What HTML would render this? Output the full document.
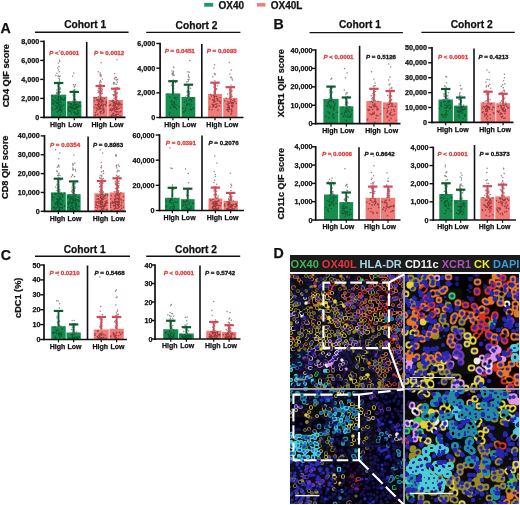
<!DOCTYPE html>
<html><head><meta charset="utf-8"><style>
html,body{margin:0;padding:0;background:#fff;width:520px;height:505px;overflow:hidden}
svg{display:block}
text{font-family:"Liberation Sans",Arial,sans-serif}
</style></head><body>
<svg width="520" height="505" viewBox="0 0 520 505">
<rect width="520" height="505" fill="#fff"/>
<rect x="51.00" y="94.70" width="15.20" height="22.70" fill="#168c4e" />
<rect x="67.10" y="101.30" width="14.30" height="16.10" fill="#168c4e" />
<rect x="93.10" y="96.90" width="14.30" height="20.50" fill="#ef7b7b" />
<rect x="108.30" y="100.00" width="14.60" height="17.40" fill="#ef7b7b" />
<path d="M57.9 100.5h0M61.9 109.9h0M59.4 109.3h0M60.2 97.3h0M58.5 106.2h0M60.4 101.0h0M56.0 100.8h0M52.2 102.9h0M60.7 97.5h0M61.6 111.1h0M52.2 95.6h0M52.5 109.8h0M62.1 98.5h0M59.1 105.4h0M60.3 109.9h0M60.4 98.4h0M52.3 108.8h0M54.4 101.9h0M63.8 105.1h0M56.5 103.3h0M57.3 99.1h0M60.6 107.8h0M58.0 104.1h0M59.5 107.9h0M57.2 112.1h0M57.4 102.7h0M64.5 99.2h0M52.2 95.9h0M57.2 108.6h0M60.7 112.3h0M61.7 105.4h0M53.8 103.5h0M61.2 99.5h0M59.1 102.5h0M57.7 103.7h0M53.7 104.5h0M63.7 100.2h0M58.3 98.0h0M56.7 106.9h0M63.4 99.7h0M61.2 102.7h0M58.4 103.1h0M61.9 106.7h0M52.6 99.6h0M55.1 97.4h0M58.5 96.8h0M60.3 114.9h0M53.3 100.4h0M56.7 107.7h0M59.1 102.8h0M58.2 96.4h0M60.7 107.1h0M59.6 109.2h0M65.0 98.1h0M55.7 105.6h0M58.3 104.5h0M60.6 109.6h0M52.2 107.8h0M58.4 111.0h0M60.3 97.4h0M57.3 108.4h0M55.5 109.2h0M61.8 109.5h0M52.2 96.3h0M56.2 102.2h0M59.8 110.4h0M58.8 100.8h0M58.6 99.8h0M60.0 104.7h0" stroke="#0b4d2a" stroke-opacity="0.8" stroke-width="1.6" stroke-linecap="round"/>
<path d="M58.3 93.4h0M59.1 89.5h0M58.9 91.7h0M59.9 88.9h0M59.3 92.9h0M58.9 86.7h0M58.9 78.5h0M58.2 83.7h0M59.3 81.1h0M57.9 85.8h0M60.0 91.6h0M55.8 75.6h0M57.9 75.9h0M58.4 94.1h0M58.3 63.0h0M57.7 68.1h0M58.4 93.7h0M58.5 93.7h0M58.5 70.0h0M58.2 93.5h0M59.3 76.7h0M59.4 71.7h0M59.6 50.7h0M56.9 73.3h0M60.0 88.2h0M59.4 60.3h0M59.4 82.2h0M59.8 61.6h0M56.6 93.7h0M58.4 94.6h0M59.7 84.0h0M57.3 92.3h0M56.9 90.1h0M56.5 95.5h0M56.5 92.4h0M59.6 79.4h0M60.0 87.8h0M59.1 66.6h0M59.6 92.6h0M58.7 89.6h0M60.1 75.9h0M60.6 92.0h0M60.5 89.1h0M59.1 93.7h0M57.7 94.7h0M58.8 83.4h0M58.4 75.9h0M55.6 94.9h0" stroke="#555" stroke-opacity="0.7" stroke-width="1.5" stroke-linecap="round"/>
<path d="M73.1 105.5h0M70.2 103.9h0M78.7 113.1h0M76.4 107.6h0M77.3 112.1h0M71.0 107.0h0M76.0 106.7h0M77.0 107.4h0M73.2 107.9h0M76.6 108.9h0M74.3 111.9h0M71.1 106.4h0M77.5 113.6h0M68.6 110.5h0M70.1 108.2h0M78.7 110.7h0M74.0 112.4h0M73.9 102.3h0M77.6 114.9h0M68.3 102.7h0M75.2 108.7h0M78.1 110.4h0M71.2 108.2h0M74.3 102.7h0M72.0 110.5h0M79.5 116.6h0M78.2 104.8h0M74.2 105.1h0M78.8 107.1h0M77.6 106.9h0M72.3 107.8h0M74.1 104.7h0M75.2 102.1h0M76.5 106.6h0M75.8 108.8h0M68.7 102.7h0M73.5 109.1h0M75.3 108.0h0M71.2 103.7h0M76.5 104.7h0M71.6 107.2h0M76.2 114.1h0M76.9 104.3h0M69.0 111.3h0M79.3 102.5h0M75.5 108.2h0M70.4 111.2h0M73.6 104.4h0M78.4 106.5h0M73.2 108.1h0M69.8 106.4h0M74.3 103.5h0M75.0 105.6h0M72.2 108.4h0M70.6 108.4h0M68.3 110.3h0M74.9 108.6h0M75.0 112.9h0M68.3 109.3h0M76.2 107.0h0M75.6 105.2h0M71.4 113.3h0M75.2 104.8h0M76.9 103.8h0M76.3 107.4h0M79.2 106.1h0M74.4 108.1h0M71.1 104.4h0M72.6 106.1h0M74.3 109.0h0M75.3 114.0h0M80.2 105.9h0M68.3 107.4h0" stroke="#0b4d2a" stroke-opacity="0.8" stroke-width="1.6" stroke-linecap="round"/>
<path d="M75.1 94.2h0M76.9 102.0h0M73.6 90.5h0M73.5 92.7h0M74.9 92.2h0M73.3 91.6h0M74.2 86.3h0M73.6 98.5h0M75.5 99.4h0M74.2 96.9h0M74.3 86.9h0M74.0 101.2h0M73.9 91.4h0M73.5 91.2h0M69.8 101.5h0M74.5 89.4h0M74.8 96.2h0M74.9 91.0h0M75.1 99.1h0M74.6 94.9h0M73.0 94.7h0M75.5 84.8h0M77.7 101.7h0M72.6 76.0h0M72.5 91.7h0M74.2 90.4h0M74.1 95.7h0M74.6 99.5h0M80.2 101.4h0M74.2 99.1h0M74.6 101.2h0M75.9 100.6h0M73.6 96.0h0M74.8 96.1h0M74.9 96.5h0M74.3 95.1h0M74.8 94.4h0M72.5 101.2h0M80.2 101.4h0M73.8 73.1h0M73.6 95.3h0M73.8 90.7h0M74.8 86.5h0M73.5 84.5h0" stroke="#555" stroke-opacity="0.7" stroke-width="1.5" stroke-linecap="round"/>
<path d="M99.4 109.3h0M97.1 104.9h0M98.3 104.5h0M97.9 107.3h0M99.0 100.2h0M96.2 97.7h0M100.9 108.5h0M101.5 105.3h0M101.8 104.3h0M101.3 102.6h0M96.7 110.7h0M99.4 100.2h0M99.3 107.0h0M97.6 99.8h0M106.2 102.6h0M106.2 101.3h0M94.3 101.1h0M100.5 99.4h0M98.5 99.9h0M100.7 113.8h0M102.5 100.9h0M94.3 107.5h0M99.4 108.8h0M101.2 99.9h0M98.6 105.3h0M100.3 111.8h0M102.1 99.3h0M104.3 98.6h0M100.7 97.8h0M102.9 108.1h0M103.9 112.1h0M103.0 106.8h0M97.3 109.0h0M98.0 101.2h0M100.2 98.8h0M100.4 112.3h0M99.7 108.0h0M100.9 108.9h0M105.5 104.6h0M103.8 109.3h0M96.5 100.0h0M97.7 114.2h0M103.8 104.4h0M101.3 99.9h0M104.0 110.9h0M100.5 105.9h0M98.6 102.7h0M101.2 111.4h0M95.6 114.9h0M97.0 105.1h0M97.7 104.9h0M102.3 104.0h0M99.8 104.1h0M97.6 104.7h0M94.3 97.9h0M106.0 105.5h0M103.3 108.9h0M101.1 101.7h0M101.8 101.2h0M100.9 108.9h0M98.4 109.2h0M103.1 113.2h0M98.5 103.5h0M95.5 112.5h0M102.2 101.6h0M94.9 115.2h0M100.5 106.3h0M99.8 101.6h0M106.2 103.4h0M102.9 109.9h0M98.2 100.0h0M103.1 105.7h0M98.2 100.7h0M95.4 104.9h0M103.5 101.6h0M100.8 106.8h0M96.4 108.2h0M98.6 106.1h0" stroke="#8a2a2a" stroke-opacity="0.8" stroke-width="1.6" stroke-linecap="round"/>
<path d="M100.2 92.3h0M98.1 90.2h0M100.2 94.5h0M100.8 96.6h0M101.1 76.6h0M100.1 73.0h0M102.2 93.3h0M101.2 90.8h0M100.3 89.5h0M102.6 86.6h0M101.6 91.3h0M100.4 80.5h0M100.8 51.8h0M102.9 97.5h0M99.8 82.3h0M100.8 96.3h0M100.8 86.8h0M99.9 93.2h0M99.0 92.0h0M100.9 97.3h0M99.6 84.1h0M100.9 96.6h0M100.1 91.5h0M98.4 96.5h0M100.8 96.8h0M100.1 74.3h0M101.3 86.3h0M106.2 97.2h0M101.2 82.0h0M100.7 84.6h0M100.5 96.8h0M101.1 96.7h0M102.4 89.4h0M101.1 91.6h0M98.3 71.8h0M100.5 91.9h0M99.9 91.4h0M100.2 93.7h0M97.9 92.5h0M101.7 93.6h0M102.0 92.1h0M99.9 91.1h0M100.5 96.7h0M100.2 85.4h0M101.8 88.6h0M99.1 87.6h0M99.9 82.0h0M100.2 85.5h0M98.7 91.8h0M98.6 88.4h0M100.9 94.3h0M100.3 88.7h0M101.6 88.4h0M102.3 79.0h0M101.1 62.7h0M100.4 75.6h0M99.6 91.6h0M99.8 84.5h0M101.0 75.1h0M100.6 95.6h0M99.9 84.2h0M101.5 88.3h0M99.5 88.4h0M99.9 84.9h0M102.0 90.3h0" stroke="#7a4444" stroke-opacity="0.7" stroke-width="1.5" stroke-linecap="round"/>
<path d="M110.0 110.3h0M113.8 107.7h0M115.3 105.5h0M118.0 111.9h0M117.2 109.1h0M116.9 103.7h0M114.3 103.4h0M111.5 110.7h0M114.5 102.7h0M113.0 105.9h0M116.6 112.0h0M113.3 102.6h0M116.1 109.5h0M118.4 114.2h0M120.1 111.9h0M116.7 103.0h0M120.1 103.6h0M115.0 111.3h0M116.4 107.0h0M111.5 115.6h0M117.9 104.8h0M119.1 108.4h0M114.2 108.5h0M119.2 103.6h0M116.8 101.1h0M121.7 104.8h0M113.9 104.1h0M116.5 116.6h0M114.5 106.8h0M118.9 102.5h0M113.0 113.4h0M120.0 115.7h0M116.6 108.1h0M120.1 105.0h0M112.5 109.9h0M110.7 109.1h0M114.6 102.1h0M112.0 101.2h0M111.8 116.2h0M116.8 104.1h0M112.7 114.7h0M109.5 105.4h0M113.3 105.2h0M112.2 108.7h0M114.4 105.4h0M118.5 114.2h0M113.1 113.7h0M118.6 105.8h0M116.9 114.2h0M114.0 115.6h0M115.2 103.0h0M116.0 116.4h0M120.8 111.3h0M117.3 107.6h0M116.1 115.5h0M114.5 106.0h0M114.5 110.0h0M115.7 104.3h0M118.9 102.1h0M119.9 104.5h0M113.9 113.3h0M110.1 105.4h0M118.4 104.1h0M113.3 102.6h0M110.5 104.9h0M113.8 109.0h0M116.0 107.5h0M113.2 100.8h0M117.6 109.3h0M119.9 104.5h0M116.1 103.3h0M116.3 111.8h0M115.5 114.5h0M116.2 107.6h0M116.5 101.5h0M115.4 111.3h0M116.2 108.4h0M121.0 107.5h0" stroke="#8a2a2a" stroke-opacity="0.8" stroke-width="1.6" stroke-linecap="round"/>
<path d="M116.2 87.7h0M114.4 94.2h0M116.6 97.0h0M113.4 84.0h0M114.8 73.4h0M113.9 94.4h0M114.8 91.8h0M112.6 100.4h0M114.0 98.4h0M115.5 77.3h0M117.0 80.0h0M114.7 78.8h0M115.8 98.1h0M117.5 92.7h0M116.9 59.8h0M116.1 92.9h0M114.5 95.4h0M113.6 82.6h0M115.7 97.8h0M117.3 100.3h0M115.7 98.5h0M115.9 92.4h0M115.5 94.0h0M115.8 99.6h0M115.4 88.9h0M116.5 99.0h0M116.3 77.5h0M112.8 99.9h0M115.5 93.0h0M117.0 94.1h0M116.9 92.8h0M114.8 95.0h0M115.3 90.4h0M114.9 92.3h0M115.0 84.0h0M114.7 78.2h0M115.2 97.5h0M116.9 93.7h0M116.6 79.9h0M116.8 96.2h0M115.7 93.6h0M116.8 88.8h0M117.4 87.7h0M116.2 89.2h0M113.1 94.4h0M114.1 94.4h0M116.9 97.3h0M113.5 95.8h0M115.9 95.8h0M117.6 79.2h0M116.1 79.7h0M116.8 97.1h0M114.0 91.2h0M114.9 95.5h0M117.3 82.2h0M116.6 84.2h0M116.6 96.8h0M115.4 96.0h0M115.8 97.3h0M114.5 78.8h0M116.3 97.7h0M115.4 95.9h0M117.0 93.8h0M115.0 92.1h0M114.2 82.7h0" stroke="#7a4444" stroke-opacity="0.7" stroke-width="1.5" stroke-linecap="round"/>
<line x1="58.60" y1="94.70" x2="58.60" y2="82.80" stroke="#0b5b31" stroke-width="1.8"/>
<line x1="53.90" y1="83.00" x2="63.30" y2="83.00" stroke="#0b5b31" stroke-width="2.2"/>
<line x1="74.25" y1="101.30" x2="74.25" y2="91.70" stroke="#0b5b31" stroke-width="1.8"/>
<line x1="69.55" y1="91.90" x2="78.95" y2="91.90" stroke="#0b5b31" stroke-width="2.2"/>
<line x1="100.25" y1="96.90" x2="100.25" y2="85.80" stroke="#d24a5a" stroke-width="1.8"/>
<line x1="95.55" y1="86.00" x2="104.95" y2="86.00" stroke="#d24a5a" stroke-width="2.2"/>
<line x1="115.60" y1="100.00" x2="115.60" y2="88.50" stroke="#d24a5a" stroke-width="1.8"/>
<line x1="110.90" y1="88.70" x2="120.30" y2="88.70" stroke="#d24a5a" stroke-width="2.2"/>
<line x1="44.00" y1="40.60" x2="44.00" y2="118.20" stroke="#111" stroke-width="1.7"/>
<line x1="43.20" y1="117.40" x2="125.50" y2="117.40" stroke="#111" stroke-width="1.7"/>
<line x1="40.20" y1="117.40" x2="44.00" y2="117.40" stroke="#111" stroke-width="1.4"/>
<text x="39.30" y="119.90" font-size="7.2" font-weight="bold" fill="#111" stroke="#111" stroke-width="0.25" text-anchor="end" >0</text>
<line x1="40.20" y1="98.40" x2="44.00" y2="98.40" stroke="#111" stroke-width="1.4"/>
<text x="39.30" y="100.90" font-size="7.2" font-weight="bold" fill="#111" stroke="#111" stroke-width="0.25" text-anchor="end" >2,000</text>
<line x1="40.20" y1="79.40" x2="44.00" y2="79.40" stroke="#111" stroke-width="1.4"/>
<text x="39.30" y="81.90" font-size="7.2" font-weight="bold" fill="#111" stroke="#111" stroke-width="0.25" text-anchor="end" >4,000</text>
<line x1="40.20" y1="60.40" x2="44.00" y2="60.40" stroke="#111" stroke-width="1.4"/>
<text x="39.30" y="62.90" font-size="7.2" font-weight="bold" fill="#111" stroke="#111" stroke-width="0.25" text-anchor="end" >6,000</text>
<line x1="40.20" y1="41.40" x2="44.00" y2="41.40" stroke="#111" stroke-width="1.4"/>
<text x="39.30" y="43.90" font-size="7.2" font-weight="bold" fill="#111" stroke="#111" stroke-width="0.25" text-anchor="end" >8,000</text>
<line x1="86.70" y1="41.90" x2="86.70" y2="117.40" stroke="#111" stroke-width="1.6"/>
<line x1="58.60" y1="117.40" x2="58.60" y2="120.20" stroke="#111" stroke-width="1.2"/>
<text x="57.70" y="126.60" font-size="7.0" font-weight="bold" fill="#111" stroke="#111" stroke-width="0.25" text-anchor="middle" >High</text>
<line x1="74.25" y1="117.40" x2="74.25" y2="120.20" stroke="#111" stroke-width="1.2"/>
<text x="75.15" y="126.60" font-size="7.0" font-weight="bold" fill="#111" stroke="#111" stroke-width="0.25" text-anchor="middle" >Low</text>
<line x1="100.25" y1="117.40" x2="100.25" y2="120.20" stroke="#111" stroke-width="1.2"/>
<text x="99.35" y="126.60" font-size="7.0" font-weight="bold" fill="#111" stroke="#111" stroke-width="0.25" text-anchor="middle" >High</text>
<line x1="115.60" y1="117.40" x2="115.60" y2="120.20" stroke="#111" stroke-width="1.2"/>
<text x="116.50" y="126.60" font-size="7.0" font-weight="bold" fill="#111" stroke="#111" stroke-width="0.25" text-anchor="middle" >Low</text>
<text x="49.20" y="55.30" font-size="6.2" font-weight="bold" fill="#d6403f" stroke="#d6403f" stroke-width="0.3"><tspan font-style="italic">P</tspan> < 0.0001</text>
<text x="94.10" y="55.30" font-size="6.2" font-weight="bold" fill="#d6403f" stroke="#d6403f" stroke-width="0.3"><tspan font-style="italic">P</tspan> = 0.0012</text>
<rect x="165.60" y="93.40" width="14.70" height="24.10" fill="#168c4e" />
<rect x="181.50" y="97.00" width="13.80" height="20.50" fill="#168c4e" />
<rect x="208.10" y="94.00" width="13.90" height="23.50" fill="#ef7b7b" />
<rect x="223.20" y="97.90" width="14.20" height="19.60" fill="#ef7b7b" />
<path d="M170.1 107.0h0M171.1 101.6h0M173.2 102.2h0M174.5 102.8h0M175.5 107.4h0M172.6 105.5h0M176.1 105.0h0M176.1 99.6h0M179.1 106.7h0M172.8 94.2h0M175.0 98.1h0M173.8 107.4h0M174.8 104.0h0M172.5 104.2h0M171.0 108.3h0M171.7 104.0h0M174.3 97.9h0M169.5 114.5h0M174.2 106.4h0M177.3 97.5h0M176.4 109.2h0M172.5 104.1h0M174.3 101.8h0M169.6 112.5h0M171.6 100.8h0M172.9 105.4h0M175.0 97.3h0M169.8 97.1h0" stroke="#0b4d2a" stroke-opacity="0.8" stroke-width="1.6" stroke-linecap="round"/>
<path d="M173.5 87.0h0M173.2 80.1h0M171.4 85.3h0M175.4 82.8h0M173.7 67.4h0M172.0 71.1h0M173.2 73.6h0M173.0 87.9h0M173.3 83.1h0M173.6 71.5h0M173.8 85.8h0M172.7 82.2h0M173.0 75.4h0M173.0 72.4h0M172.5 90.5h0M172.8 88.9h0M173.7 88.7h0M173.1 74.9h0M173.3 81.8h0M174.2 75.0h0M167.8 93.7h0M172.2 74.3h0M172.6 92.9h0M173.7 91.9h0M173.0 84.0h0M172.3 83.8h0M173.5 66.9h0M173.4 93.6h0M173.3 89.6h0M172.3 73.2h0" stroke="#555" stroke-opacity="0.7" stroke-width="1.5" stroke-linecap="round"/>
<path d="M191.0 99.4h0M183.3 112.3h0M186.6 105.4h0M189.9 99.5h0M188.0 103.7h0M191.7 109.6h0M187.5 104.8h0M189.5 104.0h0M191.5 104.2h0M192.7 98.5h0M190.4 106.3h0M191.1 101.2h0M187.0 104.3h0M193.1 108.3h0M184.1 111.9h0M190.1 110.0h0M185.8 108.4h0M186.5 100.9h0M190.6 108.7h0M189.3 99.7h0M184.3 102.0h0M185.4 110.4h0M191.0 99.2h0M193.7 107.9h0M182.7 108.3h0" stroke="#0b4d2a" stroke-opacity="0.8" stroke-width="1.6" stroke-linecap="round"/>
<path d="M188.5 80.3h0M189.2 77.2h0M187.6 95.8h0M188.5 76.6h0M188.0 90.4h0M187.6 95.3h0M187.2 91.5h0M188.8 95.6h0M189.1 72.3h0M188.9 94.0h0M188.1 92.0h0M188.5 94.6h0M189.7 91.8h0M188.3 75.0h0M186.6 82.0h0M188.9 79.4h0M188.1 81.4h0M185.7 97.1h0M187.9 79.6h0M187.2 92.2h0M188.8 85.1h0M189.0 79.2h0M189.4 97.0h0M189.3 93.5h0M187.9 71.7h0M188.4 94.3h0M187.1 95.4h0M188.3 87.8h0M190.6 88.3h0M189.2 93.9h0M188.4 95.8h0M188.1 96.5h0M189.8 60.6h0" stroke="#555" stroke-opacity="0.7" stroke-width="1.5" stroke-linecap="round"/>
<path d="M214.5 98.7h0M214.4 96.9h0M217.5 100.1h0M215.1 101.3h0M213.7 106.2h0M209.8 107.0h0M212.4 104.4h0M212.7 107.1h0M213.7 95.7h0M209.3 109.3h0M211.4 96.0h0M220.2 101.8h0M212.7 99.9h0M214.6 102.0h0M213.1 100.0h0M216.8 98.5h0M214.5 97.2h0M213.8 106.1h0M216.8 103.7h0M213.7 102.2h0M212.8 104.9h0M215.8 107.4h0M213.8 95.9h0M209.9 98.7h0M220.1 103.1h0M220.0 97.7h0M215.8 104.2h0M217.9 99.7h0M217.4 98.4h0M214.3 100.4h0M217.0 106.0h0M219.2 100.8h0M219.3 105.8h0M214.4 96.9h0M214.1 104.7h0M217.7 110.3h0M215.0 96.2h0M217.4 100.7h0M211.9 109.7h0M216.6 106.6h0M216.5 96.4h0" stroke="#8a2a2a" stroke-opacity="0.8" stroke-width="1.6" stroke-linecap="round"/>
<path d="M215.3 93.6h0M215.7 88.9h0M215.1 73.9h0M213.7 87.1h0M214.0 92.9h0M214.8 89.7h0M214.8 80.8h0M212.8 76.8h0M210.7 94.2h0M215.1 94.5h0M214.0 91.8h0M214.5 93.8h0M215.2 85.0h0M214.5 64.7h0M215.7 89.9h0M214.8 93.5h0M214.7 91.5h0M214.0 68.0h0M215.4 87.3h0M214.3 73.4h0M216.9 89.0h0M216.7 83.3h0M215.8 88.5h0M213.8 84.4h0M215.1 74.8h0M217.4 85.7h0M215.0 82.4h0M215.5 83.0h0M216.7 89.0h0M215.0 85.2h0" stroke="#7a4444" stroke-opacity="0.7" stroke-width="1.5" stroke-linecap="round"/>
<path d="M228.6 111.5h0M231.3 103.6h0M232.7 103.9h0M233.3 102.9h0M231.9 102.2h0M231.8 111.4h0M234.6 99.6h0M229.1 103.2h0M231.7 110.4h0M228.5 109.5h0M228.5 105.4h0M231.6 113.2h0M228.2 107.1h0M231.5 103.1h0M228.0 101.9h0M230.4 101.9h0M229.2 107.9h0M231.0 99.7h0M230.7 99.8h0M227.3 104.3h0M227.8 104.0h0M229.2 106.8h0M236.2 103.2h0M232.2 102.6h0M227.6 110.4h0M233.1 100.5h0M231.5 109.4h0M228.1 105.2h0M233.0 105.9h0M224.8 100.8h0M228.9 109.8h0M231.4 105.6h0M230.9 114.2h0M227.6 107.6h0M229.7 109.0h0M232.3 106.9h0M227.0 109.5h0M229.2 107.1h0M234.7 101.6h0" stroke="#8a2a2a" stroke-opacity="0.8" stroke-width="1.6" stroke-linecap="round"/>
<path d="M231.7 96.4h0M230.4 88.9h0M231.1 97.4h0M231.1 96.2h0M231.7 94.2h0M231.0 84.9h0M230.6 96.4h0M229.8 93.0h0M231.2 76.9h0M232.0 78.8h0M230.6 95.5h0M232.5 80.0h0M226.3 98.1h0M230.1 90.0h0M230.6 77.6h0M229.7 97.4h0M231.3 91.2h0M229.9 74.1h0M229.9 90.6h0M231.7 92.1h0M230.4 90.5h0M230.8 95.6h0M229.9 98.3h0M231.2 94.7h0M231.1 96.1h0M231.2 88.9h0M231.3 69.9h0M229.3 62.6h0M231.9 90.4h0M227.6 94.0h0M232.2 96.2h0M231.9 90.7h0" stroke="#7a4444" stroke-opacity="0.7" stroke-width="1.5" stroke-linecap="round"/>
<line x1="172.95" y1="93.40" x2="172.95" y2="81.00" stroke="#0b5b31" stroke-width="1.8"/>
<line x1="168.25" y1="81.20" x2="177.65" y2="81.20" stroke="#0b5b31" stroke-width="2.2"/>
<line x1="188.40" y1="97.00" x2="188.40" y2="84.50" stroke="#0b5b31" stroke-width="1.8"/>
<line x1="183.70" y1="84.70" x2="193.10" y2="84.70" stroke="#0b5b31" stroke-width="2.2"/>
<line x1="215.05" y1="94.00" x2="215.05" y2="82.50" stroke="#d24a5a" stroke-width="1.8"/>
<line x1="210.35" y1="82.70" x2="219.75" y2="82.70" stroke="#d24a5a" stroke-width="2.2"/>
<line x1="230.30" y1="97.90" x2="230.30" y2="87.00" stroke="#d24a5a" stroke-width="1.8"/>
<line x1="225.60" y1="87.20" x2="235.00" y2="87.20" stroke="#d24a5a" stroke-width="2.2"/>
<line x1="160.10" y1="42.70" x2="160.10" y2="118.30" stroke="#111" stroke-width="1.7"/>
<line x1="159.30" y1="117.50" x2="243.50" y2="117.50" stroke="#111" stroke-width="1.7"/>
<line x1="156.30" y1="117.50" x2="160.10" y2="117.50" stroke="#111" stroke-width="1.4"/>
<text x="155.20" y="120.00" font-size="7.2" font-weight="bold" fill="#111" stroke="#111" stroke-width="0.25" text-anchor="end" >0</text>
<line x1="156.30" y1="92.83" x2="160.10" y2="92.83" stroke="#111" stroke-width="1.4"/>
<text x="155.20" y="95.33" font-size="7.2" font-weight="bold" fill="#111" stroke="#111" stroke-width="0.25" text-anchor="end" >2,000</text>
<line x1="156.30" y1="68.17" x2="160.10" y2="68.17" stroke="#111" stroke-width="1.4"/>
<text x="155.20" y="70.67" font-size="7.2" font-weight="bold" fill="#111" stroke="#111" stroke-width="0.25" text-anchor="end" >4,000</text>
<line x1="156.30" y1="43.50" x2="160.10" y2="43.50" stroke="#111" stroke-width="1.4"/>
<text x="155.20" y="46.00" font-size="7.2" font-weight="bold" fill="#111" stroke="#111" stroke-width="0.25" text-anchor="end" >6,000</text>
<line x1="201.80" y1="44.00" x2="201.80" y2="117.50" stroke="#111" stroke-width="1.6"/>
<line x1="172.95" y1="117.50" x2="172.95" y2="120.30" stroke="#111" stroke-width="1.2"/>
<text x="172.05" y="126.70" font-size="7.0" font-weight="bold" fill="#111" stroke="#111" stroke-width="0.25" text-anchor="middle" >High</text>
<line x1="188.40" y1="117.50" x2="188.40" y2="120.30" stroke="#111" stroke-width="1.2"/>
<text x="189.30" y="126.70" font-size="7.0" font-weight="bold" fill="#111" stroke="#111" stroke-width="0.25" text-anchor="middle" >Low</text>
<line x1="215.05" y1="117.50" x2="215.05" y2="120.30" stroke="#111" stroke-width="1.2"/>
<text x="214.15" y="126.70" font-size="7.0" font-weight="bold" fill="#111" stroke="#111" stroke-width="0.25" text-anchor="middle" >High</text>
<line x1="230.30" y1="117.50" x2="230.30" y2="120.30" stroke="#111" stroke-width="1.2"/>
<text x="231.20" y="126.70" font-size="7.0" font-weight="bold" fill="#111" stroke="#111" stroke-width="0.25" text-anchor="middle" >Low</text>
<text x="164.70" y="53.30" font-size="6.2" font-weight="bold" fill="#d6403f" stroke="#d6403f" stroke-width="0.3"><tspan font-style="italic">P</tspan> = 0.0451</text>
<text x="206.70" y="53.30" font-size="6.2" font-weight="bold" fill="#d6403f" stroke="#d6403f" stroke-width="0.3"><tspan font-style="italic">P</tspan> = 0.0093</text>
<rect x="51.00" y="192.40" width="14.80" height="18.90" fill="#168c4e" />
<rect x="66.70" y="194.20" width="13.90" height="17.10" fill="#168c4e" />
<rect x="94.40" y="193.30" width="14.20" height="18.00" fill="#ef7b7b" />
<rect x="109.50" y="192.40" width="15.20" height="18.90" fill="#ef7b7b" />
<path d="M58.2 198.6h0M57.6 203.7h0M58.7 207.2h0M57.6 202.7h0M57.9 204.1h0M56.2 193.8h0M60.3 210.5h0M60.1 194.2h0M58.1 200.9h0M60.2 197.9h0M52.4 199.9h0M54.3 207.7h0M64.6 193.2h0M57.4 201.8h0M59.8 210.4h0M56.0 194.4h0M57.3 204.1h0M57.8 200.0h0M54.5 207.0h0M62.6 195.4h0M60.4 207.5h0M56.9 204.3h0M59.8 203.5h0M56.5 199.1h0M62.6 207.9h0M59.6 198.9h0M59.4 199.0h0M58.8 193.5h0M55.5 209.1h0M56.6 207.8h0M57.7 204.7h0M64.4 206.1h0M53.3 207.6h0M62.0 207.8h0M62.5 196.2h0M56.9 202.4h0M58.6 201.2h0M59.2 200.1h0M62.3 204.5h0M55.6 204.4h0M55.0 202.9h0M64.6 206.0h0M58.8 204.7h0M57.8 206.4h0M57.2 198.7h0M58.3 202.1h0M59.0 209.5h0M61.0 199.5h0M60.9 205.2h0M61.4 203.8h0M60.9 198.2h0M57.0 202.7h0M58.3 200.9h0M59.6 208.4h0M58.1 196.2h0M52.2 196.6h0M62.5 197.0h0M58.7 196.2h0M56.8 201.5h0M60.0 203.2h0M64.6 211.0h0M62.6 201.1h0M54.9 193.6h0M57.9 202.5h0M56.3 204.0h0M61.5 194.1h0M52.6 197.2h0M60.7 204.6h0M52.2 194.5h0M58.5 193.4h0M60.5 197.2h0M60.2 203.1h0M59.1 199.2h0M59.5 203.1h0M54.3 197.6h0" stroke="#0b4d2a" stroke-opacity="0.8" stroke-width="1.6" stroke-linecap="round"/>
<path d="M58.6 180.6h0M58.5 192.3h0M57.8 181.4h0M58.6 182.1h0M59.8 191.1h0M59.7 189.4h0M57.0 185.0h0M57.7 175.6h0M57.6 189.9h0M57.2 188.3h0M57.8 179.2h0M58.8 186.9h0M58.1 183.9h0M55.6 187.0h0M58.1 165.7h0M57.5 181.5h0M58.2 187.2h0M58.4 186.2h0M58.9 164.9h0M56.9 190.5h0M57.9 187.0h0M58.0 175.4h0M56.6 171.0h0M57.5 171.5h0M58.7 191.3h0M58.5 175.8h0M58.6 184.7h0M57.3 167.3h0M59.1 173.3h0M58.2 174.2h0M61.1 193.1h0M57.7 188.3h0M59.9 153.1h0M58.7 178.1h0M57.9 192.2h0M59.8 192.4h0M58.5 180.7h0M57.3 190.3h0M55.6 149.8h0M58.4 186.6h0M58.7 158.7h0M58.2 180.2h0M57.2 184.0h0M58.6 187.6h0M59.9 175.2h0M56.9 178.5h0M58.2 181.6h0M58.7 185.2h0M58.7 191.3h0M59.0 166.8h0M60.7 180.1h0M57.8 181.4h0M57.7 191.4h0M58.6 177.9h0M58.0 184.7h0" stroke="#555" stroke-opacity="0.7" stroke-width="1.5" stroke-linecap="round"/>
<path d="M73.1 196.5h0M71.3 197.8h0M75.3 198.6h0M72.8 199.0h0M73.8 200.4h0M70.5 209.6h0M74.4 195.3h0M68.3 196.6h0M72.1 198.0h0M78.3 206.6h0M72.9 208.5h0M70.4 208.5h0M78.9 197.5h0M73.6 200.3h0M73.3 210.6h0M75.9 200.9h0M70.8 208.6h0M72.5 202.1h0M68.1 196.1h0M75.7 208.4h0M69.8 201.5h0M75.2 207.1h0M67.9 197.6h0M73.0 202.6h0M72.1 208.5h0M73.1 209.0h0M70.7 198.4h0M76.5 203.6h0M73.2 207.3h0M72.3 201.6h0M74.5 202.2h0M79.4 200.3h0M75.8 202.9h0M78.2 201.4h0M77.0 209.3h0M76.0 206.2h0M72.8 199.7h0M72.2 205.1h0M76.0 200.4h0M71.3 205.7h0M75.8 205.2h0M76.4 204.1h0M67.9 203.1h0M73.6 210.1h0M71.8 203.4h0M76.5 205.5h0M70.8 202.9h0M73.8 197.8h0M74.3 200.0h0M75.6 200.4h0M74.8 195.1h0M76.5 204.3h0M69.5 207.3h0M77.8 199.8h0M73.9 202.8h0M75.5 195.9h0M69.5 198.4h0M71.7 197.9h0M75.0 210.8h0M70.3 200.2h0M72.7 207.4h0M78.8 206.5h0M75.0 204.7h0M69.0 203.5h0M69.8 198.3h0M68.6 204.9h0M75.1 202.8h0M75.9 207.1h0M71.0 198.9h0M67.9 207.8h0M76.1 199.4h0M73.0 199.3h0M72.2 208.4h0M70.3 196.3h0M79.4 200.6h0M71.9 205.8h0M72.5 198.8h0M69.4 202.0h0M71.1 205.9h0M72.8 201.0h0M76.3 204.6h0" stroke="#0b4d2a" stroke-opacity="0.8" stroke-width="1.6" stroke-linecap="round"/>
<path d="M72.6 193.0h0M73.5 184.4h0M72.4 174.5h0M74.6 176.5h0M74.5 193.7h0M73.9 154.9h0M72.4 192.5h0M73.9 190.1h0M73.4 191.1h0M75.3 169.5h0M73.9 186.7h0M73.3 189.4h0M72.9 169.8h0M74.4 190.2h0M74.5 191.3h0M73.1 170.0h0M72.5 183.7h0M74.9 142.9h0M74.1 176.8h0M73.1 194.9h0M74.2 189.3h0M72.2 189.2h0M71.8 191.4h0M73.0 189.4h0M76.0 194.4h0M74.0 193.9h0M69.7 194.7h0M73.9 193.4h0M72.1 190.4h0M74.0 188.0h0M72.7 168.1h0M75.4 183.7h0M71.3 176.7h0M73.3 164.6h0M72.7 163.8h0M73.0 165.3h0M71.9 194.5h0M75.6 170.9h0M72.9 185.7h0M74.9 162.9h0M73.7 188.9h0M75.3 188.0h0M72.5 185.1h0M72.0 187.2h0M72.2 190.5h0M74.8 186.5h0M72.5 175.3h0M73.3 169.1h0M73.9 190.6h0" stroke="#555" stroke-opacity="0.7" stroke-width="1.5" stroke-linecap="round"/>
<path d="M103.3 199.5h0M102.9 197.2h0M96.2 202.9h0M101.6 199.7h0M101.3 198.5h0M103.7 207.1h0M104.3 205.7h0M102.4 198.9h0M98.9 203.5h0M95.9 205.0h0M95.7 207.3h0M100.7 196.9h0M101.6 204.5h0M96.6 205.1h0M101.7 200.9h0M100.4 210.6h0M104.5 204.9h0M103.1 208.3h0M102.6 199.2h0M106.6 202.8h0M102.5 208.8h0M98.3 196.2h0M107.4 194.2h0M100.7 195.1h0M98.4 198.9h0M103.2 196.9h0M102.3 203.1h0M102.3 209.7h0M104.3 204.1h0M97.6 208.1h0M104.4 206.0h0M105.7 194.4h0M102.5 194.2h0M107.4 202.8h0M96.3 202.7h0M101.7 207.1h0M101.9 202.9h0M102.9 206.0h0M102.9 195.0h0M101.9 194.5h0M100.6 204.8h0M100.9 201.9h0M102.8 202.2h0M102.3 201.9h0M105.8 203.4h0M105.6 204.1h0M96.4 210.7h0M105.2 196.0h0M101.0 198.5h0M100.4 198.0h0M101.2 206.9h0M101.1 196.7h0M104.5 195.9h0M107.4 195.5h0M100.0 201.5h0M103.6 206.3h0M99.1 201.6h0M106.5 209.2h0M97.1 199.3h0M98.0 205.9h0M99.0 199.7h0M100.0 206.4h0M107.4 209.7h0M103.8 208.9h0M105.6 202.8h0M102.5 198.2h0M105.9 205.7h0M100.6 200.9h0M100.5 203.7h0M107.2 202.4h0M102.0 205.1h0M104.9 198.2h0M105.5 201.6h0M106.8 200.6h0M103.4 197.5h0M97.0 195.6h0M102.7 206.3h0M101.9 194.1h0M104.7 205.5h0M105.0 198.2h0M100.0 207.1h0M96.0 201.9h0M104.4 206.7h0M100.0 195.1h0M100.5 202.9h0M101.3 209.0h0M97.8 202.1h0" stroke="#8a2a2a" stroke-opacity="0.8" stroke-width="1.6" stroke-linecap="round"/>
<path d="M102.1 186.6h0M100.3 190.7h0M99.9 177.6h0M103.4 192.1h0M101.5 187.0h0M101.2 167.9h0M99.8 177.5h0M100.4 186.1h0M100.2 175.2h0M100.4 192.0h0M101.5 184.6h0M103.6 173.5h0M100.2 149.8h0M100.2 178.6h0M101.4 182.0h0M101.9 188.5h0M102.0 184.1h0M101.4 171.7h0M101.9 190.9h0M102.0 187.0h0M103.4 170.7h0M100.2 189.5h0M101.8 192.8h0M103.2 192.6h0M102.3 190.7h0M102.2 180.4h0M101.4 180.5h0M103.4 171.3h0M101.9 190.5h0M101.8 181.5h0M102.3 179.5h0M101.2 167.2h0M99.9 187.3h0M101.1 186.6h0M101.6 184.3h0M103.1 182.9h0M99.5 186.8h0M102.7 152.9h0M100.8 193.2h0M101.8 189.0h0M101.7 191.4h0M101.0 167.4h0M101.6 185.8h0M101.8 179.8h0M101.5 188.3h0M100.3 182.9h0M101.3 185.9h0M99.5 183.7h0M101.5 166.1h0M101.9 175.2h0M102.5 192.0h0M99.5 191.7h0M102.8 183.1h0M102.0 181.0h0M102.6 183.3h0M101.5 178.3h0M101.1 189.1h0M101.4 188.8h0M102.6 183.1h0M101.1 162.4h0M100.7 185.2h0M101.8 185.1h0M101.9 185.6h0M101.5 192.3h0M101.8 176.3h0M101.7 186.3h0M101.2 184.9h0M103.4 178.4h0M101.9 185.6h0" stroke="#7a4444" stroke-opacity="0.7" stroke-width="1.5" stroke-linecap="round"/>
<path d="M121.7 202.6h0M119.0 195.1h0M123.5 196.6h0M117.7 202.4h0M115.7 202.6h0M120.0 198.8h0M120.3 209.5h0M122.2 211.2h0M112.4 201.6h0M115.2 205.4h0M118.1 205.9h0M114.1 202.4h0M115.3 196.3h0M116.4 208.3h0M123.4 200.6h0M115.8 195.9h0M113.9 206.1h0M110.7 207.4h0M114.8 202.3h0M115.7 202.4h0M119.0 196.3h0M118.7 203.0h0M114.3 209.0h0M119.0 207.4h0M115.3 198.3h0M117.9 193.3h0M110.7 203.6h0M119.0 200.2h0M119.4 204.3h0M117.2 201.4h0M118.9 206.1h0M116.8 199.0h0M114.6 199.6h0M117.4 204.6h0M115.3 208.3h0M118.9 206.8h0M115.0 202.5h0M113.6 205.4h0M115.3 201.6h0M118.1 202.8h0M112.5 203.3h0M114.5 199.7h0M118.0 208.2h0M119.9 194.1h0M115.6 207.6h0M115.1 199.6h0M116.9 194.4h0M118.0 205.7h0M123.5 207.1h0M121.7 208.3h0M118.1 204.6h0M115.4 204.3h0M118.8 195.7h0M118.8 201.6h0M116.9 194.0h0M115.4 203.6h0M115.8 206.4h0M119.1 201.7h0M116.0 204.3h0M118.8 196.0h0M111.7 210.2h0M115.0 201.4h0M119.2 197.5h0M113.3 202.6h0M119.5 202.1h0M118.4 198.9h0M110.8 203.0h0M116.8 201.9h0M117.7 194.1h0M121.3 199.9h0M116.0 196.0h0M115.2 198.1h0M121.3 205.8h0M118.0 195.4h0M111.2 195.5h0M117.8 202.7h0M115.3 195.3h0M110.7 203.4h0M118.7 199.3h0M121.2 205.2h0M117.3 198.1h0M119.1 201.6h0M115.7 195.9h0M117.4 210.6h0M110.7 205.2h0M110.7 199.0h0M118.8 202.0h0" stroke="#8a2a2a" stroke-opacity="0.8" stroke-width="1.6" stroke-linecap="round"/>
<path d="M118.3 186.5h0M118.8 187.9h0M114.3 191.8h0M117.3 185.4h0M117.6 191.3h0M117.9 182.4h0M116.3 154.9h0M117.8 182.7h0M116.8 188.7h0M118.7 191.2h0M117.9 185.2h0M118.3 181.5h0M117.2 181.0h0M119.0 183.5h0M116.6 175.2h0M117.6 182.3h0M115.2 181.2h0M119.2 171.1h0M116.3 183.9h0M115.8 154.7h0M118.5 187.6h0M117.2 176.3h0M116.9 185.2h0M119.0 176.0h0M120.8 192.8h0M116.9 179.7h0M116.3 166.3h0M118.7 165.1h0M116.6 188.0h0M118.8 190.7h0M115.3 184.1h0M117.5 182.3h0M117.8 170.5h0M117.4 177.3h0M117.3 191.7h0M118.0 191.4h0M117.2 177.3h0M116.0 193.2h0M116.3 177.7h0M118.0 185.6h0M118.8 185.6h0M117.9 170.6h0M114.4 142.9h0M117.6 186.6h0M115.6 155.0h0M116.8 165.1h0M115.3 182.9h0M117.5 190.4h0M116.2 156.3h0M119.2 181.1h0M117.8 190.0h0M116.5 165.4h0M115.3 188.5h0M116.0 191.5h0M116.8 167.8h0M116.4 143.3h0M118.4 192.4h0M117.1 172.1h0M117.3 192.3h0M114.6 142.9h0M116.9 189.3h0M115.8 184.7h0M117.2 177.3h0M117.9 191.6h0M117.5 186.7h0M118.5 176.8h0M116.8 177.8h0M119.2 166.4h0M118.1 185.7h0" stroke="#7a4444" stroke-opacity="0.7" stroke-width="1.5" stroke-linecap="round"/>
<line x1="58.40" y1="192.40" x2="58.40" y2="178.50" stroke="#0b5b31" stroke-width="1.8"/>
<line x1="53.70" y1="178.70" x2="63.10" y2="178.70" stroke="#0b5b31" stroke-width="2.2"/>
<line x1="73.65" y1="194.20" x2="73.65" y2="181.20" stroke="#0b5b31" stroke-width="1.8"/>
<line x1="68.95" y1="181.40" x2="78.35" y2="181.40" stroke="#0b5b31" stroke-width="2.2"/>
<line x1="101.50" y1="193.30" x2="101.50" y2="180.80" stroke="#d24a5a" stroke-width="1.8"/>
<line x1="96.80" y1="181.00" x2="106.20" y2="181.00" stroke="#d24a5a" stroke-width="2.2"/>
<line x1="117.10" y1="192.40" x2="117.10" y2="178.10" stroke="#d24a5a" stroke-width="1.8"/>
<line x1="112.40" y1="178.30" x2="121.80" y2="178.30" stroke="#d24a5a" stroke-width="2.2"/>
<line x1="44.50" y1="135.10" x2="44.50" y2="212.10" stroke="#111" stroke-width="1.7"/>
<line x1="43.70" y1="211.30" x2="126.00" y2="211.30" stroke="#111" stroke-width="1.7"/>
<line x1="40.70" y1="211.30" x2="44.50" y2="211.30" stroke="#111" stroke-width="1.4"/>
<text x="39.80" y="213.80" font-size="7.2" font-weight="bold" fill="#111" stroke="#111" stroke-width="0.25" text-anchor="end" >0</text>
<line x1="40.70" y1="192.45" x2="44.50" y2="192.45" stroke="#111" stroke-width="1.4"/>
<text x="39.80" y="194.95" font-size="7.2" font-weight="bold" fill="#111" stroke="#111" stroke-width="0.25" text-anchor="end" >10,000</text>
<line x1="40.70" y1="173.60" x2="44.50" y2="173.60" stroke="#111" stroke-width="1.4"/>
<text x="39.80" y="176.10" font-size="7.2" font-weight="bold" fill="#111" stroke="#111" stroke-width="0.25" text-anchor="end" >20,000</text>
<line x1="40.70" y1="154.75" x2="44.50" y2="154.75" stroke="#111" stroke-width="1.4"/>
<text x="39.80" y="157.25" font-size="7.2" font-weight="bold" fill="#111" stroke="#111" stroke-width="0.25" text-anchor="end" >30,000</text>
<line x1="40.70" y1="135.90" x2="44.50" y2="135.90" stroke="#111" stroke-width="1.4"/>
<text x="39.80" y="138.40" font-size="7.2" font-weight="bold" fill="#111" stroke="#111" stroke-width="0.25" text-anchor="end" >40,000</text>
<line x1="88.10" y1="136.40" x2="88.10" y2="211.30" stroke="#111" stroke-width="1.6"/>
<line x1="58.40" y1="211.30" x2="58.40" y2="214.10" stroke="#111" stroke-width="1.2"/>
<text x="57.50" y="220.50" font-size="7.0" font-weight="bold" fill="#111" stroke="#111" stroke-width="0.25" text-anchor="middle" >High</text>
<line x1="73.65" y1="211.30" x2="73.65" y2="214.10" stroke="#111" stroke-width="1.2"/>
<text x="74.55" y="220.50" font-size="7.0" font-weight="bold" fill="#111" stroke="#111" stroke-width="0.25" text-anchor="middle" >Low</text>
<line x1="101.50" y1="211.30" x2="101.50" y2="214.10" stroke="#111" stroke-width="1.2"/>
<text x="100.60" y="220.50" font-size="7.0" font-weight="bold" fill="#111" stroke="#111" stroke-width="0.25" text-anchor="middle" >High</text>
<line x1="117.10" y1="211.30" x2="117.10" y2="214.10" stroke="#111" stroke-width="1.2"/>
<text x="118.00" y="220.50" font-size="7.0" font-weight="bold" fill="#111" stroke="#111" stroke-width="0.25" text-anchor="middle" >Low</text>
<text x="50.00" y="146.60" font-size="6.2" font-weight="bold" fill="#d6403f" stroke="#d6403f" stroke-width="0.3"><tspan font-style="italic">P</tspan> = 0.0354</text>
<text x="93.00" y="146.60" font-size="6.2" font-weight="bold" fill="#111" stroke="#111" stroke-width="0.3"><tspan font-style="italic">P</tspan> = 0.8963</text>
<rect x="165.00" y="197.80" width="14.60" height="12.70" fill="#168c4e" />
<rect x="180.80" y="199.20" width="13.80" height="11.30" fill="#168c4e" />
<rect x="208.50" y="198.50" width="13.80" height="12.00" fill="#ef7b7b" />
<rect x="223.50" y="200.80" width="14.30" height="9.70" fill="#ef7b7b" />
<path d="M174.0 206.4h0M173.3 203.1h0M166.2 206.0h0M170.9 198.8h0M169.8 200.8h0M172.0 206.6h0M175.0 202.1h0M170.8 200.0h0M166.2 206.8h0M169.8 202.5h0M173.7 209.4h0M177.2 202.2h0M175.0 201.7h0M169.9 201.9h0M171.7 202.7h0M174.3 206.5h0M172.6 208.6h0M174.5 206.7h0M170.1 207.9h0M172.2 199.9h0M166.3 201.3h0M174.1 207.4h0M169.5 201.9h0M173.5 204.5h0" stroke="#0b4d2a" stroke-opacity="0.8" stroke-width="1.6" stroke-linecap="round"/>
<path d="M175.3 198.3h0M172.0 187.6h0M172.8 188.4h0M172.2 168.6h0M172.0 195.7h0M170.9 168.1h0M172.5 195.9h0M168.1 198.5h0M169.1 198.6h0M172.6 185.0h0M169.9 147.7h0M172.7 193.8h0M172.4 187.1h0M173.7 189.6h0M172.6 187.3h0" stroke="#555" stroke-opacity="0.7" stroke-width="1.5" stroke-linecap="round"/>
<path d="M189.2 204.0h0M187.4 209.6h0M187.0 201.4h0M185.1 204.4h0M192.8 203.1h0M187.8 210.4h0M183.5 202.2h0M185.7 202.4h0M187.4 204.8h0M191.6 208.0h0M187.1 208.1h0M186.1 205.7h0M193.4 203.5h0M184.2 201.8h0M189.2 202.6h0M187.7 200.3h0M190.9 206.3h0M188.4 209.1h0M186.8 200.6h0M183.2 204.2h0M186.8 207.5h0M189.2 209.0h0M183.6 200.6h0M185.0 208.0h0M186.7 200.3h0M183.1 205.9h0M190.4 208.3h0" stroke="#0b4d2a" stroke-opacity="0.8" stroke-width="1.6" stroke-linecap="round"/>
<path d="M188.8 195.6h0M187.1 193.3h0M188.3 173.6h0M188.7 199.6h0M186.7 195.8h0M188.7 182.8h0M188.4 190.4h0M185.6 169.1h0M187.1 191.7h0M188.3 192.2h0M187.1 194.8h0M187.5 197.1h0" stroke="#555" stroke-opacity="0.7" stroke-width="1.5" stroke-linecap="round"/>
<path d="M212.9 208.3h0M212.7 203.1h0M212.2 203.2h0M215.7 204.7h0M217.8 209.6h0M214.9 201.6h0M215.6 207.3h0M214.8 208.7h0M218.4 205.4h0M221.1 203.1h0M220.1 205.7h0M216.4 201.7h0M215.5 201.3h0M213.4 208.8h0M218.8 200.3h0M213.6 209.0h0M213.2 208.9h0M214.5 206.0h0M217.8 201.1h0M218.6 207.7h0M216.6 203.9h0M215.8 206.4h0M214.4 203.9h0M213.6 202.0h0M218.6 201.1h0M216.9 208.7h0M212.5 199.6h0M215.8 209.6h0M212.4 203.5h0M218.7 205.3h0M218.1 208.9h0M212.4 207.7h0M216.2 202.6h0M215.4 203.4h0M212.8 206.9h0M215.7 202.8h0M214.0 205.0h0M213.9 206.6h0M217.3 203.2h0M213.0 206.2h0M213.5 203.8h0M215.6 205.4h0M210.7 200.8h0M216.1 204.4h0M216.9 205.2h0M216.2 208.4h0" stroke="#8a2a2a" stroke-opacity="0.8" stroke-width="1.6" stroke-linecap="round"/>
<path d="M216.5 191.2h0M218.2 196.1h0M216.2 198.2h0M214.0 187.1h0M216.1 194.1h0M217.7 197.8h0M216.8 163.1h0M214.4 189.7h0M213.9 182.6h0M216.1 194.1h0M216.5 194.9h0M216.0 188.4h0M215.8 198.0h0M214.7 180.5h0M215.4 188.4h0M215.8 186.8h0M213.8 199.0h0M213.7 199.2h0M213.8 194.7h0M214.9 194.5h0M215.2 194.2h0M216.7 198.3h0M214.5 188.9h0M215.2 176.4h0M215.4 174.5h0M217.9 198.0h0M210.3 199.2h0M214.0 191.1h0M215.7 188.3h0M214.3 171.6h0M216.7 184.2h0M214.8 156.1h0" stroke="#7a4444" stroke-opacity="0.7" stroke-width="1.5" stroke-linecap="round"/>
<path d="M228.8 202.4h0M229.4 209.9h0M228.4 203.9h0M228.7 209.9h0M229.1 207.0h0M231.4 204.8h0M232.1 205.1h0M236.6 204.1h0M236.5 206.3h0M230.1 206.3h0M224.7 205.8h0M231.8 209.3h0M231.6 206.5h0M224.7 206.0h0M234.1 208.7h0M228.2 204.0h0M234.9 206.8h0M227.8 204.2h0M228.1 205.6h0M228.1 208.3h0M230.1 204.8h0M233.4 204.6h0M229.9 203.2h0M231.7 206.4h0M227.2 201.9h0M234.1 209.8h0M231.0 207.4h0M229.0 208.0h0M236.1 204.1h0M229.1 210.0h0M229.3 202.4h0M227.3 209.8h0M232.7 205.7h0M226.8 208.7h0M236.6 205.6h0M230.5 209.8h0M224.7 204.2h0M229.0 204.4h0M235.2 204.3h0M228.4 208.6h0M228.1 203.8h0M236.0 206.7h0M230.7 206.1h0M232.4 208.5h0M236.5 203.6h0M231.9 207.3h0" stroke="#8a2a2a" stroke-opacity="0.8" stroke-width="1.6" stroke-linecap="round"/>
<path d="M232.1 196.4h0M230.5 198.0h0M231.2 197.4h0M230.9 184.2h0M228.6 199.3h0M230.6 192.3h0M229.1 200.5h0M229.6 194.6h0M229.9 193.9h0M230.3 192.9h0M230.2 196.9h0M230.1 200.5h0M230.2 201.3h0M229.4 196.8h0M228.7 198.5h0M231.4 198.7h0M230.3 195.1h0M231.0 190.6h0M231.1 196.4h0M230.2 192.5h0M231.6 185.4h0M230.8 192.8h0M231.4 200.5h0M229.7 200.1h0M231.2 200.6h0M230.2 199.2h0M230.2 173.3h0M229.1 193.8h0M231.0 200.5h0M231.8 199.7h0M233.2 200.7h0M230.9 187.3h0" stroke="#7a4444" stroke-opacity="0.7" stroke-width="1.5" stroke-linecap="round"/>
<line x1="172.30" y1="197.80" x2="172.30" y2="187.60" stroke="#0b5b31" stroke-width="1.8"/>
<line x1="167.60" y1="187.80" x2="177.00" y2="187.80" stroke="#0b5b31" stroke-width="2.2"/>
<line x1="187.70" y1="199.20" x2="187.70" y2="188.50" stroke="#0b5b31" stroke-width="1.8"/>
<line x1="183.00" y1="188.70" x2="192.40" y2="188.70" stroke="#0b5b31" stroke-width="2.2"/>
<line x1="215.40" y1="198.50" x2="215.40" y2="187.40" stroke="#d24a5a" stroke-width="1.8"/>
<line x1="210.70" y1="187.60" x2="220.10" y2="187.60" stroke="#d24a5a" stroke-width="2.2"/>
<line x1="230.65" y1="200.80" x2="230.65" y2="192.70" stroke="#d24a5a" stroke-width="1.8"/>
<line x1="225.95" y1="192.90" x2="235.35" y2="192.90" stroke="#d24a5a" stroke-width="2.2"/>
<line x1="159.50" y1="134.20" x2="159.50" y2="211.30" stroke="#111" stroke-width="1.7"/>
<line x1="158.70" y1="210.50" x2="244.00" y2="210.50" stroke="#111" stroke-width="1.7"/>
<line x1="155.70" y1="210.50" x2="159.50" y2="210.50" stroke="#111" stroke-width="1.4"/>
<text x="154.60" y="213.00" font-size="7.2" font-weight="bold" fill="#111" stroke="#111" stroke-width="0.25" text-anchor="end" >0</text>
<line x1="155.70" y1="185.33" x2="159.50" y2="185.33" stroke="#111" stroke-width="1.4"/>
<text x="154.60" y="187.83" font-size="7.2" font-weight="bold" fill="#111" stroke="#111" stroke-width="0.25" text-anchor="end" >20,000</text>
<line x1="155.70" y1="160.17" x2="159.50" y2="160.17" stroke="#111" stroke-width="1.4"/>
<text x="154.60" y="162.67" font-size="7.2" font-weight="bold" fill="#111" stroke="#111" stroke-width="0.25" text-anchor="end" >40,000</text>
<line x1="155.70" y1="135.00" x2="159.50" y2="135.00" stroke="#111" stroke-width="1.4"/>
<text x="154.60" y="137.50" font-size="7.2" font-weight="bold" fill="#111" stroke="#111" stroke-width="0.25" text-anchor="end" >60,000</text>
<line x1="202.00" y1="135.50" x2="202.00" y2="210.50" stroke="#111" stroke-width="1.6"/>
<line x1="172.30" y1="210.50" x2="172.30" y2="213.30" stroke="#111" stroke-width="1.2"/>
<text x="171.40" y="219.70" font-size="7.0" font-weight="bold" fill="#111" stroke="#111" stroke-width="0.25" text-anchor="middle" >High</text>
<line x1="187.70" y1="210.50" x2="187.70" y2="213.30" stroke="#111" stroke-width="1.2"/>
<text x="188.60" y="219.70" font-size="7.0" font-weight="bold" fill="#111" stroke="#111" stroke-width="0.25" text-anchor="middle" >Low</text>
<line x1="215.40" y1="210.50" x2="215.40" y2="213.30" stroke="#111" stroke-width="1.2"/>
<text x="214.50" y="219.70" font-size="7.0" font-weight="bold" fill="#111" stroke="#111" stroke-width="0.25" text-anchor="middle" >High</text>
<line x1="230.65" y1="210.50" x2="230.65" y2="213.30" stroke="#111" stroke-width="1.2"/>
<text x="231.55" y="219.70" font-size="7.0" font-weight="bold" fill="#111" stroke="#111" stroke-width="0.25" text-anchor="middle" >Low</text>
<text x="165.80" y="145.00" font-size="6.2" font-weight="bold" fill="#d6403f" stroke="#d6403f" stroke-width="0.3"><tspan font-style="italic">P</tspan> = 0.0391</text>
<text x="208.50" y="145.00" font-size="6.2" font-weight="bold" fill="#111" stroke="#111" stroke-width="0.3"><tspan font-style="italic">P</tspan> = 0.2076</text>
<rect x="323.40" y="98.90" width="15.20" height="24.80" fill="#168c4e" />
<rect x="339.30" y="106.30" width="14.10" height="17.40" fill="#168c4e" />
<rect x="366.30" y="101.00" width="15.30" height="22.70" fill="#ef7b7b" />
<rect x="382.90" y="102.40" width="14.60" height="21.30" fill="#ef7b7b" />
<path d="M333.6 114.7h0M329.4 112.9h0M331.0 107.4h0M327.1 105.7h0M329.2 104.8h0M325.7 116.6h0M328.8 102.1h0M332.7 114.3h0M333.5 109.9h0M331.1 100.3h0M335.1 103.5h0M328.0 111.7h0M329.0 117.9h0M334.8 104.6h0M337.4 112.3h0M334.1 117.6h0M328.0 103.5h0M333.3 101.9h0M330.4 101.2h0M334.3 106.4h0M332.5 116.2h0M329.5 101.1h0M327.7 106.5h0M330.3 107.8h0M331.4 100.9h0M330.7 105.7h0M329.9 105.7h0M333.5 118.2h0M333.6 108.3h0M329.3 113.4h0M331.5 107.3h0" stroke="#0b4d2a" stroke-opacity="0.8" stroke-width="1.6" stroke-linecap="round"/>
<path d="M331.2 97.4h0M330.1 87.7h0M330.1 96.0h0M329.3 90.0h0M332.4 99.3h0M332.4 88.0h0M329.3 98.4h0M331.7 78.2h0M330.3 91.7h0M331.7 93.5h0M331.4 88.6h0M332.5 91.9h0M331.2 91.2h0M330.1 97.1h0M332.1 98.0h0M329.6 92.5h0M330.9 57.0h0M330.9 79.3h0M330.7 86.6h0M331.3 94.9h0M331.2 89.8h0" stroke="#555" stroke-opacity="0.7" stroke-width="1.5" stroke-linecap="round"/>
<path d="M346.4 107.9h0M350.5 116.8h0M348.2 109.5h0M344.9 112.2h0M347.4 117.1h0M349.9 107.3h0M348.8 116.2h0M346.9 108.3h0M351.3 113.9h0M348.1 110.9h0M344.5 114.4h0M345.5 110.4h0M347.3 114.8h0M351.9 110.5h0M346.0 111.2h0M346.6 108.0h0M346.3 120.6h0M346.4 112.3h0M343.3 116.4h0M344.6 112.5h0M350.9 115.6h0M349.4 112.0h0M341.8 113.8h0M345.3 116.3h0M342.9 107.7h0M349.7 117.2h0M346.7 108.6h0" stroke="#0b4d2a" stroke-opacity="0.8" stroke-width="1.6" stroke-linecap="round"/>
<path d="M345.6 98.4h0M346.1 103.8h0M349.0 106.4h0M347.2 106.2h0M347.9 102.9h0M346.3 93.0h0M347.1 102.7h0M347.0 101.5h0M345.7 99.6h0M345.4 104.3h0M345.9 97.3h0M347.0 72.9h0M345.8 94.6h0M344.3 89.9h0M346.6 93.0h0M347.1 104.9h0M345.5 102.3h0M345.5 77.8h0M345.4 99.1h0M347.5 96.4h0M347.3 93.0h0M346.8 100.1h0M347.5 106.5h0M344.5 68.6h0M347.0 102.2h0" stroke="#555" stroke-opacity="0.7" stroke-width="1.5" stroke-linecap="round"/>
<path d="M374.7 104.1h0M369.7 109.8h0M370.9 107.0h0M374.9 106.6h0M374.6 103.8h0M373.1 105.1h0M380.4 114.0h0M377.1 108.5h0M367.9 109.5h0M374.3 105.2h0M369.5 106.8h0M372.7 102.5h0M367.5 119.9h0M377.1 110.1h0M375.8 106.3h0M367.5 119.4h0M374.3 112.3h0M375.0 104.6h0M373.4 106.8h0M372.7 113.3h0M369.9 113.8h0M368.5 110.4h0M374.6 122.4h0M371.4 107.4h0M378.2 109.3h0M374.2 113.8h0M371.2 114.7h0M372.2 114.4h0M378.0 115.8h0M376.5 115.4h0M375.9 118.3h0M372.7 109.6h0M373.2 113.6h0M377.0 107.0h0" stroke="#8a2a2a" stroke-opacity="0.8" stroke-width="1.6" stroke-linecap="round"/>
<path d="M371.6 101.3h0M374.7 91.5h0M372.7 97.7h0M373.7 99.3h0M378.1 101.3h0M375.0 83.1h0M371.6 71.7h0M371.2 95.7h0M373.2 95.1h0M374.0 94.4h0M373.3 99.9h0M375.3 100.4h0M375.2 85.7h0M374.8 100.7h0M373.5 86.4h0M374.9 95.1h0M373.9 79.1h0M372.0 98.3h0M375.6 91.5h0M374.2 85.9h0M372.9 93.5h0M372.1 99.8h0M374.8 88.6h0M370.5 101.7h0" stroke="#7a4444" stroke-opacity="0.7" stroke-width="1.5" stroke-linecap="round"/>
<path d="M391.4 110.0h0M392.9 106.3h0M389.8 114.3h0M394.3 111.3h0M392.0 103.5h0M395.4 106.5h0M388.7 106.8h0M387.3 116.5h0M388.5 107.2h0M387.0 112.7h0M388.1 104.9h0M384.1 108.3h0M387.2 117.3h0M391.3 106.3h0M387.9 116.6h0M391.2 118.4h0M390.9 112.2h0M390.9 115.2h0M396.0 120.2h0M387.7 110.8h0M387.2 108.8h0M387.6 111.5h0M389.9 103.4h0M389.2 104.3h0M392.8 115.3h0M394.6 114.5h0M390.2 113.4h0M393.9 109.6h0M389.3 120.2h0M392.0 104.8h0" stroke="#8a2a2a" stroke-opacity="0.8" stroke-width="1.6" stroke-linecap="round"/>
<path d="M388.8 64.1h0M390.8 102.3h0M387.7 95.6h0M389.0 101.9h0M390.6 67.1h0M388.7 80.1h0M391.7 99.5h0M391.2 100.0h0M391.8 87.6h0M390.6 101.0h0M390.3 95.2h0M391.4 95.9h0M389.4 97.3h0M390.0 84.1h0M389.2 85.0h0M389.5 95.9h0M389.9 101.2h0M390.0 76.9h0M391.7 99.6h0M390.3 100.7h0M389.9 100.5h0M390.2 88.3h0M391.8 88.9h0M389.5 101.1h0M389.8 91.5h0M391.0 91.5h0M389.4 90.0h0M389.9 57.0h0" stroke="#7a4444" stroke-opacity="0.7" stroke-width="1.5" stroke-linecap="round"/>
<line x1="331.00" y1="98.90" x2="331.00" y2="86.40" stroke="#0b5b31" stroke-width="1.8"/>
<line x1="326.30" y1="86.60" x2="335.70" y2="86.60" stroke="#0b5b31" stroke-width="2.2"/>
<line x1="346.35" y1="106.30" x2="346.35" y2="97.30" stroke="#0b5b31" stroke-width="1.8"/>
<line x1="341.65" y1="97.50" x2="351.05" y2="97.50" stroke="#0b5b31" stroke-width="2.2"/>
<line x1="373.95" y1="101.00" x2="373.95" y2="88.60" stroke="#d24a5a" stroke-width="1.8"/>
<line x1="369.25" y1="88.80" x2="378.65" y2="88.80" stroke="#d24a5a" stroke-width="2.2"/>
<line x1="390.20" y1="102.40" x2="390.20" y2="90.80" stroke="#d24a5a" stroke-width="1.8"/>
<line x1="385.50" y1="91.00" x2="394.90" y2="91.00" stroke="#d24a5a" stroke-width="2.2"/>
<line x1="315.70" y1="49.20" x2="315.70" y2="124.50" stroke="#111" stroke-width="1.7"/>
<line x1="314.90" y1="123.70" x2="400.50" y2="123.70" stroke="#111" stroke-width="1.7"/>
<line x1="311.90" y1="123.70" x2="315.70" y2="123.70" stroke="#111" stroke-width="1.4"/>
<text x="312.60" y="126.20" font-size="7.2" font-weight="bold" fill="#111" stroke="#111" stroke-width="0.25" text-anchor="end" >0</text>
<line x1="311.90" y1="105.28" x2="315.70" y2="105.28" stroke="#111" stroke-width="1.4"/>
<text x="312.60" y="107.78" font-size="7.2" font-weight="bold" fill="#111" stroke="#111" stroke-width="0.25" text-anchor="end" >10,000</text>
<line x1="311.90" y1="86.85" x2="315.70" y2="86.85" stroke="#111" stroke-width="1.4"/>
<text x="312.60" y="89.35" font-size="7.2" font-weight="bold" fill="#111" stroke="#111" stroke-width="0.25" text-anchor="end" >20,000</text>
<line x1="311.90" y1="68.42" x2="315.70" y2="68.42" stroke="#111" stroke-width="1.4"/>
<text x="312.60" y="70.92" font-size="7.2" font-weight="bold" fill="#111" stroke="#111" stroke-width="0.25" text-anchor="end" >30,000</text>
<line x1="311.90" y1="50.00" x2="315.70" y2="50.00" stroke="#111" stroke-width="1.4"/>
<text x="312.60" y="52.50" font-size="7.2" font-weight="bold" fill="#111" stroke="#111" stroke-width="0.25" text-anchor="end" >40,000</text>
<line x1="359.60" y1="45.70" x2="359.60" y2="123.70" stroke="#111" stroke-width="1.6"/>
<line x1="331.00" y1="123.70" x2="331.00" y2="126.50" stroke="#111" stroke-width="1.2"/>
<text x="330.10" y="132.90" font-size="7.0" font-weight="bold" fill="#111" stroke="#111" stroke-width="0.25" text-anchor="middle" >High</text>
<line x1="346.35" y1="123.70" x2="346.35" y2="126.50" stroke="#111" stroke-width="1.2"/>
<text x="347.25" y="132.90" font-size="7.0" font-weight="bold" fill="#111" stroke="#111" stroke-width="0.25" text-anchor="middle" >Low</text>
<line x1="373.95" y1="123.70" x2="373.95" y2="126.50" stroke="#111" stroke-width="1.2"/>
<text x="373.05" y="132.90" font-size="7.0" font-weight="bold" fill="#111" stroke="#111" stroke-width="0.25" text-anchor="middle" >High</text>
<line x1="390.20" y1="123.70" x2="390.20" y2="126.50" stroke="#111" stroke-width="1.2"/>
<text x="391.10" y="132.90" font-size="7.0" font-weight="bold" fill="#111" stroke="#111" stroke-width="0.25" text-anchor="middle" >Low</text>
<text x="323.40" y="59.30" font-size="6.2" font-weight="bold" fill="#d6403f" stroke="#d6403f" stroke-width="0.3"><tspan font-style="italic">P</tspan> < 0.0001</text>
<text x="365.90" y="59.30" font-size="6.2" font-weight="bold" fill="#111" stroke="#111" stroke-width="0.3"><tspan font-style="italic">P</tspan> = 0.5126</text>
<rect x="438.50" y="99.50" width="14.40" height="22.90" fill="#168c4e" />
<rect x="454.00" y="105.60" width="13.50" height="16.80" fill="#168c4e" />
<rect x="480.60" y="102.40" width="14.80" height="20.00" fill="#ef7b7b" />
<rect x="496.20" y="103.20" width="13.80" height="19.20" fill="#ef7b7b" />
<path d="M445.5 116.2h0M446.2 107.9h0M446.7 103.5h0M446.4 105.2h0M440.9 104.1h0M446.1 110.5h0M442.9 115.3h0M447.1 107.2h0M439.7 108.5h0M449.6 108.7h0M447.0 114.8h0M441.4 102.6h0M446.5 111.1h0M449.9 102.2h0M441.7 114.6h0M449.3 100.4h0M449.1 105.3h0M446.2 112.7h0M447.8 106.1h0M444.6 114.8h0M449.3 108.0h0M448.8 102.1h0M445.8 113.8h0M448.3 111.6h0M441.6 114.7h0M441.5 106.3h0M445.6 116.9h0M445.0 105.0h0M450.3 108.1h0M444.9 108.0h0M445.0 101.8h0M443.8 101.6h0M448.0 101.7h0M443.1 116.9h0M450.7 107.1h0M440.6 105.8h0M450.2 104.7h0" stroke="#0b4d2a" stroke-opacity="0.8" stroke-width="1.6" stroke-linecap="round"/>
<path d="M446.5 96.8h0M444.7 85.9h0M447.8 95.7h0M443.3 99.6h0M446.1 98.6h0M446.2 95.1h0M446.3 87.8h0M448.1 98.0h0M443.9 96.0h0M445.0 86.5h0M448.3 92.7h0M445.3 91.4h0M446.7 95.8h0M445.2 96.2h0M444.7 96.6h0M447.9 99.7h0M446.7 77.0h0M446.1 97.1h0M446.5 99.1h0M445.8 76.6h0M445.1 90.0h0M446.2 96.2h0M446.6 83.1h0M443.9 94.0h0M447.1 99.0h0M444.9 93.7h0M444.3 99.7h0M446.4 96.3h0" stroke="#555" stroke-opacity="0.7" stroke-width="1.5" stroke-linecap="round"/>
<path d="M457.5 111.4h0M461.3 111.6h0M463.2 106.6h0M465.3 116.4h0M460.6 111.3h0M459.3 111.7h0M462.6 112.8h0M463.1 109.5h0M459.1 107.7h0M463.5 110.0h0M458.8 111.1h0M462.0 110.7h0M462.5 107.1h0M462.1 113.2h0M462.2 109.4h0M460.7 107.4h0M464.6 108.4h0M465.1 108.9h0M461.2 106.6h0M462.4 109.4h0M457.9 116.0h0M458.4 112.1h0M460.0 111.3h0M462.0 110.6h0M461.2 111.1h0M461.6 109.3h0M459.3 115.0h0M457.5 110.5h0M464.4 115.4h0M461.8 109.1h0M460.8 107.1h0M459.8 113.0h0M459.3 117.2h0M463.1 118.6h0M463.7 110.3h0M456.2 107.8h0M462.0 107.9h0M458.1 108.3h0M459.8 109.5h0M465.4 114.5h0M464.0 109.7h0" stroke="#0b4d2a" stroke-opacity="0.8" stroke-width="1.6" stroke-linecap="round"/>
<path d="M459.7 99.4h0M461.9 89.0h0M461.6 100.7h0M460.4 85.5h0M460.4 103.2h0M458.9 103.7h0M460.5 102.7h0M460.0 104.0h0M459.7 96.6h0M460.9 95.8h0M463.6 105.0h0M460.5 104.5h0M458.9 99.4h0M461.4 101.1h0M460.0 92.7h0M461.5 101.1h0M459.7 93.8h0M461.4 101.9h0M461.1 105.3h0M459.1 105.3h0M460.0 99.8h0M461.2 100.9h0M460.9 88.9h0M459.4 95.0h0" stroke="#555" stroke-opacity="0.7" stroke-width="1.5" stroke-linecap="round"/>
<path d="M488.3 107.9h0M483.2 106.3h0M482.5 112.6h0M489.4 107.2h0M487.0 109.1h0M490.1 114.8h0M485.9 114.3h0M486.6 105.6h0M482.5 108.2h0M488.5 106.6h0M487.2 119.8h0M484.5 107.3h0M487.8 116.8h0M486.9 115.3h0M490.2 104.1h0M486.8 108.1h0M492.8 107.0h0M486.6 113.6h0M493.9 113.5h0M487.5 110.6h0M485.4 109.1h0M491.4 103.6h0M489.5 109.2h0M487.9 107.0h0M484.4 114.0h0M493.8 107.5h0M483.1 111.9h0M484.9 115.9h0M487.4 106.3h0M485.9 109.6h0M490.2 118.6h0M487.2 106.5h0M487.2 110.1h0M493.6 112.9h0M487.9 103.7h0M485.8 111.2h0M486.4 118.1h0M487.2 111.6h0M492.1 109.6h0M485.9 106.5h0M487.5 110.9h0M486.6 110.5h0M489.6 107.9h0" stroke="#8a2a2a" stroke-opacity="0.8" stroke-width="1.6" stroke-linecap="round"/>
<path d="M487.5 101.1h0M486.1 87.1h0M488.8 102.0h0M487.3 94.3h0M487.0 79.5h0M488.6 86.6h0M488.4 85.8h0M486.8 100.5h0M486.6 86.1h0M488.7 101.3h0M489.1 72.2h0M490.8 88.3h0M486.2 94.8h0M487.2 101.4h0M489.6 84.4h0M486.9 70.1h0M487.8 95.3h0M487.8 98.8h0M486.3 93.1h0M488.3 98.0h0M489.2 79.7h0M483.5 102.8h0M488.5 91.9h0M488.0 101.2h0M488.3 100.3h0M490.1 99.6h0M487.6 94.1h0M485.2 101.3h0M487.6 92.1h0M486.0 82.1h0M488.5 99.1h0M488.0 93.1h0M486.3 90.5h0M488.3 99.2h0M489.0 93.9h0" stroke="#7a4444" stroke-opacity="0.7" stroke-width="1.5" stroke-linecap="round"/>
<path d="M505.5 104.5h0M501.8 113.9h0M500.7 113.1h0M497.4 111.4h0M501.2 107.7h0M504.1 110.9h0M503.0 108.3h0M501.3 116.8h0M501.8 117.4h0M508.0 107.9h0M508.8 107.4h0M504.9 113.6h0M504.1 107.8h0M503.0 105.0h0M500.5 105.6h0M504.2 105.7h0M503.7 108.2h0M502.6 116.2h0M499.2 110.9h0M506.7 106.1h0M498.6 112.5h0M498.2 111.8h0M500.6 113.1h0M503.5 110.4h0M503.2 109.5h0M503.3 109.5h0M501.5 107.9h0M505.0 118.1h0M503.1 110.9h0M503.8 118.3h0M505.3 111.8h0M505.4 111.0h0M498.2 106.4h0M502.1 109.5h0M501.3 106.4h0M505.4 109.9h0M500.2 114.5h0" stroke="#8a2a2a" stroke-opacity="0.8" stroke-width="1.6" stroke-linecap="round"/>
<path d="M504.3 90.3h0M501.5 92.8h0M503.4 99.7h0M503.1 98.9h0M504.8 98.1h0M504.6 93.6h0M502.6 84.7h0M502.9 99.3h0M502.6 103.2h0M504.5 91.5h0M500.3 102.5h0M504.4 74.3h0M503.3 94.1h0M503.3 87.4h0M502.8 98.9h0M505.6 102.2h0M504.4 77.8h0M501.3 86.2h0M503.4 102.7h0M502.7 92.0h0M503.5 100.7h0M500.6 93.3h0M503.2 95.9h0M502.3 95.8h0M505.1 94.0h0M503.3 87.8h0M502.7 102.9h0M506.5 103.7h0M501.4 100.8h0M503.5 103.4h0M503.9 94.0h0M503.8 103.2h0M503.7 99.4h0M502.8 99.0h0M504.8 83.7h0M503.7 90.2h0M503.8 98.5h0M503.1 102.5h0M502.3 102.2h0M503.6 80.7h0M502.4 101.2h0" stroke="#7a4444" stroke-opacity="0.7" stroke-width="1.5" stroke-linecap="round"/>
<line x1="445.70" y1="99.50" x2="445.70" y2="88.80" stroke="#0b5b31" stroke-width="1.8"/>
<line x1="441.00" y1="89.00" x2="450.40" y2="89.00" stroke="#0b5b31" stroke-width="2.2"/>
<line x1="460.75" y1="105.60" x2="460.75" y2="97.30" stroke="#0b5b31" stroke-width="1.8"/>
<line x1="456.05" y1="97.50" x2="465.45" y2="97.50" stroke="#0b5b31" stroke-width="2.2"/>
<line x1="488.00" y1="102.40" x2="488.00" y2="91.50" stroke="#d24a5a" stroke-width="1.8"/>
<line x1="483.30" y1="91.70" x2="492.70" y2="91.70" stroke="#d24a5a" stroke-width="2.2"/>
<line x1="503.10" y1="103.20" x2="503.10" y2="93.60" stroke="#d24a5a" stroke-width="1.8"/>
<line x1="498.40" y1="93.80" x2="507.80" y2="93.80" stroke="#d24a5a" stroke-width="2.2"/>
<line x1="432.00" y1="47.10" x2="432.00" y2="123.20" stroke="#111" stroke-width="1.7"/>
<line x1="431.20" y1="122.40" x2="513.50" y2="122.40" stroke="#111" stroke-width="1.7"/>
<line x1="428.20" y1="122.40" x2="432.00" y2="122.40" stroke="#111" stroke-width="1.4"/>
<text x="427.00" y="124.90" font-size="7.2" font-weight="bold" fill="#111" stroke="#111" stroke-width="0.25" text-anchor="end" >0</text>
<line x1="428.20" y1="107.50" x2="432.00" y2="107.50" stroke="#111" stroke-width="1.4"/>
<text x="427.00" y="110.00" font-size="7.2" font-weight="bold" fill="#111" stroke="#111" stroke-width="0.25" text-anchor="end" >10,000</text>
<line x1="428.20" y1="92.60" x2="432.00" y2="92.60" stroke="#111" stroke-width="1.4"/>
<text x="427.00" y="95.10" font-size="7.2" font-weight="bold" fill="#111" stroke="#111" stroke-width="0.25" text-anchor="end" >20,000</text>
<line x1="428.20" y1="77.70" x2="432.00" y2="77.70" stroke="#111" stroke-width="1.4"/>
<text x="427.00" y="80.20" font-size="7.2" font-weight="bold" fill="#111" stroke="#111" stroke-width="0.25" text-anchor="end" >30,000</text>
<line x1="428.20" y1="62.80" x2="432.00" y2="62.80" stroke="#111" stroke-width="1.4"/>
<text x="427.00" y="65.30" font-size="7.2" font-weight="bold" fill="#111" stroke="#111" stroke-width="0.25" text-anchor="end" >40,000</text>
<line x1="428.20" y1="47.90" x2="432.00" y2="47.90" stroke="#111" stroke-width="1.4"/>
<text x="427.00" y="50.40" font-size="7.2" font-weight="bold" fill="#111" stroke="#111" stroke-width="0.25" text-anchor="end" >50,000</text>
<line x1="474.00" y1="48.40" x2="474.00" y2="122.40" stroke="#111" stroke-width="1.6"/>
<line x1="445.70" y1="122.40" x2="445.70" y2="125.20" stroke="#111" stroke-width="1.2"/>
<text x="444.80" y="131.60" font-size="7.0" font-weight="bold" fill="#111" stroke="#111" stroke-width="0.25" text-anchor="middle" >High</text>
<line x1="460.75" y1="122.40" x2="460.75" y2="125.20" stroke="#111" stroke-width="1.2"/>
<text x="461.65" y="131.60" font-size="7.0" font-weight="bold" fill="#111" stroke="#111" stroke-width="0.25" text-anchor="middle" >Low</text>
<line x1="488.00" y1="122.40" x2="488.00" y2="125.20" stroke="#111" stroke-width="1.2"/>
<text x="487.10" y="131.60" font-size="7.0" font-weight="bold" fill="#111" stroke="#111" stroke-width="0.25" text-anchor="middle" >High</text>
<line x1="503.10" y1="122.40" x2="503.10" y2="125.20" stroke="#111" stroke-width="1.2"/>
<text x="504.00" y="131.60" font-size="7.0" font-weight="bold" fill="#111" stroke="#111" stroke-width="0.25" text-anchor="middle" >Low</text>
<text x="438.00" y="59.30" font-size="6.2" font-weight="bold" fill="#d6403f" stroke="#d6403f" stroke-width="0.3"><tspan font-style="italic">P</tspan> < 0.0001</text>
<text x="478.40" y="59.30" font-size="6.2" font-weight="bold" fill="#111" stroke="#111" stroke-width="0.3"><tspan font-style="italic">P</tspan> = 0.4213</text>
<rect x="324.00" y="194.50" width="14.20" height="25.50" fill="#168c4e" />
<rect x="339.30" y="202.10" width="13.90" height="17.90" fill="#168c4e" />
<rect x="365.60" y="197.80" width="14.40" height="22.20" fill="#ef7b7b" />
<rect x="380.80" y="197.80" width="14.40" height="22.20" fill="#ef7b7b" />
<path d="M331.3 208.8h0M335.8 197.0h0M336.2 203.3h0M329.9 199.1h0M330.6 195.5h0M329.1 205.0h0M333.8 200.2h0M331.2 203.8h0M334.2 197.8h0M328.8 211.6h0M333.1 198.6h0M329.5 201.3h0M332.8 201.7h0M333.8 203.7h0M329.0 202.1h0M329.7 205.7h0M331.4 202.0h0M327.4 210.5h0M333.4 205.2h0M330.4 195.5h0M327.5 200.6h0M331.0 198.1h0M332.4 202.2h0M326.0 207.6h0M330.5 204.5h0M328.0 209.0h0M333.3 196.3h0" stroke="#0b4d2a" stroke-opacity="0.8" stroke-width="1.6" stroke-linecap="round"/>
<path d="M332.6 193.5h0M328.3 181.7h0M333.9 185.1h0M330.4 182.4h0M331.3 192.0h0M329.8 194.9h0M329.4 179.4h0M332.2 187.7h0M332.4 195.0h0M332.2 193.4h0M330.9 192.4h0M332.7 194.7h0M330.8 191.7h0M331.6 189.0h0M332.8 193.3h0M331.6 180.7h0M332.1 178.1h0M334.2 194.6h0M333.0 191.8h0M329.4 184.8h0M332.1 191.5h0M331.5 156.0h0M330.8 194.3h0M331.1 190.3h0M332.3 194.0h0" stroke="#555" stroke-opacity="0.7" stroke-width="1.5" stroke-linecap="round"/>
<path d="M347.2 214.7h0M345.1 212.1h0M346.1 212.3h0M342.2 212.0h0M342.3 208.4h0M349.2 212.5h0M347.3 212.7h0M342.8 206.0h0M344.0 205.7h0M346.7 207.1h0M344.5 208.6h0M342.9 206.1h0M345.4 213.9h0M345.1 216.2h0M343.9 203.8h0M347.2 211.1h0M350.3 209.6h0M346.9 207.9h0M343.0 210.1h0M349.2 215.1h0M344.2 211.0h0M342.1 213.3h0M350.8 214.2h0M347.7 203.2h0M343.5 213.7h0M345.5 206.8h0M343.2 208.1h0" stroke="#0b4d2a" stroke-opacity="0.8" stroke-width="1.6" stroke-linecap="round"/>
<path d="M346.6 185.1h0M348.4 197.4h0M347.7 190.8h0M345.4 198.5h0M346.8 190.2h0M346.8 196.7h0M344.3 199.5h0M345.8 199.6h0M345.7 199.4h0M349.6 202.9h0M345.6 186.1h0M346.4 201.1h0M347.0 184.4h0M344.6 199.3h0M346.6 199.8h0M344.9 200.4h0M346.2 194.4h0M347.4 196.7h0M346.5 184.6h0M345.0 168.7h0M347.6 187.1h0M345.9 199.6h0M347.8 196.5h0M345.8 200.8h0M346.3 194.2h0" stroke="#555" stroke-opacity="0.7" stroke-width="1.5" stroke-linecap="round"/>
<path d="M372.2 204.9h0M377.9 203.9h0M369.5 203.8h0M375.6 201.5h0M373.2 213.6h0M377.7 204.5h0M375.9 202.2h0M373.0 202.3h0M366.8 202.3h0M378.3 204.7h0M374.7 201.4h0M375.7 202.1h0M371.0 208.5h0M375.3 203.3h0M372.8 212.3h0M370.9 211.6h0M374.7 204.7h0M376.8 212.5h0M377.5 213.2h0M368.4 208.8h0M375.2 199.9h0M371.4 201.0h0M378.8 207.4h0M370.4 200.0h0" stroke="#8a2a2a" stroke-opacity="0.8" stroke-width="1.6" stroke-linecap="round"/>
<path d="M373.5 188.2h0M373.9 191.4h0M373.0 198.3h0M372.5 188.9h0M370.9 198.4h0M372.7 189.4h0M372.3 188.5h0M374.0 165.8h0M372.8 191.7h0M371.9 178.3h0M372.8 185.4h0M371.4 172.5h0M372.8 196.6h0M373.6 190.7h0M373.7 156.2h0M372.6 197.3h0M372.8 185.0h0M374.4 193.6h0M371.1 183.8h0M374.9 191.5h0M371.1 192.4h0M372.5 182.7h0M371.4 179.4h0M373.2 192.7h0M373.2 183.5h0M373.6 175.7h0M370.1 192.7h0M375.0 198.5h0M373.8 182.0h0M372.7 196.0h0M372.5 190.4h0M372.6 190.8h0M371.4 188.6h0M373.2 188.0h0" stroke="#7a4444" stroke-opacity="0.7" stroke-width="1.5" stroke-linecap="round"/>
<path d="M389.3 200.1h0M389.1 207.6h0M386.8 205.7h0M386.0 208.9h0M386.2 200.2h0M385.3 210.9h0M382.1 201.9h0M382.9 209.4h0M385.8 200.3h0M387.1 204.2h0M393.6 206.8h0M386.2 207.0h0M393.1 206.1h0M385.3 202.6h0M389.6 207.5h0M387.8 207.1h0M391.0 211.7h0M390.1 206.5h0M394.0 205.2h0M386.6 202.9h0M384.9 201.2h0M387.5 215.8h0M393.3 210.7h0M391.3 206.3h0M384.3 202.5h0M392.4 210.9h0M383.9 207.6h0M386.5 203.0h0" stroke="#8a2a2a" stroke-opacity="0.8" stroke-width="1.6" stroke-linecap="round"/>
<path d="M388.7 191.2h0M387.6 180.9h0M388.3 192.3h0M388.1 197.3h0M388.6 189.8h0M389.9 153.8h0M387.1 172.8h0M389.6 196.1h0M389.5 195.0h0M389.1 195.8h0M388.6 197.0h0M388.9 188.6h0M388.8 195.7h0M389.1 197.6h0M387.1 193.9h0M387.3 195.4h0M389.6 191.6h0M387.9 197.0h0M388.2 178.2h0M389.5 193.2h0M389.6 190.1h0M386.7 184.9h0M388.4 190.3h0M388.2 191.5h0M386.7 185.7h0M388.8 195.9h0M386.9 197.5h0M388.3 189.7h0M388.1 189.5h0M388.4 181.2h0" stroke="#7a4444" stroke-opacity="0.7" stroke-width="1.5" stroke-linecap="round"/>
<line x1="331.10" y1="194.50" x2="331.10" y2="183.00" stroke="#0b5b31" stroke-width="1.8"/>
<line x1="326.40" y1="183.20" x2="335.80" y2="183.20" stroke="#0b5b31" stroke-width="2.2"/>
<line x1="346.25" y1="202.10" x2="346.25" y2="192.30" stroke="#0b5b31" stroke-width="1.8"/>
<line x1="341.55" y1="192.50" x2="350.95" y2="192.50" stroke="#0b5b31" stroke-width="2.2"/>
<line x1="372.80" y1="197.80" x2="372.80" y2="186.40" stroke="#d24a5a" stroke-width="1.8"/>
<line x1="368.10" y1="186.60" x2="377.50" y2="186.60" stroke="#d24a5a" stroke-width="2.2"/>
<line x1="388.00" y1="197.80" x2="388.00" y2="186.40" stroke="#d24a5a" stroke-width="1.8"/>
<line x1="383.30" y1="186.60" x2="392.70" y2="186.60" stroke="#d24a5a" stroke-width="2.2"/>
<line x1="315.70" y1="146.00" x2="315.70" y2="220.80" stroke="#111" stroke-width="1.7"/>
<line x1="314.90" y1="220.00" x2="400.50" y2="220.00" stroke="#111" stroke-width="1.7"/>
<line x1="311.90" y1="220.00" x2="315.70" y2="220.00" stroke="#111" stroke-width="1.4"/>
<text x="312.60" y="222.50" font-size="7.2" font-weight="bold" fill="#111" stroke="#111" stroke-width="0.25" text-anchor="end" >0</text>
<line x1="311.90" y1="201.70" x2="315.70" y2="201.70" stroke="#111" stroke-width="1.4"/>
<text x="312.60" y="204.20" font-size="7.2" font-weight="bold" fill="#111" stroke="#111" stroke-width="0.25" text-anchor="end" >1,000</text>
<line x1="311.90" y1="183.40" x2="315.70" y2="183.40" stroke="#111" stroke-width="1.4"/>
<text x="312.60" y="185.90" font-size="7.2" font-weight="bold" fill="#111" stroke="#111" stroke-width="0.25" text-anchor="end" >2,000</text>
<line x1="311.90" y1="165.10" x2="315.70" y2="165.10" stroke="#111" stroke-width="1.4"/>
<text x="312.60" y="167.60" font-size="7.2" font-weight="bold" fill="#111" stroke="#111" stroke-width="0.25" text-anchor="end" >3,000</text>
<line x1="311.90" y1="146.80" x2="315.70" y2="146.80" stroke="#111" stroke-width="1.4"/>
<text x="312.60" y="149.30" font-size="7.2" font-weight="bold" fill="#111" stroke="#111" stroke-width="0.25" text-anchor="end" >4,000</text>
<line x1="359.00" y1="147.30" x2="359.00" y2="220.00" stroke="#111" stroke-width="1.6"/>
<line x1="331.10" y1="220.00" x2="331.10" y2="222.80" stroke="#111" stroke-width="1.2"/>
<text x="330.20" y="229.20" font-size="7.0" font-weight="bold" fill="#111" stroke="#111" stroke-width="0.25" text-anchor="middle" >High</text>
<line x1="346.25" y1="220.00" x2="346.25" y2="222.80" stroke="#111" stroke-width="1.2"/>
<text x="347.15" y="229.20" font-size="7.0" font-weight="bold" fill="#111" stroke="#111" stroke-width="0.25" text-anchor="middle" >Low</text>
<line x1="372.80" y1="220.00" x2="372.80" y2="222.80" stroke="#111" stroke-width="1.2"/>
<text x="371.90" y="229.20" font-size="7.0" font-weight="bold" fill="#111" stroke="#111" stroke-width="0.25" text-anchor="middle" >High</text>
<line x1="388.00" y1="220.00" x2="388.00" y2="222.80" stroke="#111" stroke-width="1.2"/>
<text x="388.90" y="229.20" font-size="7.0" font-weight="bold" fill="#111" stroke="#111" stroke-width="0.25" text-anchor="middle" >Low</text>
<text x="321.90" y="156.30" font-size="6.2" font-weight="bold" fill="#d6403f" stroke="#d6403f" stroke-width="0.3"><tspan font-style="italic">P</tspan> = 0.0006</text>
<text x="364.50" y="156.30" font-size="6.2" font-weight="bold" fill="#111" stroke="#111" stroke-width="0.3"><tspan font-style="italic">P</tspan> = 0.8642</text>
<rect x="439.30" y="194.00" width="13.40" height="26.00" fill="#168c4e" />
<rect x="453.70" y="200.00" width="13.90" height="20.00" fill="#168c4e" />
<rect x="480.40" y="197.40" width="13.90" height="22.60" fill="#ef7b7b" />
<rect x="495.30" y="196.40" width="14.50" height="23.60" fill="#ef7b7b" />
<path d="M451.2 197.3h0M445.3 202.3h0M445.2 213.4h0M449.4 208.7h0M445.2 204.7h0M445.9 200.9h0M448.5 204.0h0M444.3 202.0h0M445.3 206.3h0M444.0 203.7h0M447.1 200.5h0M441.3 200.7h0M442.0 197.8h0M445.2 204.2h0M450.7 204.4h0M440.5 198.1h0M446.2 210.5h0M448.7 205.8h0M447.6 198.7h0M448.1 202.4h0M446.0 205.2h0M451.5 200.9h0M447.8 208.2h0M442.0 195.1h0M444.1 197.1h0M445.9 201.2h0M445.8 195.0h0M451.1 210.9h0M451.5 197.9h0M446.1 206.6h0M445.2 201.5h0M443.9 198.8h0" stroke="#0b4d2a" stroke-opacity="0.8" stroke-width="1.6" stroke-linecap="round"/>
<path d="M445.3 184.8h0M445.0 188.0h0M445.6 192.4h0M447.3 183.8h0M447.1 186.0h0M445.9 172.8h0M446.3 182.7h0M446.9 194.2h0M445.4 165.1h0M446.5 191.8h0M446.2 190.0h0M444.6 175.8h0M445.6 189.2h0M444.9 185.1h0M445.8 189.3h0M444.8 185.4h0M446.2 193.7h0M446.2 190.9h0M446.8 171.7h0M446.1 189.3h0M445.6 193.4h0M445.2 166.7h0M445.4 185.6h0M446.5 176.8h0M447.4 179.8h0M445.6 184.3h0M445.5 175.9h0M444.8 191.5h0M445.9 180.2h0M446.9 187.1h0M445.4 185.6h0M447.0 193.1h0M444.3 191.2h0" stroke="#555" stroke-opacity="0.7" stroke-width="1.5" stroke-linecap="round"/>
<path d="M461.5 207.4h0M460.7 201.5h0M463.9 203.4h0M459.5 206.8h0M463.4 205.3h0M456.4 213.2h0M458.1 206.6h0M464.9 206.4h0M464.3 204.1h0M460.5 213.0h0M461.9 210.9h0M461.4 211.6h0M458.7 214.0h0M460.7 207.9h0M459.8 211.9h0M459.7 210.1h0M456.9 213.3h0M460.7 206.4h0M459.6 211.0h0M462.2 203.8h0M461.5 203.7h0M458.3 210.2h0M456.1 202.6h0M460.9 208.5h0M463.5 209.2h0M463.7 202.7h0M460.1 205.9h0M462.2 206.2h0M462.6 214.4h0M463.6 212.4h0M461.1 210.3h0" stroke="#0b4d2a" stroke-opacity="0.8" stroke-width="1.6" stroke-linecap="round"/>
<path d="M462.3 197.9h0M460.1 189.0h0M462.0 175.2h0M463.4 190.7h0M460.9 196.6h0M461.4 198.7h0M461.6 178.1h0M460.6 199.9h0M461.9 192.9h0M460.1 184.8h0M458.8 200.7h0M460.1 177.0h0M459.6 186.9h0M460.0 188.6h0M460.8 199.3h0M459.2 190.9h0M460.6 197.3h0M461.6 199.7h0M459.8 186.5h0M463.1 200.3h0M460.4 195.3h0M461.1 173.1h0M460.6 187.8h0M462.7 192.7h0M461.0 188.7h0M460.1 198.4h0M460.6 196.8h0M461.0 184.1h0M462.8 186.1h0M460.2 186.1h0M461.1 185.3h0M460.8 190.6h0M460.5 188.0h0M461.4 179.9h0" stroke="#555" stroke-opacity="0.7" stroke-width="1.5" stroke-linecap="round"/>
<path d="M490.5 208.2h0M488.1 204.9h0M489.5 216.2h0M487.8 202.6h0M489.8 198.9h0M491.2 201.0h0M482.4 209.7h0M486.1 207.0h0M482.5 210.7h0M486.2 215.6h0M487.1 200.1h0M491.4 206.4h0M485.6 206.1h0M490.3 199.8h0M487.4 203.7h0M490.1 200.5h0M487.3 207.3h0M488.7 201.3h0M490.2 210.7h0M490.4 206.7h0M487.3 207.5h0M489.5 207.4h0M488.9 209.3h0M489.6 204.3h0M484.3 205.3h0M491.3 203.3h0M488.4 202.5h0M489.7 212.0h0M491.0 208.9h0M488.8 205.8h0M485.3 200.0h0M490.2 202.6h0M489.3 202.5h0M485.5 200.5h0M485.6 210.0h0M487.1 206.9h0M483.9 204.6h0M493.0 215.0h0" stroke="#8a2a2a" stroke-opacity="0.8" stroke-width="1.6" stroke-linecap="round"/>
<path d="M487.5 187.7h0M487.7 191.8h0M486.7 196.7h0M487.1 196.9h0M487.4 195.7h0M488.3 185.8h0M488.3 186.0h0M487.0 191.2h0M488.7 190.7h0M489.8 194.8h0M490.1 194.4h0M485.6 190.6h0M483.4 197.8h0M489.1 197.1h0M484.9 195.3h0M488.6 196.5h0M488.3 198.1h0M487.4 195.6h0M486.8 196.0h0M486.1 193.4h0M487.3 197.2h0M486.1 180.5h0M487.1 154.4h0M488.5 193.0h0M486.9 183.3h0M488.5 183.6h0M488.0 193.3h0M487.2 179.7h0M486.3 190.2h0M486.7 172.4h0M487.1 168.2h0M488.4 195.9h0M487.3 154.4h0M488.0 196.5h0M492.1 197.9h0M488.2 189.0h0M489.1 192.0h0M487.5 194.4h0M482.6 197.7h0M493.1 197.7h0" stroke="#7a4444" stroke-opacity="0.7" stroke-width="1.5" stroke-linecap="round"/>
<path d="M506.2 202.6h0M508.6 208.6h0M504.8 206.4h0M498.9 202.5h0M500.0 209.6h0M506.6 211.5h0M502.4 205.4h0M499.2 208.8h0M505.5 204.0h0M500.0 198.6h0M502.6 203.0h0M502.0 202.0h0M500.3 208.2h0M503.5 200.5h0M504.1 199.9h0M502.7 214.8h0M502.5 213.3h0M506.3 202.3h0M498.2 211.9h0M500.6 201.6h0M496.6 200.8h0M505.0 200.0h0M497.7 207.7h0M502.5 199.4h0M508.6 200.2h0M500.3 213.8h0M506.3 207.0h0M501.2 203.8h0M497.5 210.5h0M501.0 198.0h0M504.8 212.1h0M501.5 203.1h0M504.1 200.7h0M502.4 205.3h0M499.7 198.3h0M496.9 209.3h0M499.4 208.4h0M505.4 199.1h0M506.4 208.2h0M507.4 205.4h0M500.7 198.9h0M507.5 199.1h0" stroke="#8a2a2a" stroke-opacity="0.8" stroke-width="1.6" stroke-linecap="round"/>
<path d="M503.5 168.2h0M504.2 197.0h0M503.1 185.2h0M503.6 183.8h0M502.8 154.4h0M502.8 192.7h0M502.5 196.9h0M501.4 175.7h0M502.9 192.6h0M501.9 184.4h0M501.5 184.2h0M503.0 181.9h0M502.7 188.2h0M501.6 183.3h0M504.0 195.4h0M503.1 186.3h0M502.5 195.6h0M500.5 189.8h0M502.0 190.5h0M504.1 188.4h0M502.6 180.7h0M501.5 195.5h0M501.6 185.1h0M502.2 197.0h0M504.2 193.0h0M501.3 184.1h0M502.7 177.4h0M503.1 187.8h0M503.9 154.4h0M503.7 168.9h0M501.6 191.6h0M502.5 185.0h0M502.6 185.3h0M501.6 191.5h0M504.2 173.5h0M502.2 187.1h0" stroke="#7a4444" stroke-opacity="0.7" stroke-width="1.5" stroke-linecap="round"/>
<line x1="446.00" y1="194.00" x2="446.00" y2="183.10" stroke="#0b5b31" stroke-width="1.8"/>
<line x1="441.30" y1="183.30" x2="450.70" y2="183.30" stroke="#0b5b31" stroke-width="2.2"/>
<line x1="460.65" y1="200.00" x2="460.65" y2="189.50" stroke="#0b5b31" stroke-width="1.8"/>
<line x1="455.95" y1="189.70" x2="465.35" y2="189.70" stroke="#0b5b31" stroke-width="2.2"/>
<line x1="487.35" y1="197.40" x2="487.35" y2="186.00" stroke="#d24a5a" stroke-width="1.8"/>
<line x1="482.65" y1="186.20" x2="492.05" y2="186.20" stroke="#d24a5a" stroke-width="2.2"/>
<line x1="502.55" y1="196.40" x2="502.55" y2="184.50" stroke="#d24a5a" stroke-width="1.8"/>
<line x1="497.85" y1="184.70" x2="507.25" y2="184.70" stroke="#d24a5a" stroke-width="2.2"/>
<line x1="433.30" y1="146.60" x2="433.30" y2="220.80" stroke="#111" stroke-width="1.7"/>
<line x1="432.50" y1="220.00" x2="516.00" y2="220.00" stroke="#111" stroke-width="1.7"/>
<line x1="429.50" y1="220.00" x2="433.30" y2="220.00" stroke="#111" stroke-width="1.4"/>
<text x="428.50" y="222.50" font-size="7.2" font-weight="bold" fill="#111" stroke="#111" stroke-width="0.25" text-anchor="end" >0</text>
<line x1="429.50" y1="201.85" x2="433.30" y2="201.85" stroke="#111" stroke-width="1.4"/>
<text x="428.50" y="204.35" font-size="7.2" font-weight="bold" fill="#111" stroke="#111" stroke-width="0.25" text-anchor="end" >1,000</text>
<line x1="429.50" y1="183.70" x2="433.30" y2="183.70" stroke="#111" stroke-width="1.4"/>
<text x="428.50" y="186.20" font-size="7.2" font-weight="bold" fill="#111" stroke="#111" stroke-width="0.25" text-anchor="end" >2,000</text>
<line x1="429.50" y1="165.55" x2="433.30" y2="165.55" stroke="#111" stroke-width="1.4"/>
<text x="428.50" y="168.05" font-size="7.2" font-weight="bold" fill="#111" stroke="#111" stroke-width="0.25" text-anchor="end" >3,000</text>
<line x1="429.50" y1="147.40" x2="433.30" y2="147.40" stroke="#111" stroke-width="1.4"/>
<text x="428.50" y="149.90" font-size="7.2" font-weight="bold" fill="#111" stroke="#111" stroke-width="0.25" text-anchor="end" >4,000</text>
<line x1="474.50" y1="145.00" x2="474.50" y2="220.00" stroke="#111" stroke-width="1.6"/>
<line x1="446.00" y1="220.00" x2="446.00" y2="222.80" stroke="#111" stroke-width="1.2"/>
<text x="445.10" y="229.20" font-size="7.0" font-weight="bold" fill="#111" stroke="#111" stroke-width="0.25" text-anchor="middle" >High</text>
<line x1="460.65" y1="220.00" x2="460.65" y2="222.80" stroke="#111" stroke-width="1.2"/>
<text x="461.55" y="229.20" font-size="7.0" font-weight="bold" fill="#111" stroke="#111" stroke-width="0.25" text-anchor="middle" >Low</text>
<line x1="487.35" y1="220.00" x2="487.35" y2="222.80" stroke="#111" stroke-width="1.2"/>
<text x="486.45" y="229.20" font-size="7.0" font-weight="bold" fill="#111" stroke="#111" stroke-width="0.25" text-anchor="middle" >High</text>
<line x1="502.55" y1="220.00" x2="502.55" y2="222.80" stroke="#111" stroke-width="1.2"/>
<text x="503.45" y="229.20" font-size="7.0" font-weight="bold" fill="#111" stroke="#111" stroke-width="0.25" text-anchor="middle" >Low</text>
<text x="437.50" y="156.40" font-size="6.2" font-weight="bold" fill="#d6403f" stroke="#d6403f" stroke-width="0.3"><tspan font-style="italic">P</tspan> < 0.0001</text>
<text x="479.50" y="156.40" font-size="6.2" font-weight="bold" fill="#111" stroke="#111" stroke-width="0.3"><tspan font-style="italic">P</tspan> = 0.5373</text>
<rect x="51.25" y="326.25" width="14.50" height="13.25" fill="#168c4e" />
<rect x="66.50" y="332.50" width="14.25" height="7.00" fill="#168c4e" />
<rect x="93.75" y="329.50" width="15.00" height="10.00" fill="#ef7b7b" />
<rect x="109.50" y="328.75" width="14.25" height="10.75" fill="#ef7b7b" />
<path d="M62.2 329.1h0M58.7 333.2h0M58.3 330.2h0M58.1 330.5h0M54.7 332.7h0M60.2 339.2h0M56.0 331.7h0M56.4 329.9h0M52.5 333.0h0M61.4 334.8h0M52.8 333.1h0M53.5 333.0h0M52.5 332.6h0M61.1 336.1h0M55.0 336.7h0M60.0 333.2h0M62.0 333.9h0M53.5 332.8h0M56.3 339.4h0M55.0 327.5h0M55.9 337.7h0M59.9 334.2h0M58.8 335.1h0M64.5 339.0h0M60.9 332.0h0M60.0 334.4h0M56.8 333.5h0M59.7 336.7h0M58.7 334.8h0M57.0 330.2h0" stroke="#0b4d2a" stroke-opacity="0.8" stroke-width="1.6" stroke-linecap="round"/>
<path d="M58.7 272.0h0M57.1 318.0h0M58.7 320.5h0M56.7 300.8h0M59.6 303.8h0M58.4 315.5h0M59.3 307.9h0M58.0 323.8h0M57.5 322.2h0M57.7 310.8h0M58.2 275.2h0M59.6 321.6h0M59.1 326.4h0M58.4 323.8h0M57.0 316.8h0M63.9 327.0h0M53.4 326.8h0M58.2 300.9h0M61.3 326.4h0M59.9 325.6h0M58.9 324.2h0M59.5 325.1h0" stroke="#555" stroke-opacity="0.7" stroke-width="1.5" stroke-linecap="round"/>
<path d="M72.8 337.7h0M74.2 338.9h0M77.9 336.8h0M75.1 337.2h0M71.8 334.5h0M73.8 339.0h0M72.2 338.8h0M72.7 337.3h0M72.0 339.4h0M75.8 339.2h0M77.2 337.7h0M70.5 338.5h0M72.8 334.9h0M74.5 334.1h0M74.2 338.4h0M76.1 338.2h0M73.8 339.0h0M74.1 337.3h0M71.8 338.8h0M79.5 337.1h0M69.0 337.9h0M78.1 339.1h0M77.2 338.1h0M77.3 337.1h0M72.8 339.3h0M76.5 337.9h0M72.5 336.1h0M72.3 335.0h0" stroke="#0b4d2a" stroke-opacity="0.8" stroke-width="1.6" stroke-linecap="round"/>
<path d="M74.6 324.2h0M72.9 330.0h0M78.0 333.2h0M72.2 325.7h0M73.8 326.8h0M75.2 325.5h0M72.4 324.3h0M72.4 323.8h0M74.1 327.2h0M74.2 320.5h0M74.0 323.6h0M72.2 320.4h0M72.9 332.4h0M75.2 324.2h0M73.9 329.5h0M74.4 332.2h0M72.4 332.5h0M72.3 327.6h0M74.8 333.0h0M74.8 323.4h0M76.4 332.0h0M71.5 329.6h0M73.5 328.5h0M73.7 331.4h0" stroke="#555" stroke-opacity="0.7" stroke-width="1.5" stroke-linecap="round"/>
<path d="M97.9 337.2h0M103.5 337.4h0M97.5 336.5h0M101.8 333.5h0M98.7 338.5h0M102.0 333.1h0M101.4 338.8h0M99.2 335.4h0M101.3 335.4h0M97.5 331.0h0M105.9 338.1h0M106.2 339.0h0M99.8 338.3h0M102.0 334.9h0M101.2 338.6h0M100.0 337.9h0M97.4 336.5h0M101.0 337.6h0M98.9 339.1h0M101.8 337.8h0M97.9 338.1h0M99.5 334.3h0M103.2 338.7h0M97.4 336.8h0M103.1 339.0h0M101.5 334.8h0M104.6 339.0h0M98.2 330.9h0M103.9 334.6h0M100.5 333.8h0M95.0 335.3h0M98.4 337.7h0M98.9 338.4h0M105.5 335.7h0M99.6 336.2h0M95.0 333.8h0" stroke="#8a2a2a" stroke-opacity="0.8" stroke-width="1.6" stroke-linecap="round"/>
<path d="M100.2 311.2h0M99.9 319.1h0M99.9 277.1h0M101.8 326.5h0M102.4 314.6h0M102.0 325.0h0M100.7 306.5h0M99.8 326.5h0M101.6 325.1h0M100.6 316.9h0M100.5 325.5h0M101.1 328.8h0M102.4 319.9h0M100.6 327.2h0M102.4 322.2h0M100.3 317.8h0M101.0 324.5h0M100.3 327.5h0M101.9 328.3h0M101.7 319.5h0M101.9 318.7h0M101.5 319.2h0" stroke="#7a4444" stroke-opacity="0.7" stroke-width="1.5" stroke-linecap="round"/>
<path d="M113.3 332.8h0M110.7 336.6h0M118.8 339.0h0M116.2 337.8h0M119.5 332.4h0M115.8 337.4h0M114.4 336.6h0M110.8 336.1h0M117.9 338.8h0M113.7 333.8h0M116.1 339.2h0M115.3 336.0h0M114.5 334.6h0M122.5 332.9h0M116.6 339.3h0M120.7 334.4h0M116.7 332.8h0M114.7 335.0h0M116.1 335.4h0M118.6 339.3h0M118.7 335.8h0M111.8 339.3h0M114.7 334.5h0M115.1 338.0h0M113.3 334.8h0M116.3 332.9h0" stroke="#8a2a2a" stroke-opacity="0.8" stroke-width="1.6" stroke-linecap="round"/>
<path d="M116.4 323.8h0M117.2 323.9h0M115.5 291.3h0M116.3 297.5h0M117.6 314.6h0M117.4 325.8h0M117.3 311.3h0M115.6 272.0h0M116.8 318.9h0M115.8 328.1h0M116.4 313.1h0M115.9 305.0h0M117.8 310.1h0M116.2 322.6h0M116.2 322.0h0M116.7 328.7h0M115.3 326.1h0M114.6 321.4h0M118.4 314.3h0M117.3 322.1h0M116.8 315.4h0M116.7 321.7h0M116.6 315.6h0M116.3 289.9h0M115.7 320.4h0M115.9 322.7h0M116.8 328.6h0M115.5 327.6h0M115.8 327.2h0M117.1 297.1h0M116.1 327.2h0M116.0 315.6h0" stroke="#7a4444" stroke-opacity="0.7" stroke-width="1.5" stroke-linecap="round"/>
<line x1="58.50" y1="326.25" x2="58.50" y2="310.75" stroke="#0b5b31" stroke-width="1.8"/>
<line x1="53.80" y1="310.95" x2="63.20" y2="310.95" stroke="#0b5b31" stroke-width="2.2"/>
<line x1="73.62" y1="332.50" x2="73.62" y2="324.25" stroke="#0b5b31" stroke-width="1.8"/>
<line x1="68.92" y1="324.45" x2="78.33" y2="324.45" stroke="#0b5b31" stroke-width="2.2"/>
<line x1="101.25" y1="329.50" x2="101.25" y2="316.75" stroke="#d24a5a" stroke-width="1.8"/>
<line x1="96.55" y1="316.95" x2="105.95" y2="316.95" stroke="#d24a5a" stroke-width="2.2"/>
<line x1="116.62" y1="328.75" x2="116.62" y2="316.75" stroke="#d24a5a" stroke-width="1.8"/>
<line x1="111.92" y1="316.95" x2="121.33" y2="316.95" stroke="#d24a5a" stroke-width="2.2"/>
<line x1="44.00" y1="264.20" x2="44.00" y2="340.30" stroke="#111" stroke-width="1.7"/>
<line x1="43.20" y1="339.50" x2="127.00" y2="339.50" stroke="#111" stroke-width="1.7"/>
<line x1="40.20" y1="339.50" x2="44.00" y2="339.50" stroke="#111" stroke-width="1.4"/>
<text x="40.60" y="342.00" font-size="7.2" font-weight="bold" fill="#111" stroke="#111" stroke-width="0.25" text-anchor="end" >0</text>
<line x1="40.20" y1="324.60" x2="44.00" y2="324.60" stroke="#111" stroke-width="1.4"/>
<text x="40.60" y="327.10" font-size="7.2" font-weight="bold" fill="#111" stroke="#111" stroke-width="0.25" text-anchor="end" >10</text>
<line x1="40.20" y1="309.70" x2="44.00" y2="309.70" stroke="#111" stroke-width="1.4"/>
<text x="40.60" y="312.20" font-size="7.2" font-weight="bold" fill="#111" stroke="#111" stroke-width="0.25" text-anchor="end" >20</text>
<line x1="40.20" y1="294.80" x2="44.00" y2="294.80" stroke="#111" stroke-width="1.4"/>
<text x="40.60" y="297.30" font-size="7.2" font-weight="bold" fill="#111" stroke="#111" stroke-width="0.25" text-anchor="end" >30</text>
<line x1="40.20" y1="279.90" x2="44.00" y2="279.90" stroke="#111" stroke-width="1.4"/>
<text x="40.60" y="282.40" font-size="7.2" font-weight="bold" fill="#111" stroke="#111" stroke-width="0.25" text-anchor="end" >40</text>
<line x1="40.20" y1="265.00" x2="44.00" y2="265.00" stroke="#111" stroke-width="1.4"/>
<text x="40.60" y="267.50" font-size="7.2" font-weight="bold" fill="#111" stroke="#111" stroke-width="0.25" text-anchor="end" >50</text>
<line x1="87.50" y1="265.50" x2="87.50" y2="339.50" stroke="#111" stroke-width="1.6"/>
<line x1="58.50" y1="339.50" x2="58.50" y2="342.30" stroke="#111" stroke-width="1.2"/>
<text x="57.60" y="348.70" font-size="7.0" font-weight="bold" fill="#111" stroke="#111" stroke-width="0.25" text-anchor="middle" >High</text>
<line x1="73.62" y1="339.50" x2="73.62" y2="342.30" stroke="#111" stroke-width="1.2"/>
<text x="74.53" y="348.70" font-size="7.0" font-weight="bold" fill="#111" stroke="#111" stroke-width="0.25" text-anchor="middle" >Low</text>
<line x1="101.25" y1="339.50" x2="101.25" y2="342.30" stroke="#111" stroke-width="1.2"/>
<text x="100.35" y="348.70" font-size="7.0" font-weight="bold" fill="#111" stroke="#111" stroke-width="0.25" text-anchor="middle" >High</text>
<line x1="116.62" y1="339.50" x2="116.62" y2="342.30" stroke="#111" stroke-width="1.2"/>
<text x="117.53" y="348.70" font-size="7.0" font-weight="bold" fill="#111" stroke="#111" stroke-width="0.25" text-anchor="middle" >Low</text>
<text x="49.50" y="274.60" font-size="6.2" font-weight="bold" fill="#d6403f" stroke="#d6403f" stroke-width="0.3"><tspan font-style="italic">P</tspan> = 0.0210</text>
<text x="94.50" y="274.60" font-size="6.2" font-weight="bold" fill="#111" stroke="#111" stroke-width="0.3"><tspan font-style="italic">P</tspan> = 0.5468</text>
<rect x="163.25" y="329.25" width="15.00" height="9.75" fill="#168c4e" />
<rect x="179.00" y="333.50" width="14.75" height="5.50" fill="#168c4e" />
<rect x="206.25" y="330.75" width="15.00" height="8.25" fill="#ef7b7b" />
<rect x="222.00" y="332.00" width="14.25" height="7.00" fill="#ef7b7b" />
<path d="M170.9 337.0h0M174.1 335.9h0M169.3 336.8h0M170.4 336.6h0M168.4 334.4h0M170.3 335.3h0M173.9 330.2h0M169.9 338.5h0M166.6 332.0h0M174.0 333.8h0M169.5 331.2h0M169.8 330.9h0M165.5 333.5h0M171.9 332.8h0M167.2 338.7h0M170.2 337.0h0M164.4 338.3h0M170.3 333.3h0M172.9 337.3h0M170.6 334.0h0M168.8 337.8h0M165.7 332.8h0M169.4 336.7h0M168.4 335.6h0M169.3 331.2h0M169.0 336.0h0M170.9 335.3h0M166.6 338.6h0M173.5 334.9h0M168.1 334.2h0M173.6 336.8h0M171.8 337.0h0M173.0 336.8h0M173.9 330.6h0" stroke="#0b4d2a" stroke-opacity="0.8" stroke-width="1.6" stroke-linecap="round"/>
<path d="M171.0 316.2h0M171.0 326.2h0M172.6 318.2h0M169.9 322.5h0M172.3 329.0h0M171.4 321.8h0M171.7 328.9h0M171.9 313.7h0M171.3 329.6h0M171.3 304.5h0M173.6 316.0h0M170.0 320.7h0M170.4 327.9h0M171.9 327.9h0M171.7 327.2h0M170.3 326.6h0M170.1 312.8h0M167.9 315.1h0M169.7 315.8h0M170.2 326.8h0M170.4 318.4h0M172.8 325.6h0M171.2 328.5h0M170.9 323.7h0M170.1 321.8h0M170.0 320.0h0M173.1 320.9h0M170.8 305.5h0M170.6 327.7h0M170.0 325.0h0M172.6 313.7h0" stroke="#555" stroke-opacity="0.7" stroke-width="1.5" stroke-linecap="round"/>
<path d="M190.0 336.3h0M189.1 336.3h0M190.8 335.7h0M188.2 338.9h0M188.4 335.8h0M185.6 336.8h0M184.3 338.9h0M185.7 337.2h0M188.6 337.9h0M184.1 338.3h0M185.4 336.9h0M182.6 337.1h0M187.0 336.4h0M184.9 338.8h0M187.3 338.4h0M182.9 335.7h0M185.5 336.2h0M186.7 335.7h0M184.1 338.9h0M181.1 334.3h0M185.7 338.7h0M183.6 337.7h0M185.7 336.0h0M182.6 337.3h0M185.3 337.8h0M183.6 338.3h0M186.3 336.6h0M186.2 338.8h0M186.9 337.6h0M185.4 335.5h0M190.7 336.9h0M190.3 335.6h0M184.1 338.4h0M184.0 337.2h0M185.2 336.3h0M190.2 339.0h0M187.1 338.9h0M181.7 336.3h0M189.2 338.0h0M189.2 335.5h0M186.2 339.0h0M187.8 334.5h0M184.2 337.0h0M181.0 334.5h0M184.7 334.8h0" stroke="#0b4d2a" stroke-opacity="0.8" stroke-width="1.6" stroke-linecap="round"/>
<path d="M186.5 328.1h0M186.9 328.2h0M186.9 326.4h0M189.8 334.2h0M187.0 324.1h0M183.7 331.4h0M185.9 327.6h0M186.6 328.4h0M187.5 330.0h0M186.7 320.8h0M186.2 326.2h0M185.0 325.1h0M188.6 331.1h0M186.0 325.8h0M184.9 327.9h0M186.2 329.7h0M185.5 317.6h0M187.7 333.2h0M186.4 332.7h0M187.2 317.0h0" stroke="#555" stroke-opacity="0.7" stroke-width="1.5" stroke-linecap="round"/>
<path d="M214.1 335.1h0M215.1 336.0h0M217.7 334.2h0M213.7 332.4h0M210.7 336.7h0M220.1 338.6h0M215.0 336.8h0M214.9 336.2h0M212.9 331.8h0M214.6 338.4h0M218.0 338.5h0M216.9 335.3h0M219.5 335.7h0M212.8 332.3h0M210.7 337.3h0M215.2 336.3h0M211.1 332.0h0M209.6 337.1h0M212.3 338.7h0M210.9 338.7h0M210.5 336.3h0M209.5 334.6h0M214.2 336.1h0M217.5 338.8h0M210.6 338.3h0M220.1 334.5h0M214.9 332.6h0M218.3 338.8h0M217.6 334.2h0M212.4 338.5h0M211.4 337.7h0M216.3 335.5h0M211.0 336.0h0M215.8 332.8h0M210.9 336.5h0M217.4 336.5h0M211.5 337.1h0M217.3 331.8h0M212.0 336.5h0M210.8 335.2h0M207.4 338.7h0M215.4 334.8h0M209.6 337.2h0M215.5 336.0h0M212.5 333.0h0M219.0 334.7h0M215.3 334.1h0M215.8 338.6h0M212.2 336.4h0M217.4 332.9h0M211.3 335.2h0M216.4 337.6h0M215.1 333.5h0M209.7 334.5h0M212.8 336.9h0M211.2 338.1h0M218.7 334.7h0M212.9 333.6h0M209.3 336.7h0M214.5 338.1h0" stroke="#8a2a2a" stroke-opacity="0.8" stroke-width="1.6" stroke-linecap="round"/>
<path d="M215.0 330.5h0M213.7 301.4h0M213.6 328.4h0M213.5 326.6h0M212.6 321.9h0M213.0 324.1h0M213.2 330.7h0M212.8 327.5h0M215.5 319.9h0M213.7 330.3h0M215.5 323.0h0M213.9 325.7h0M214.8 326.1h0M213.3 329.6h0M213.5 329.7h0M211.8 310.4h0M212.2 315.2h0M212.9 327.5h0" stroke="#7a4444" stroke-opacity="0.7" stroke-width="1.5" stroke-linecap="round"/>
<path d="M226.9 337.7h0M230.8 338.4h0M225.2 337.3h0M225.4 338.0h0M227.7 333.6h0M225.6 334.4h0M230.6 338.1h0M228.6 334.5h0M230.8 333.8h0M231.2 335.2h0M228.9 338.9h0M228.1 333.1h0M226.4 335.4h0M229.4 336.1h0M226.1 336.7h0M227.8 338.0h0M228.4 338.2h0M234.2 338.6h0M232.2 333.9h0M234.2 334.8h0M228.2 337.2h0M231.3 336.4h0M228.4 337.2h0M231.4 337.5h0M225.8 338.8h0M232.3 333.5h0M229.3 336.1h0M225.9 338.4h0M229.1 338.5h0M227.1 337.0h0M229.0 336.4h0M231.5 334.8h0M231.7 338.8h0M234.7 337.9h0M230.7 337.6h0M230.2 338.6h0M229.7 336.6h0M227.8 332.9h0M227.1 333.9h0M227.9 336.2h0M230.9 339.0h0M228.2 333.3h0M226.9 337.5h0M223.2 334.7h0M227.7 333.4h0M231.1 334.0h0" stroke="#8a2a2a" stroke-opacity="0.8" stroke-width="1.6" stroke-linecap="round"/>
<path d="M228.5 331.3h0M228.2 328.3h0M230.0 312.8h0M228.6 331.2h0M230.0 330.0h0M227.8 330.5h0M228.9 331.2h0M231.1 325.1h0M226.3 329.7h0M228.5 322.2h0M229.1 322.6h0M229.7 327.4h0M228.5 330.5h0M228.2 330.4h0M228.1 324.5h0M230.1 327.3h0M230.6 331.1h0M231.4 320.2h0M228.1 326.2h0M230.9 331.8h0M229.7 318.3h0M227.1 311.5h0M229.1 327.8h0M229.3 331.9h0M228.9 328.7h0M229.0 318.9h0M229.5 323.8h0M228.1 331.3h0M229.5 332.0h0M228.4 332.2h0M229.4 331.8h0M230.8 328.4h0" stroke="#7a4444" stroke-opacity="0.7" stroke-width="1.5" stroke-linecap="round"/>
<line x1="170.75" y1="329.25" x2="170.75" y2="320.50" stroke="#0b5b31" stroke-width="1.8"/>
<line x1="166.05" y1="320.70" x2="175.45" y2="320.70" stroke="#0b5b31" stroke-width="2.2"/>
<line x1="186.38" y1="333.50" x2="186.38" y2="327.00" stroke="#0b5b31" stroke-width="1.8"/>
<line x1="181.68" y1="327.20" x2="191.07" y2="327.20" stroke="#0b5b31" stroke-width="2.2"/>
<line x1="213.75" y1="330.75" x2="213.75" y2="321.75" stroke="#d24a5a" stroke-width="1.8"/>
<line x1="209.05" y1="321.95" x2="218.45" y2="321.95" stroke="#d24a5a" stroke-width="2.2"/>
<line x1="229.12" y1="332.00" x2="229.12" y2="325.00" stroke="#d24a5a" stroke-width="1.8"/>
<line x1="224.43" y1="325.20" x2="233.82" y2="325.20" stroke="#d24a5a" stroke-width="2.2"/>
<line x1="155.00" y1="264.20" x2="155.00" y2="339.80" stroke="#111" stroke-width="1.7"/>
<line x1="154.20" y1="339.00" x2="240.50" y2="339.00" stroke="#111" stroke-width="1.7"/>
<line x1="151.20" y1="339.00" x2="155.00" y2="339.00" stroke="#111" stroke-width="1.4"/>
<text x="152.50" y="341.50" font-size="7.2" font-weight="bold" fill="#111" stroke="#111" stroke-width="0.25" text-anchor="end" >0</text>
<line x1="151.20" y1="320.50" x2="155.00" y2="320.50" stroke="#111" stroke-width="1.4"/>
<text x="152.50" y="323.00" font-size="7.2" font-weight="bold" fill="#111" stroke="#111" stroke-width="0.25" text-anchor="end" >10</text>
<line x1="151.20" y1="302.00" x2="155.00" y2="302.00" stroke="#111" stroke-width="1.4"/>
<text x="152.50" y="304.50" font-size="7.2" font-weight="bold" fill="#111" stroke="#111" stroke-width="0.25" text-anchor="end" >20</text>
<line x1="151.20" y1="283.50" x2="155.00" y2="283.50" stroke="#111" stroke-width="1.4"/>
<text x="152.50" y="286.00" font-size="7.2" font-weight="bold" fill="#111" stroke="#111" stroke-width="0.25" text-anchor="end" >30</text>
<line x1="151.20" y1="265.00" x2="155.00" y2="265.00" stroke="#111" stroke-width="1.4"/>
<text x="152.50" y="267.50" font-size="7.2" font-weight="bold" fill="#111" stroke="#111" stroke-width="0.25" text-anchor="end" >40</text>
<line x1="200.00" y1="265.50" x2="200.00" y2="339.00" stroke="#111" stroke-width="1.6"/>
<line x1="170.75" y1="339.00" x2="170.75" y2="341.80" stroke="#111" stroke-width="1.2"/>
<text x="169.85" y="348.20" font-size="7.0" font-weight="bold" fill="#111" stroke="#111" stroke-width="0.25" text-anchor="middle" >High</text>
<line x1="186.38" y1="339.00" x2="186.38" y2="341.80" stroke="#111" stroke-width="1.2"/>
<text x="187.28" y="348.20" font-size="7.0" font-weight="bold" fill="#111" stroke="#111" stroke-width="0.25" text-anchor="middle" >Low</text>
<line x1="213.75" y1="339.00" x2="213.75" y2="341.80" stroke="#111" stroke-width="1.2"/>
<text x="212.85" y="348.20" font-size="7.0" font-weight="bold" fill="#111" stroke="#111" stroke-width="0.25" text-anchor="middle" >High</text>
<line x1="229.12" y1="339.00" x2="229.12" y2="341.80" stroke="#111" stroke-width="1.2"/>
<text x="230.03" y="348.20" font-size="7.0" font-weight="bold" fill="#111" stroke="#111" stroke-width="0.25" text-anchor="middle" >Low</text>
<text x="163.75" y="274.60" font-size="6.2" font-weight="bold" fill="#d6403f" stroke="#d6403f" stroke-width="0.3"><tspan font-style="italic">P</tspan> < 0.0001</text>
<text x="205.00" y="274.60" font-size="6.2" font-weight="bold" fill="#111" stroke="#111" stroke-width="0.3"><tspan font-style="italic">P</tspan> = 0.5742</text>
<text x="0.60" y="32.70" font-size="14.2" font-weight="bold" fill="#111" stroke="#111" stroke-width="0.25" text-anchor="start" >A</text>
<text x="273.60" y="29.10" font-size="14.2" font-weight="bold" fill="#111" stroke="#111" stroke-width="0.25" text-anchor="start" >B</text>
<text x="0.80" y="260.20" font-size="14.2" font-weight="bold" fill="#111" stroke="#111" stroke-width="0.25" text-anchor="start" >C</text>
<text x="273.40" y="257.90" font-size="14.2" font-weight="bold" fill="#111" stroke="#111" stroke-width="0.25" text-anchor="start" >D</text>
<text x="64.20" y="27.80" font-size="10.2" font-weight="bold" fill="#111" stroke="#111" stroke-width="0.25" text-anchor="start" >Cohort 1</text>
<line x1="35.00" y1="32.30" x2="128.60" y2="32.30" stroke="#111" stroke-width="1.4"/>
<text x="175.60" y="28.60" font-size="10.2" font-weight="bold" fill="#111" stroke="#111" stroke-width="0.25" text-anchor="start" >Cohort 2</text>
<line x1="146.20" y1="32.40" x2="240.40" y2="32.40" stroke="#111" stroke-width="1.4"/>
<text x="339.00" y="28.40" font-size="10.2" font-weight="bold" fill="#111" stroke="#111" stroke-width="0.25" text-anchor="start" >Cohort 1</text>
<line x1="309.60" y1="32.60" x2="402.90" y2="32.60" stroke="#111" stroke-width="1.4"/>
<text x="450.70" y="28.40" font-size="10.2" font-weight="bold" fill="#111" stroke="#111" stroke-width="0.25" text-anchor="start" >Cohort 2</text>
<line x1="421.40" y1="32.40" x2="514.80" y2="32.40" stroke="#111" stroke-width="1.4"/>
<text x="63.70" y="252.60" font-size="10.2" font-weight="bold" fill="#111" stroke="#111" stroke-width="0.25" text-anchor="start" >Cohort 1</text>
<line x1="35.00" y1="256.20" x2="130.00" y2="256.20" stroke="#111" stroke-width="1.4"/>
<text x="175.10" y="252.60" font-size="10.2" font-weight="bold" fill="#111" stroke="#111" stroke-width="0.25" text-anchor="start" >Cohort 2</text>
<line x1="146.20" y1="256.30" x2="240.20" y2="256.30" stroke="#111" stroke-width="1.4"/>
<text transform="translate(8.60,75.70) rotate(-90)" x="0" y="0" font-size="9.2" font-weight="bold" fill="#111" stroke="#111" stroke-width="0.25" text-anchor="middle">CD4 QIF score</text>
<text transform="translate(8.00,167.30) rotate(-90)" x="0" y="0" font-size="9.2" font-weight="bold" fill="#111" stroke="#111" stroke-width="0.25" text-anchor="middle">CD8 QIF score</text>
<text transform="translate(283.60,83.30) rotate(-90)" x="0" y="0" font-size="9" font-weight="bold" fill="#111" stroke="#111" stroke-width="0.25" text-anchor="middle">XCR1 QIF score</text>
<text transform="translate(284.00,183.70) rotate(-90)" x="0" y="0" font-size="9" font-weight="bold" fill="#111" stroke="#111" stroke-width="0.25" text-anchor="middle">CD11c QIF score</text>
<text transform="translate(21.40,297.80) rotate(-90)" x="0" y="0" font-size="9.2" font-weight="bold" fill="#111" stroke="#111" stroke-width="0.25" text-anchor="middle">cDC1 (%)</text>
<rect x="204.20" y="2.90" width="9.00" height="3.80" fill="#1a9a64" />
<text x="218.60" y="9.10" font-size="10" font-weight="bold" fill="#111" stroke="#111" stroke-width="0.25" text-anchor="start" >OX40</text>
<rect x="257.00" y="3.00" width="8.50" height="3.60" fill="#f08080" />
<text x="270.70" y="9.10" font-size="10" font-weight="bold" fill="#111" stroke="#111" stroke-width="0.25" text-anchor="start" >OX40L</text>
<defs><filter id="bl" x="0" y="0" width="1" height="1"><feGaussianBlur stdDeviation="0.7"/></filter><filter id="bb" x="0" y="0" width="1" height="1"><feGaussianBlur stdDeviation="4"/></filter><clipPath id="cl"><rect x="290" y="274" width="113.3" height="114.2"/><rect x="404.8" y="274" width="114.2" height="114.2"/><rect x="290" y="389.7" width="113.3" height="114.3"/><rect x="404.8" y="389.7" width="114.2" height="114.3"/></clipPath></defs>
<rect x="290" y="255" width="230" height="17" fill="#1b1b1b"/>
<rect x="290" y="274" width="229" height="230" fill="#06060a"/>
<g clip-path="url(#cl)"><g filter="url(#bb)"><rect x="290.0" y="274.0" width="19.5" height="19.5" fill="#0a070b"/><rect x="309.0" y="274.0" width="19.5" height="19.5" fill="#0b080e"/><rect x="328.0" y="274.0" width="19.5" height="19.5" fill="#100809"/><rect x="347.0" y="274.0" width="19.5" height="19.5" fill="#0b0809"/><rect x="366.0" y="274.0" width="19.5" height="19.5" fill="#0d0906"/><rect x="385.0" y="274.0" width="19.5" height="19.5" fill="#110708"/><rect x="290.0" y="293.0" width="19.5" height="19.5" fill="#0f0e0c"/><rect x="309.0" y="293.0" width="19.5" height="19.5" fill="#120e06"/><rect x="328.0" y="293.0" width="19.5" height="19.5" fill="#100c0a"/><rect x="347.0" y="293.0" width="19.5" height="19.5" fill="#100907"/><rect x="366.0" y="293.0" width="19.5" height="19.5" fill="#110806"/><rect x="385.0" y="293.0" width="19.5" height="19.5" fill="#110708"/><rect x="290.0" y="312.0" width="19.5" height="19.5" fill="#0d0a11"/><rect x="309.0" y="312.0" width="19.5" height="19.5" fill="#110d06"/><rect x="328.0" y="312.0" width="19.5" height="19.5" fill="#120e06"/><rect x="347.0" y="312.0" width="19.5" height="19.5" fill="#100b08"/><rect x="366.0" y="312.0" width="19.5" height="19.5" fill="#130c06"/><rect x="385.0" y="312.0" width="19.5" height="19.5" fill="#0f0809"/><rect x="290.0" y="331.0" width="19.5" height="19.5" fill="#0f0c09"/><rect x="309.0" y="331.0" width="19.5" height="19.5" fill="#100e07"/><rect x="328.0" y="331.0" width="19.5" height="19.5" fill="#110e09"/><rect x="347.0" y="331.0" width="19.5" height="19.5" fill="#0c090e"/><rect x="366.0" y="331.0" width="19.5" height="19.5" fill="#0e0b09"/><rect x="385.0" y="331.0" width="19.5" height="19.5" fill="#100708"/><rect x="290.0" y="350.0" width="19.5" height="19.5" fill="#070813"/><rect x="309.0" y="350.0" width="19.5" height="19.5" fill="#0c0915"/><rect x="328.0" y="350.0" width="19.5" height="19.5" fill="#110c17"/><rect x="347.0" y="350.0" width="19.5" height="19.5" fill="#0b0a0d"/><rect x="366.0" y="350.0" width="19.5" height="19.5" fill="#0c090b"/><rect x="385.0" y="350.0" width="19.5" height="19.5" fill="#0f070b"/><rect x="290.0" y="369.0" width="19.5" height="19.5" fill="#080c15"/><rect x="309.0" y="369.0" width="19.5" height="19.5" fill="#090c0f"/><rect x="328.0" y="369.0" width="19.5" height="19.5" fill="#08060c"/><rect x="347.0" y="369.0" width="19.5" height="19.5" fill="#0e0c09"/><rect x="366.0" y="369.0" width="19.5" height="19.5" fill="#0f0b09"/><rect x="385.0" y="369.0" width="19.5" height="19.5" fill="#0c0609"/><rect x="405.0" y="274.0" width="14.8" height="14.8" fill="#0c0c12"/><rect x="419.2" y="274.0" width="14.8" height="14.8" fill="#0d0a12"/><rect x="433.5" y="274.0" width="14.8" height="14.8" fill="#0d0811"/><rect x="447.8" y="274.0" width="14.8" height="14.8" fill="#020407"/><rect x="462.0" y="274.0" width="14.8" height="14.8" fill="#010003"/><rect x="476.2" y="274.0" width="14.8" height="14.8" fill="#070404"/><rect x="490.5" y="274.0" width="14.8" height="14.8" fill="#130809"/><rect x="504.8" y="274.0" width="14.8" height="14.8" fill="#130809"/><rect x="405.0" y="288.2" width="14.8" height="14.8" fill="#0d0d12"/><rect x="419.2" y="288.2" width="14.8" height="14.8" fill="#11080d"/><rect x="433.5" y="288.2" width="14.8" height="14.8" fill="#08090b"/><rect x="447.8" y="288.2" width="14.8" height="14.8" fill="#080b04"/><rect x="462.0" y="288.2" width="14.8" height="14.8" fill="#010304"/><rect x="476.2" y="288.2" width="14.8" height="14.8" fill="#120703"/><rect x="490.5" y="288.2" width="14.8" height="14.8" fill="#0e0907"/><rect x="504.8" y="288.2" width="14.8" height="14.8" fill="#0e0810"/><rect x="405.0" y="302.5" width="14.8" height="14.8" fill="#0f0812"/><rect x="419.2" y="302.5" width="14.8" height="14.8" fill="#100810"/><rect x="433.5" y="302.5" width="14.8" height="14.8" fill="#0a0911"/><rect x="447.8" y="302.5" width="14.8" height="14.8" fill="#0e0907"/><rect x="462.0" y="302.5" width="14.8" height="14.8" fill="#0a0401"/><rect x="476.2" y="302.5" width="14.8" height="14.8" fill="#100602"/><rect x="490.5" y="302.5" width="14.8" height="14.8" fill="#0c0501"/><rect x="504.8" y="302.5" width="14.8" height="14.8" fill="#0f0a0b"/><rect x="405.0" y="316.8" width="14.8" height="14.8" fill="#0e0913"/><rect x="419.2" y="316.8" width="14.8" height="14.8" fill="#0d0b12"/><rect x="433.5" y="316.8" width="14.8" height="14.8" fill="#0c0a14"/><rect x="447.8" y="316.8" width="14.8" height="14.8" fill="#0f0b0d"/><rect x="462.0" y="316.8" width="14.8" height="14.8" fill="#110603"/><rect x="476.2" y="316.8" width="14.8" height="14.8" fill="#100707"/><rect x="490.5" y="316.8" width="14.8" height="14.8" fill="#0c0a0d"/><rect x="504.8" y="316.8" width="14.8" height="14.8" fill="#0e0810"/><rect x="405.0" y="331.0" width="14.8" height="14.8" fill="#110c0d"/><rect x="419.2" y="331.0" width="14.8" height="14.8" fill="#0e0913"/><rect x="433.5" y="331.0" width="14.8" height="14.8" fill="#0b0807"/><rect x="447.8" y="331.0" width="14.8" height="14.8" fill="#0e0810"/><rect x="462.0" y="331.0" width="14.8" height="14.8" fill="#0a0902"/><rect x="476.2" y="331.0" width="14.8" height="14.8" fill="#0b0407"/><rect x="490.5" y="331.0" width="14.8" height="14.8" fill="#100707"/><rect x="504.8" y="331.0" width="14.8" height="14.8" fill="#0a0401"/><rect x="405.0" y="345.2" width="14.8" height="14.8" fill="#0c0811"/><rect x="419.2" y="345.2" width="14.8" height="14.8" fill="#0a081c"/><rect x="433.5" y="345.2" width="14.8" height="14.8" fill="#0c0816"/><rect x="447.8" y="345.2" width="14.8" height="14.8" fill="#0d0918"/><rect x="462.0" y="345.2" width="14.8" height="14.8" fill="#0a0902"/><rect x="476.2" y="345.2" width="14.8" height="14.8" fill="#0a060b"/><rect x="490.5" y="345.2" width="14.8" height="14.8" fill="#0e070e"/><rect x="504.8" y="345.2" width="14.8" height="14.8" fill="#090c08"/><rect x="405.0" y="359.5" width="14.8" height="14.8" fill="#0b0b1a"/><rect x="419.2" y="359.5" width="14.8" height="14.8" fill="#090916"/><rect x="433.5" y="359.5" width="14.8" height="14.8" fill="#0e0d0f"/><rect x="447.8" y="359.5" width="14.8" height="14.8" fill="#0d0812"/><rect x="462.0" y="359.5" width="14.8" height="14.8" fill="#0a0902"/><rect x="476.2" y="359.5" width="14.8" height="14.8" fill="#110a0d"/><rect x="490.5" y="359.5" width="14.8" height="14.8" fill="#110805"/><rect x="504.8" y="359.5" width="14.8" height="14.8" fill="#070401"/><rect x="405.0" y="373.8" width="14.8" height="14.8" fill="#0e0e10"/><rect x="419.2" y="373.8" width="14.8" height="14.8" fill="#0e0e10"/><rect x="433.5" y="373.8" width="14.8" height="14.8" fill="#05050e"/><rect x="447.8" y="373.8" width="14.8" height="14.8" fill="#100d08"/><rect x="462.0" y="373.8" width="14.8" height="14.8" fill="#060601"/><rect x="476.2" y="373.8" width="14.8" height="14.8" fill="#050507"/><rect x="490.5" y="373.8" width="14.8" height="14.8" fill="#070401"/><rect x="504.8" y="373.8" width="14.8" height="14.8" fill="#0f0502"/><rect x="290.0" y="389.0" width="14.8" height="14.9" fill="#03080e"/><rect x="304.2" y="389.0" width="14.8" height="14.9" fill="#040812"/><rect x="318.5" y="389.0" width="14.8" height="14.9" fill="#040812"/><rect x="332.8" y="389.0" width="14.8" height="14.9" fill="#06090d"/><rect x="347.0" y="389.0" width="14.8" height="14.9" fill="#040610"/><rect x="361.2" y="389.0" width="14.8" height="14.9" fill="#060410"/><rect x="375.5" y="389.0" width="14.8" height="14.9" fill="#060515"/><rect x="389.8" y="389.0" width="14.8" height="14.9" fill="#050411"/><rect x="290.0" y="403.4" width="14.8" height="14.9" fill="#09070e"/><rect x="304.2" y="403.4" width="14.8" height="14.9" fill="#0b0a09"/><rect x="318.5" y="403.4" width="14.8" height="14.9" fill="#090a0c"/><rect x="332.8" y="403.4" width="14.8" height="14.9" fill="#050d11"/><rect x="347.0" y="403.4" width="14.8" height="14.9" fill="#0b0d07"/><rect x="361.2" y="403.4" width="14.8" height="14.9" fill="#0c0b0a"/><rect x="375.5" y="403.4" width="14.8" height="14.9" fill="#060411"/><rect x="389.8" y="403.4" width="14.8" height="14.9" fill="#050411"/><rect x="290.0" y="417.8" width="14.8" height="14.9" fill="#04030f"/><rect x="304.2" y="417.8" width="14.8" height="14.9" fill="#07060b"/><rect x="318.5" y="417.8" width="14.8" height="14.9" fill="#040610"/><rect x="332.8" y="417.8" width="14.8" height="14.9" fill="#050c16"/><rect x="347.0" y="417.8" width="14.8" height="14.9" fill="#080d09"/><rect x="361.2" y="417.8" width="14.8" height="14.9" fill="#0c0b0a"/><rect x="375.5" y="417.8" width="14.8" height="14.9" fill="#060514"/><rect x="389.8" y="417.8" width="14.8" height="14.9" fill="#060514"/><rect x="290.0" y="432.1" width="14.8" height="14.9" fill="#051011"/><rect x="304.2" y="432.1" width="14.8" height="14.9" fill="#051011"/><rect x="318.5" y="432.1" width="14.8" height="14.9" fill="#060909"/><rect x="332.8" y="432.1" width="14.8" height="14.9" fill="#040610"/><rect x="347.0" y="432.1" width="14.8" height="14.9" fill="#0a090d"/><rect x="361.2" y="432.1" width="14.8" height="14.9" fill="#0a090a"/><rect x="375.5" y="432.1" width="14.8" height="14.9" fill="#040610"/><rect x="389.8" y="432.1" width="14.8" height="14.9" fill="#080715"/><rect x="290.0" y="446.5" width="14.8" height="14.9" fill="#061314"/><rect x="304.2" y="446.5" width="14.8" height="14.9" fill="#090f0c"/><rect x="318.5" y="446.5" width="14.8" height="14.9" fill="#0b0a06"/><rect x="332.8" y="446.5" width="14.8" height="14.9" fill="#08060c"/><rect x="347.0" y="446.5" width="14.8" height="14.9" fill="#04090d"/><rect x="361.2" y="446.5" width="14.8" height="14.9" fill="#08060c"/><rect x="375.5" y="446.5" width="14.8" height="14.9" fill="#050414"/><rect x="389.8" y="446.5" width="14.8" height="14.9" fill="#050511"/><rect x="290.0" y="460.9" width="14.8" height="14.9" fill="#080722"/><rect x="304.2" y="460.9" width="14.8" height="14.9" fill="#09071d"/><rect x="318.5" y="460.9" width="14.8" height="14.9" fill="#080813"/><rect x="332.8" y="460.9" width="14.8" height="14.9" fill="#050610"/><rect x="347.0" y="460.9" width="14.8" height="14.9" fill="#07030d"/><rect x="361.2" y="460.9" width="14.8" height="14.9" fill="#07090a"/><rect x="375.5" y="460.9" width="14.8" height="14.9" fill="#050414"/><rect x="389.8" y="460.9" width="14.8" height="14.9" fill="#04050f"/><rect x="290.0" y="475.2" width="14.8" height="14.9" fill="#0a0919"/><rect x="304.2" y="475.2" width="14.8" height="14.9" fill="#08071e"/><rect x="318.5" y="475.2" width="14.8" height="14.9" fill="#090713"/><rect x="332.8" y="475.2" width="14.8" height="14.9" fill="#07060e"/><rect x="347.0" y="475.2" width="14.8" height="14.9" fill="#0a040c"/><rect x="361.2" y="475.2" width="14.8" height="14.9" fill="#060517"/><rect x="375.5" y="475.2" width="14.8" height="14.9" fill="#060515"/><rect x="389.8" y="475.2" width="14.8" height="14.9" fill="#030b0b"/><rect x="290.0" y="489.6" width="14.8" height="14.9" fill="#08081c"/><rect x="304.2" y="489.6" width="14.8" height="14.9" fill="#090916"/><rect x="318.5" y="489.6" width="14.8" height="14.9" fill="#050414"/><rect x="332.8" y="489.6" width="14.8" height="14.9" fill="#04050f"/><rect x="347.0" y="489.6" width="14.8" height="14.9" fill="#06050d"/><rect x="361.2" y="489.6" width="14.8" height="14.9" fill="#050414"/><rect x="375.5" y="489.6" width="14.8" height="14.9" fill="#050411"/><rect x="389.8" y="489.6" width="14.8" height="14.9" fill="#07030d"/><rect x="405.0" y="389.0" width="14.8" height="14.9" fill="#03060c"/><rect x="419.2" y="389.0" width="14.8" height="14.9" fill="#080a06"/><rect x="433.5" y="389.0" width="14.8" height="14.9" fill="#040913"/><rect x="447.8" y="389.0" width="14.8" height="14.9" fill="#050d16"/><rect x="462.0" y="389.0" width="14.8" height="14.9" fill="#070608"/><rect x="476.2" y="389.0" width="14.8" height="14.9" fill="#030711"/><rect x="490.5" y="389.0" width="14.8" height="14.9" fill="#040913"/><rect x="504.8" y="389.0" width="14.8" height="14.9" fill="#070615"/><rect x="405.0" y="403.4" width="14.8" height="14.9" fill="#0b080e"/><rect x="419.2" y="403.4" width="14.8" height="14.9" fill="#070a06"/><rect x="433.5" y="403.4" width="14.8" height="14.9" fill="#090b10"/><rect x="447.8" y="403.4" width="14.8" height="14.9" fill="#050d16"/><rect x="462.0" y="403.4" width="14.8" height="14.9" fill="#050e13"/><rect x="476.2" y="403.4" width="14.8" height="14.9" fill="#070a11"/><rect x="490.5" y="403.4" width="14.8" height="14.9" fill="#0b0d07"/><rect x="504.8" y="403.4" width="14.8" height="14.9" fill="#0c0c0e"/><rect x="405.0" y="417.8" width="14.8" height="14.9" fill="#0b0e0c"/><rect x="419.2" y="417.8" width="14.8" height="14.9" fill="#0d0f07"/><rect x="433.5" y="417.8" width="14.8" height="14.9" fill="#0b0b0f"/><rect x="447.8" y="417.8" width="14.8" height="14.9" fill="#040913"/><rect x="462.0" y="417.8" width="14.8" height="14.9" fill="#050c16"/><rect x="476.2" y="417.8" width="14.8" height="14.9" fill="#0b090b"/><rect x="490.5" y="417.8" width="14.8" height="14.9" fill="#09090e"/><rect x="504.8" y="417.8" width="14.8" height="14.9" fill="#060c15"/><rect x="405.0" y="432.1" width="14.8" height="14.9" fill="#090510"/><rect x="419.2" y="432.1" width="14.8" height="14.9" fill="#0c0c0e"/><rect x="433.5" y="432.1" width="14.8" height="14.9" fill="#050713"/><rect x="447.8" y="432.1" width="14.8" height="14.9" fill="#050817"/><rect x="462.0" y="432.1" width="14.8" height="14.9" fill="#030711"/><rect x="476.2" y="432.1" width="14.8" height="14.9" fill="#0c0c12"/><rect x="490.5" y="432.1" width="14.8" height="14.9" fill="#090713"/><rect x="504.8" y="432.1" width="14.8" height="14.9" fill="#05050e"/><rect x="405.0" y="446.5" width="14.8" height="14.9" fill="#060707"/><rect x="419.2" y="446.5" width="14.8" height="14.9" fill="#050c11"/><rect x="433.5" y="446.5" width="14.8" height="14.9" fill="#070f18"/><rect x="447.8" y="446.5" width="14.8" height="14.9" fill="#080a10"/><rect x="462.0" y="446.5" width="14.8" height="14.9" fill="#040813"/><rect x="476.2" y="446.5" width="14.8" height="14.9" fill="#090911"/><rect x="490.5" y="446.5" width="14.8" height="14.9" fill="#080913"/><rect x="504.8" y="446.5" width="14.8" height="14.9" fill="#09090e"/><rect x="405.0" y="460.9" width="14.8" height="14.9" fill="#07111b"/><rect x="419.2" y="460.9" width="14.8" height="14.9" fill="#08121c"/><rect x="433.5" y="460.9" width="14.8" height="14.9" fill="#08101e"/><rect x="447.8" y="460.9" width="14.8" height="14.9" fill="#080b11"/><rect x="462.0" y="460.9" width="14.8" height="14.9" fill="#090607"/><rect x="476.2" y="460.9" width="14.8" height="14.9" fill="#08090e"/><rect x="490.5" y="460.9" width="14.8" height="14.9" fill="#09090e"/><rect x="504.8" y="460.9" width="14.8" height="14.9" fill="#0c0c0e"/><rect x="405.0" y="475.2" width="14.8" height="14.9" fill="#080f1e"/><rect x="419.2" y="475.2" width="14.8" height="14.9" fill="#07111b"/><rect x="433.5" y="475.2" width="14.8" height="14.9" fill="#080f0d"/><rect x="447.8" y="475.2" width="14.8" height="14.9" fill="#0d0c03"/><rect x="462.0" y="475.2" width="14.8" height="14.9" fill="#09090e"/><rect x="476.2" y="475.2" width="14.8" height="14.9" fill="#08080c"/><rect x="490.5" y="475.2" width="14.8" height="14.9" fill="#09090e"/><rect x="504.8" y="475.2" width="14.8" height="14.9" fill="#060b0f"/><rect x="405.0" y="489.6" width="14.8" height="14.9" fill="#060b0f"/><rect x="419.2" y="489.6" width="14.8" height="14.9" fill="#080707"/><rect x="433.5" y="489.6" width="14.8" height="14.9" fill="#0b0a08"/><rect x="447.8" y="489.6" width="14.8" height="14.9" fill="#0a0902"/><rect x="462.0" y="489.6" width="14.8" height="14.9" fill="#080707"/><rect x="476.2" y="489.6" width="14.8" height="14.9" fill="#070711"/><rect x="490.5" y="489.6" width="14.8" height="14.9" fill="#06080e"/><rect x="504.8" y="489.6" width="14.8" height="14.9" fill="#0c0a03"/></g><g filter="url(#bl)">
<path d="M313 275l-0 0M395 288l-0 0M366 299l-0 0M388 325l0 0M389 334l-1 1M293 339l-0 0M398 339l-1 0M380 359l1 0M382 383l-0 1M399 388l-0 0" stroke="#e67823" stroke-width="3.2" stroke-linecap="round" stroke-linejoin="round" fill="none"/>
<path d="M344 284l0 0M377 300l-0 1M293 314l1 0M355 321l-0 0M343 322l0 0M321 332l-0 0M368 332l-0 1M360 341l-0 0M343 343l-0 0M305 349l-0 0M384 356l0 0M348 384l0 0M384 387l-1 0M311 418l-1 0M328 434l-0 0M320 484l0 0M308 496l-0 1M356 496l-0 0M296 504l-1 1" stroke="#968c28" stroke-width="3.2" stroke-linecap="round" stroke-linejoin="round" fill="none"/>
<path d="M391 284l-0 0M387 292l-0 0M361 310l0 0M375 312l0 0M390 338l-0 0" stroke="#d73228" stroke-width="3.2" stroke-linecap="round" stroke-linejoin="round" fill="none"/>
<path d="M295 305l-1 0M318 361l-0 0M326 365l1 1M400 438l0 1" stroke="#ebebeb" stroke-width="3.2" stroke-linecap="round" stroke-linejoin="round" fill="none"/>
<path d="M297 305l0 0M329 322l-0 0M343 329l0 0M373 331l0 0M339 334l0 1M344 334l-0 1M337 341l1 0M296 345l1 0M380 346l-0 0M322 385l-0 0M359 385l0 0M315 404l0 1M323 412l-0 0M352 422l0 1M359 439l-0 0M367 438l-1 0M340 483l-0 1" stroke="#e1d237" stroke-width="3.2" stroke-linecap="round" stroke-linejoin="round" fill="none"/>
<path d="M296 316l-0 1M320 355l1 0M376 355l-0 1M309 360l0 0M305 366l0 0M317 482l1 0" stroke="#783caa" stroke-width="3.2" stroke-linecap="round" stroke-linejoin="round" fill="none"/>
<path d="M362 332l1 1" stroke="#e196e1" stroke-width="3.2" stroke-linecap="round" stroke-linejoin="round" fill="none"/>
<path d="M292 276l0 1M297 277l-0 0M341 276l-0 0M348 277l0 0M371 274l0 0M372 276l-1 0M380 276l1 0M384 276l-1 0M299 280l-0 0M333 280l0 1M338 281l0 1M359 278l-0 1M387 280l0 0M391 278l-0 0M301 282l-0 1M333 281l-0 0M339 282l-0 1M372 282l0 1M378 284l-0 0M383 281l-1 1M401 282l-1 1M293 287l-0 1M294 287l0 0M315 286l0 0M343 285l0 0M356 286l1 1M362 287l1 0M380 285l1 0M382 287l0 0M403 286l0 0M345 288l-1 0M349 291l0 0M353 289l0 0M363 288l-0 1M368 290l-1 0M313 293l0 0M345 293l-0 0M370 292l-0 1M378 292l0 0M393 293l-0 0M327 295l0 0M345 298l-0 0M350 298l1 1M357 297l-0 0M381 297l-0 0M389 297l0 0M396 298l0 1M404 296l-1 0M331 299l-0 1M359 299l0 0M370 301l0 0M374 299l-1 0M383 299l1 0M394 298l0 1M309 302l-0 0M319 303l-0 0M362 303l0 0M365 302l0 0M380 304l0 1M388 304l-1 0M401 304l-0 0M311 308l-0 0M361 307l0 0M367 306l-0 0M393 305l-0 0M347 309l0 1M358 311l0 1M369 309l1 0M373 310l-1 0M376 309l0 1M379 308l1 0M311 311l0 0M355 314l0 0M361 312l-0 1M365 314l0 1M370 312l0 0M391 315l-0 0M394 313l1 0M398 312l-0 0M403 312l-0 0M325 316l0 1M354 317l-0 0M361 316l0 0M367 316l0 0M381 316l0 0M398 317l0 0M313 321l0 1M345 319l-0 0M365 320l0 0M389 320l-1 1M313 325l0 0M347 325l-1 0M362 324l-0 0M375 323l1 0M398 323l0 0M400 325l0 0M319 327l0 0M352 328l-0 0M365 328l1 0M369 326l-0 1M373 328l-0 0M386 327l-1 0M390 328l0 1M394 326l0 1M396 327l0 1M309 330l0 0M362 330l-0 0M393 331l0 0M405 329l-1 0M396 332l-0 0M394 339l-0 0M306 344l0 0M381 342l0 0M389 345l0 1M384 345l1 1M388 346l-0 0M398 346l0 0M401 348l-0 1M394 349l-0 0M399 352l0 0M383 356l-1 0M387 359l0 0M393 356l-0 0M392 361l-0 0M396 361l-0 1M369 363l0 0M389 363l-0 1M397 365l1 0M370 367l0 0M375 368l0 1M378 370l-1 1M383 371l-0 0M387 370l0 1M399 369l-0 0M379 374l-0 0M398 376l0 0M404 374l0 1M401 377l-0 0M370 381l-0 0M381 379l-0 0M401 383l-1 0M390 385l-1 0M400 385l0 1M402 384l-0 0M373 387l-1 0M386 387l1 0" stroke="#e67823" stroke-width="3.7" stroke-linecap="round" stroke-linejoin="round" fill="none"/>
<path d="M306 276l0 0M310 277l0 0M328 275l-1 1M333 274l1 0M295 277l0 0M325 279l0 0M331 279l1 0M335 280l-0 0M343 279l-0 0M336 284l-0 0M311 286l0 1M322 285l-0 0M327 286l-1 0M298 291l-0 0M306 291l-0 0M317 290l0 0M340 289l-0 0M290 292l-1 0M323 292l-0 0M360 294l-0 0M291 294l0 0M371 297l-0 0M310 298l0 0M318 299l1 0M323 300l0 0M348 300l0 0M353 299l0 0M356 298l1 0M296 303l0 0M299 303l0 1M338 304l-0 0M355 301l-0 0M370 302l0 0M291 306l1 1M308 308l0 0M315 305l0 0M318 305l0 0M354 307l-1 0M296 310l0 0M304 311l-0 0M306 310l-0 1M326 311l0 0M333 310l0 0M366 310l0 0M309 314l-0 0M314 313l-0 0M339 311l-0 1M341 313l0 1M347 314l-0 0M351 314l0 1M311 317l1 0M319 317l0 1M339 316l1 0M341 317l1 0M376 318l0 0M294 319l0 0M307 321l0 1M327 321l1 0M364 321l0 0M291 323l0 1M306 322l-0 1M339 323l-0 0M367 325l0 0M315 327l0 0M324 328l-0 0M342 328l1 1M351 326l-0 0M359 327l0 0M379 327l-0 1M311 329l0 1M317 330l-0 1M330 329l0 0M338 331l-0 0M357 330l-1 0M366 332l1 1M299 333l0 0M337 334l-0 0M349 332l0 1M354 332l-0 0M379 334l0 0M301 336l0 0M321 338l-1 0M335 335l-0 0M373 337l-0 0M376 336l-1 0M312 342l-1 1M352 339l-1 0M367 341l1 0M370 341l-0 0M372 339l-1 0M322 344l-0 0M332 344l0 0M347 345l-0 0M367 343l-0 1M377 345l0 0M384 344l-0 1M291 347l0 0M310 348l-0 0M316 347l0 1M323 346l-0 1M328 348l-0 0M349 349l-0 0M368 347l-1 0M370 346l1 0M299 350l-0 0M353 351l-0 0M380 349l-0 0M359 355l-0 0M367 352l0 0M358 358l-1 0M358 362l-0 0M365 361l-0 0M365 360l1 0M375 361l0 0M380 360l0 1M377 363l0 0M380 364l0 0M357 366l0 1M373 367l-1 0M380 367l0 1M383 368l-0 0M333 370l0 1M352 373l0 0M363 369l0 0M380 372l-0 1M330 376l1 0M332 376l0 0M338 376l1 0M385 375l0 1M327 379l-0 0M330 376l-1 0M333 379l1 0M341 379l-0 0M351 377l-0 0M366 377l0 0M379 378l1 0M385 379l0 0M329 382l-0 0M361 382l1 0M382 381l-0 0M330 385l-0 0M348 385l-0 0M356 384l1 0M363 385l0 1M379 383l1 1M322 387l0 0M332 388l-0 0M340 387l-1 0M342 389l0 0M345 387l-0 1M348 387l0 0M357 387l0 0M379 387l0 0M305 430l-0 0M314 431l1 0M325 432l-0 0M321 439l0 0M329 438l0 1M319 442l0 0M327 442l0 0M330 443l0 0M309 447l-0 1M320 446l0 0M331 445l-0 0M333 448l1 0M367 448l0 0M326 453l-0 1M333 450l-1 0M363 452l0 1M329 457l0 0M335 456l0 1M342 456l1 0M319 458l-0 0M329 459l-0 0M340 458l-0 0M367 471l-0 0M328 476l0 0M291 479l-0 0M294 479l-1 1M303 483l-0 1M297 493l0 0M302 491l-0 0M312 493l0 0M317 492l-1 0M301 502l-1 0M309 502l1 0M315 503l-0 1M348 503l-0 0M350 502l-1 0" stroke="#968c28" stroke-width="3.7" stroke-linecap="round" stroke-linejoin="round" fill="none"/>
<path d="M376 276l-1 0M362 280l-0 0M373 292l0 1M290 356l-1 0M291 364l-0 0M317 373l0 0M316 375l-0 0M361 455l-1 0M397 477l1 0M390 481l0 0M400 482l0 0M404 482l0 0M395 488l-1 0" stroke="#37cd50" stroke-width="3.7" stroke-linecap="round" stroke-linejoin="round" fill="none"/>
<path d="M389 275l-0 1M393 277l-1 0M321 279l-0 0M398 278l-1 1M315 283l0 0M320 286l-0 1M395 285l1 1M396 285l-0 0M400 294l0 0M362 296l-1 1M361 300l0 0M392 300l0 0M330 301l0 0M351 303l1 0M358 304l-0 0M392 310l0 1M355 314l-0 0M389 317l0 0M403 316l-0 1M349 320l0 0M397 319l-0 0M399 321l-0 0M303 323l0 0M353 322l1 0M403 322l0 0M302 327l-0 0M361 330l0 0M388 332l-0 1M394 332l0 0M393 336l0 0M396 336l-0 0M387 342l-1 0M397 343l0 0M363 348l0 0M344 351l0 0M396 354l0 0M400 355l-1 0M304 358l1 0M315 356l0 0M401 358l-1 0M325 361l1 0M346 362l-0 1M384 363l-0 0M307 366l0 1M386 366l1 0M374 392l-0 0M374 396l0 0M371 397l-0 1M362 401l-0 1M378 404l-0 1M380 408l1 0M377 413l0 0M380 424l-0 0M398 425l-0 0M379 430l0 0M318 463l-1 1M306 470l0 0M314 469l-1 0M311 471l-0 0M307 477l-1 0M308 489l-0 0" stroke="#783caa" stroke-width="3.7" stroke-linecap="round" stroke-linejoin="round" fill="none"/>
<path d="M398 277l-0 0M366 281l1 0M395 280l-0 0M402 280l-1 0M402 279l-0 1M329 284l-0 1M396 282l-0 0M330 287l1 0M334 286l0 0M370 286l-0 0M374 288l-0 0M334 288l0 0M359 291l1 0M370 290l-0 0M380 289l0 0M330 293l-1 0M364 292l1 0M391 292l0 1M360 295l0 1M372 297l0 0M376 295l1 0M383 297l0 0M398 298l0 0M348 303l-0 1M389 302l-1 0M384 305l1 0M386 307l-0 0M385 310l-0 0M389 311l1 0M370 322l0 0M401 330l0 0M401 335l-0 0M392 342l-0 0M390 348l0 0M388 363l0 0M401 366l-0 1M394 375l0 1M395 384l-1 0M327 477l0 0M352 476l0 0M322 481l1 0M356 480l-0 0M354 485l-1 1M357 489l-1 0" stroke="#d73228" stroke-width="3.7" stroke-linecap="round" stroke-linejoin="round" fill="none"/>
<path d="M302 294l-0 0M315 294l0 0M325 294l0 0M295 297l-1 0M313 296l-0 0M318 295l-0 0M324 294l-1 0M327 296l0 1M293 299l-1 1M314 299l-0 1M327 298l-0 0M329 298l0 0M335 301l0 1M291 301l0 0M322 304l0 1M341 303l-0 0M326 305l0 1M328 307l-0 0M333 306l-0 0M344 305l0 1M291 309l-0 0M320 310l-0 0M329 311l-1 0M335 313l0 0M381 313l0 1M329 317l0 1M329 318l0 1M331 320l-0 0M340 320l-0 0M361 320l-0 0M371 318l-0 1M380 320l-0 0M384 321l-1 0M332 322l-0 0M336 324l-0 0M326 327l0 1M338 326l-1 0M345 326l0 1M306 331l-0 0M326 331l0 0M350 329l0 0M379 329l0 0M291 333l0 0M311 332l-0 0M317 334l1 0M319 335l1 1M324 335l-0 0M329 335l0 1M342 333l-0 0M298 338l0 0M307 338l-1 1M315 336l-1 0M330 336l-1 0M345 336l-1 0M317 339l-1 0M320 341l1 0M324 341l0 1M327 341l0 0M346 341l-0 0M319 345l0 0M339 344l-0 0M331 347l0 0M334 345l-0 0M340 348l-0 0M321 349l0 0M365 352l-0 0M358 359l0 1M364 357l-1 0M311 376l-1 0M350 376l0 0M368 375l-1 0M351 379l-0 0M361 378l-0 0M364 378l0 0M368 379l-0 0M320 380l0 1M372 385l-0 0M338 391l0 0M336 396l-0 0M339 394l-0 0M342 393l-0 1M341 402l-0 1M307 403l0 0M325 406l0 0M352 404l1 0M311 407l-0 1M324 408l-0 1M330 409l-0 1M357 407l-1 0M361 409l1 1M374 407l0 1M309 412l0 0M354 412l-0 0M306 415l-0 0M308 416l-0 0M326 414l0 1M349 414l-1 1M317 416l0 0M353 417l0 0M369 419l-1 0M347 423l0 1M351 423l-0 1M349 426l-0 1M354 428l-0 0M363 429l-0 0M367 427l1 0M353 436l0 0M364 442l-0 0M352 444l-1 0M321 451l-0 0M334 475l0 0M335 477l-1 0M343 476l-0 1M335 481l0 1M334 489l-0 0" stroke="#e1d237" stroke-width="3.7" stroke-linecap="round" stroke-linejoin="round" fill="none"/>
<path d="M305 298l0 0M306 303l-0 0M294 313l0 1M301 313l1 1M302 316l0 0M297 322l0 0M290 328l-0 0M337 352l-1 1M323 353l0 0M329 354l-0 0M311 358l0 1M327 356l0 0M342 360l-0 0M343 364l-0 0M311 368l-1 0M305 373l0 0M292 411l-0 0M296 410l0 0M291 415l-0 1M390 436l-0 0M397 434l-0 1M396 439l1 0M405 443l0 1" stroke="#ebebeb" stroke-width="3.7" stroke-linecap="round" stroke-linejoin="round" fill="none"/>
<path d="M291 315l0 0M308 323l0 0M294 329l-0 0M330 341l-0 0M339 340l1 0M356 342l-0 0M330 344l-0 1M353 344l0 1M358 346l-0 1M309 350l1 0M331 349l-0 0M340 350l0 0M338 356l-1 1M336 357l-0 0M330 362l-0 0M335 359l1 0M316 364l0 0M320 366l-1 0M329 364l0 1M332 364l-1 0M340 365l-0 0M346 369l-0 0M296 406l-0 1M300 407l1 0" stroke="#e196e1" stroke-width="3.7" stroke-linecap="round" stroke-linejoin="round" fill="none"/>
<path d="M298 384l1 0M325 386l0 0" stroke="#4bcdd2" stroke-width="3.795" stroke-linecap="round" stroke-linejoin="round" fill="none"/>
<path d="M317 403l0 0M356 450l-0 1M340 498l0 0" stroke="#238ca0" stroke-width="3.795" stroke-linecap="round" stroke-linejoin="round" fill="none"/>
<path d="M386 276l-0 0M400 276l1 1M312 279l-0 0M372 278l-0 0M375 285l-0 0M388 285l0 0M390 286l1 1M330 289l-0 0M372 290l-0 0M384 289l0 0M404 291l0 1M396 291l-0 0M317 297l0 1M343 296l-0 0M314 301l0 1M401 300l-0 0M315 303l1 0M378 302l-0 0M372 305l-0 1M399 306l1 0M336 309l-0 0M323 314l0 0M400 313l0 0M323 317l-0 1M348 315l1 0M364 315l0 0M385 315l-0 0M314 321l-0 0M336 320l-1 0M403 321l0 0M360 324l-1 0M328 327l0 0M338 325l1 0M290 338l1 0M293 349l0 0M386 354l0 0M391 352l1 0M388 360l-1 0M390 369l-0 0M400 368l-0 0M388 383l-1 0" stroke="#e67823" stroke-width="4.2" stroke-linecap="round" stroke-linejoin="round" fill="none"/>
<path d="M317 280l1 1M335 305l-1 1M349 305l-0 0M298 311l0 0M317 308l-0 0M297 315l0 1M334 316l0 0M352 319l-1 0M365 327l-0 1M302 330l0 1M318 328l0 0M324 331l0 0M332 332l-0 0M302 335l0 0M308 335l0 1M359 332l0 1M385 332l0 1M339 337l1 0M361 337l-0 0M296 341l0 0M311 344l0 0M355 342l-1 0M302 346l-1 1M318 347l-0 0M318 349l-1 0M373 359l0 0M384 361l1 0M375 364l1 0M362 369l0 0M328 371l0 0M355 375l-0 1M346 381l-0 0M316 385l0 0M369 386l-0 1M307 422l0 0M309 429l-0 0M332 440l0 1M305 458l-0 0M322 463l0 0M302 475l-0 0M302 481l-0 1M300 482l0 0M295 486l-0 0M309 491l-0 0" stroke="#968c28" stroke-width="4.2" stroke-linecap="round" stroke-linejoin="round" fill="none"/>
<path d="M332 293l-0 0M326 303l0 0M321 311l-0 0M346 318l-1 0M375 315l-0 0M377 320l-1 0M319 323l0 0M357 328l0 0M383 328l0 0M368 332l-1 0M326 338l-0 1M299 342l0 0M291 343l-1 1M324 343l0 1M325 348l0 0M293 349l-0 0M354 381l0 1M355 381l0 0M349 404l-0 1M361 413l-1 0M369 412l0 1M366 415l-0 0M357 419l0 0M373 418l-0 0M356 425l-0 0M354 440l0 0M326 457l-0 0" stroke="#e1d237" stroke-width="4.2" stroke-linecap="round" stroke-linejoin="round" fill="none"/>
<path d="M353 295l-1 0M349 299l-1 0M381 299l-0 0M381 306l-0 0M349 309l0 0M403 308l0 0M386 312l-0 0M369 317l1 0M403 381l0 0M359 479l-1 0" stroke="#d73228" stroke-width="4.2" stroke-linecap="round" stroke-linejoin="round" fill="none"/>
<path d="M347 304l-1 0M363 308l0 0M392 310l0 0M357 317l-0 0M304 318l0 0M347 330l0 0M359 344l-0 1M376 351l-0 1M398 351l-1 0M314 354l0 0M309 357l0 0M399 360l-1 0M405 360l-1 1M311 363l-1 0M297 368l0 0M388 409l1 0M382 411l0 1M307 467l0 0M305 477l-1 0M309 482l0 1M313 485l0 0" stroke="#783caa" stroke-width="4.2" stroke-linecap="round" stroke-linejoin="round" fill="none"/>
<path d="M293 328l-0 1" stroke="#ebebeb" stroke-width="4.2" stroke-linecap="round" stroke-linejoin="round" fill="none"/>
<path d="M336 344l-0 0M350 343l-0 0M346 346l0 0M314 350l0 0M334 357l0 0M333 360l-1 1M322 364l-0 1M333 366l-0 1M341 369l-0 0" stroke="#e196e1" stroke-width="4.2" stroke-linecap="round" stroke-linejoin="round" fill="none"/>
<path d="M292 366l1 0M326 384l-0 0M394 487l-0 1" stroke="#37cd50" stroke-width="4.2" stroke-linecap="round" stroke-linejoin="round" fill="none"/>
<path d="M402 317l-1 0M386 319l0 1M392 319l0 0M398 330l-0 0M307 353l0 0M299 356l0 0M295 366l-0 0M298 377l-0 0M301 377l1 0M292 390l-0 0M305 389l1 0M318 389l-1 0M331 392l1 0M335 390l-0 0M290 394l-1 0M297 393l1 0M302 395l0 0M319 393l0 1M323 396l-0 0M349 394l-0 1M354 393l-0 0M302 398l0 1M305 397l-1 1M317 396l-1 0M290 400l0 0M304 402l1 0M315 401l0 0M328 400l0 0M349 401l0 0M335 403l0 0M350 409l-0 0M326 412l1 0M336 410l-0 1M339 410l0 0M343 410l-1 1M346 412l-0 0M351 410l1 1M357 412l-1 0M321 413l0 0M330 415l-0 1M331 414l0 1M354 415l-0 0M356 414l0 0M338 419l0 0M342 417l-0 0M347 418l-0 0M348 417l0 1M350 422l1 0M330 426l0 0M339 424l-0 0M343 425l1 0M344 428l0 0M315 432l0 0M328 431l-0 0M334 432l0 0M335 430l1 0M348 431l1 0M387 433l0 0M325 434l-0 0M382 434l-1 0M303 437l-1 0M379 438l-0 0M386 439l0 0M311 443l-1 0M331 440l-0 1M292 446l-1 0M301 444l0 0M343 443l-0 1M388 446l0 0M398 451l1 1M302 457l-0 0M354 456l-1 0M399 455l-0 0M355 458l-1 0M361 459l-1 0M404 460l-0 0M402 467l0 0M393 469l0 0M396 468l-1 0M392 477l-0 0M402 476l0 0M393 479l0 0M399 482l-0 0M342 491l-0 0" stroke="#238ca0" stroke-width="4.295" stroke-linecap="round" stroke-linejoin="round" fill="none"/>
<path d="M291 370l0 0M326 371l-1 0M296 376l0 0M309 377l0 0M291 380l-0 0M296 380l1 0M305 383l0 1M320 383l-0 0M342 407l0 0M335 414l0 0M343 415l0 0M341 420l-0 1M336 427l-0 1M346 430l0 1M345 432l0 0M292 434l-1 0M297 436l0 0M299 436l0 0M300 436l-0 0M309 437l1 0M313 436l0 0M317 435l0 0M290 437l0 0M296 438l-0 0M308 438l1 1M312 437l-0 0M315 437l0 1M291 442l-0 0M295 443l0 0M298 442l-0 0M301 442l0 0M305 443l-0 0M309 441l-0 0M315 443l1 1M298 445l0 1M317 444l-1 0M292 447l1 0M295 449l-0 1M300 450l-0 0M303 448l0 0M310 448l-0 1M313 449l-1 0M318 447l0 0M294 452l-0 0M303 451l1 0M305 453l0 0M307 451l-0 0M313 451l-0 0M316 451l-0 0M291 454l-1 0M294 454l-0 0M299 456l-0 0M315 454l-0 0M318 455l0 0M290 459l0 0M296 460l0 0M302 459l0 1M308 457l-0 0M303 461l-0 0" stroke="#4bcdd2" stroke-width="4.295" stroke-linecap="round" stroke-linejoin="round" fill="none"/>
<path d="M300 364l-1 0M343 390l-0 0M304 402l0 0M342 405l-0 0M361 403l0 0M335 409l-0 0M354 409l0 0M331 422l-0 1M346 422l-0 1M319 426l0 1M326 427l-0 0M356 428l1 0M339 431l0 1M321 434l0 0M306 437l-0 1M346 439l-1 0M378 441l0 0M305 446l-1 1M299 459l-0 0M400 463l0 1M391 479l0 1M335 504l0 0" stroke="#238ca0" stroke-width="4.795" stroke-linecap="round" stroke-linejoin="round" fill="none"/>
<path d="M307 378l-0 1M313 381l-0 1M293 385l0 0M346 408l1 0M334 419l1 0M317 435l-1 0M294 445l0 1M317 447l-1 0M292 453l-1 0M299 450l1 0M318 453l1 0M304 457l-0 1M313 457l-0 1M339 469l-0 1" stroke="#4bcdd2" stroke-width="4.795" stroke-linecap="round" stroke-linejoin="round" fill="none"/>
<path d="M411 278l-1 0M425 277l-1 1M413 288l-0 0M501 299l0 0M448 305l-0 1M443 316l0 1M427 319l-1 0M442 320l1 1M445 326l1 0M455 329l-1 0M436 331l-1 0M462 331l-1 0M435 336l1 0M428 362l0 1M433 361l1 1M420 365l0 0M434 370l1 0M442 372l0 0M454 377l1 0M458 377l-1 1M444 381l-0 1M454 383l1 0M494 419l1 0M503 422l-0 0M497 444l-0 0M418 452l-1 1M483 451l-1 0M515 450l-1 1M412 456l0 1M485 456l-1 0M452 460l0 0M499 461l-1 1M466 465l0 0M482 466l-1 1M494 473l1 0M501 472l-1 0M440 478l0 0M451 478l0 1M487 475l0 0M495 477l-1 1M499 479l-1 0M520 476l0 1M457 479l0 1M502 479l-0 0M513 480l1 1M462 487l0 0M479 487l-0 0M486 487l0 0M497 488l0 1M503 486l0 0M421 491l1 0M436 491l-1 1M465 491l0 0M409 495l-0 0M421 497l-0 1M441 498l1 1M446 498l-0 1M470 494l0 0M489 498l1 0M426 504l1 0M514 504l-0 1M517 502l-1 0" stroke="#968c28" stroke-width="6.8" stroke-linecap="round" stroke-linejoin="round" fill="none"/>
<path d="M431 277l1 1M448 277l1 0M495 276l1 0M498 275l1 1M513 279l-0 1M421 283l0 0M477 282l1 0M492 282l-0 0M498 284l0 0M432 284l1 0M445 289l0 0M499 284l0 0M518 286l-0 0M423 289l-1 0M502 289l0 1M514 292l-0 0M515 296l-0 1M439 300l0 0M485 301l1 1M487 302l-0 0M516 304l-1 0M413 306l1 0M423 306l0 0M427 308l0 0M515 308l-0 0M415 313l0 1M416 313l0 0M437 311l-0 0M445 309l0 0M517 314l1 0M405 315l-1 0M415 319l0 1M454 319l-0 0M465 317l-1 1M477 314l-1 1M494 318l-0 0M453 321l0 0M476 322l-0 1M415 326l0 0M437 326l0 1M475 326l-0 0M421 338l1 1M506 334l0 0M518 337l-1 0M423 339l-0 0M495 342l-1 0M453 345l-1 0M410 353l0 0M405 356l0 1M438 355l1 1M512 364l-1 0M519 364l-0 0M507 369l1 0M505 373l1 0M517 383l-0 0M509 388l0 1M514 493l1 0M518 495l1 1M507 502l-1 1" stroke="#e67823" stroke-width="6.8" stroke-linecap="round" stroke-linejoin="round" fill="none"/>
<path d="M437 278l0 0M496 348l-0 0M456 355l1 1M482 358l0 0M409 361l1 1M450 364l1 0M489 363l0 0M503 359l0 0M409 367l0 1M454 387l0 1M510 397l0 1M517 401l-0 1M412 405l-0 1M417 412l0 1M407 423l1 1M416 432l1 1M416 435l-0 0M415 439l-0 0" stroke="#e196e1" stroke-width="6.8" stroke-linecap="round" stroke-linejoin="round" fill="none"/>
<path d="M510 284l-0 1M493 285l0 1M466 305l-1 0M474 306l1 1M433 314l-1 1M422 316l-1 0M482 315l0 1M481 322l1 0M480 326l1 1M486 328l1 0M480 331l-1 1M488 334l-0 0M477 335l-1 1M494 342l-0 1M504 340l1 1M509 353l-1 1M511 350l-1 1M497 356l-0 1M484 373l-1 0M505 381l-1 0M511 387l-0 0M498 445l0 1" stroke="#d73228" stroke-width="6.8" stroke-linecap="round" stroke-linejoin="round" fill="none"/>
<path d="M406 294l-0 0M423 322l-0 0M467 344l-0 0M475 351l-1 0M440 367l1 0M472 368l-1 0M416 374l-0 0M431 376l0 0M414 381l-1 0M424 383l-1 0M477 381l0 0M481 381l0 1M414 388l-1 1M416 385l-1 1M426 386l0 1M431 384l0 1M460 389l0 0M462 388l0 1M466 388l0 0M474 386l-0 0M422 393l-1 1M427 394l0 0M421 407l-1 1M479 406l-0 0M497 408l1 1M508 408l-0 0M513 408l-1 1M424 411l-0 0M431 412l-0 1M436 413l1 1M447 411l1 0M503 415l1 0M515 418l0 0M422 421l0 1M479 421l-1 1M429 428l-0 0M486 430l-0 0M420 435l1 0M513 470l-0 0M451 482l-0 1M452 486l0 0M455 492l-0 1" stroke="#e1d237" stroke-width="6.8" stroke-linecap="round" stroke-linejoin="round" fill="none"/>
<path d="M519 294l1 0M457 332l-0 1M459 347l-1 0M461 362l-0 0" stroke="#783caa" stroke-width="6.8" stroke-linecap="round" stroke-linejoin="round" fill="none"/>
<path d="M507 304l0 0M477 361l0 0M412 423l0 1M436 421l-1 1M434 430l0 0" stroke="#ebebeb" stroke-width="6.8" stroke-linecap="round" stroke-linejoin="round" fill="none"/>
<path d="M519 346l0 0M413 427l0 0M407 431l-1 0M512 477l0 0M510 484l0 0M511 487l1 0M411 497l-1 1" stroke="#37cd50" stroke-width="6.8" stroke-linecap="round" stroke-linejoin="round" fill="none"/>
<path d="M503 278l0 0M424 289l-1 1M506 286l-1 1M477 291l0 1M488 290l0 1M426 298l-0 1M418 308l0 0M431 305l1 0M467 314l-0 0M477 311l1 1M486 311l-0 0M495 315l0 1M487 320l-0 1M475 328l-1 0M490 335l-1 1M503 336l1 0M495 367l1 1M510 379l1 1M405 441l1 0M502 446l1 0" stroke="#d73228" stroke-width="7.3" stroke-linecap="round" stroke-linejoin="round" fill="none"/>
<path d="M415 281l1 0M433 281l0 1M502 294l-1 0M412 302l0 0M462 322l0 0M424 367l1 0M421 372l-1 0M447 372l-0 0M449 376l1 0M474 389l-1 0M515 436l-1 1M413 449l0 0M481 448l0 0M458 453l0 0M487 451l0 0M484 462l0 0M461 467l-1 0M472 465l-1 0M460 472l0 0M484 471l1 0M480 476l-0 0M440 484l-1 1M449 482l-0 1M473 483l-0 1M476 481l1 1M458 486l-0 0M467 485l0 1M481 487l-0 1M416 490l0 0M432 492l-0 0M509 491l-0 0M452 494l-0 0M421 504l-0 0M454 499l-1 0M455 500l-0 0" stroke="#968c28" stroke-width="7.3" stroke-linecap="round" stroke-linejoin="round" fill="none"/>
<path d="M512 284l1 1M511 285l1 1M433 293l0 1M437 293l-0 0M442 291l1 0M497 293l-1 0M505 290l-0 1M458 303l0 0M491 300l0 1M500 303l1 0M482 309l-0 0M462 313l-0 1M481 310l1 0M510 312l-1 0M413 319l0 0M455 316l-1 1M471 315l0 1M410 322l-0 0M473 320l0 0M416 333l0 0M434 331l1 0M505 332l0 0M429 334l-0 1M451 337l0 0M494 337l1 0M514 336l-0 1M450 341l-0 1M416 346l-1 0M410 356l-1 1M417 357l0 0M425 356l-0 1M431 358l0 0M438 359l1 1M500 365l0 0M501 365l0 0M500 373l1 1M508 379l1 1M518 377l-1 0M510 496l-0 0" stroke="#e67823" stroke-width="7.3" stroke-linecap="round" stroke-linejoin="round" fill="none"/>
<path d="M410 285l0 0M405 331l-0 1M413 333l0 0M467 336l1 0M473 340l-0 1M409 345l0 0M444 360l0 1M436 368l0 0M427 377l1 0M478 379l-0 0M406 381l-0 0M430 383l-0 1M423 385l1 0M470 403l0 0M475 399l-0 0M501 404l1 0M443 409l1 0M447 404l-0 1M499 410l0 0M427 416l-0 0M437 415l-1 1M509 417l-1 1M429 424l0 0M432 421l0 0M424 425l-0 0M431 426l-1 0M443 427l0 0M477 424l0 0M481 434l-1 0M477 436l0 0M480 438l-1 1M424 439l-1 1M428 441l0 0M482 441l0 0M516 464l-0 1M508 471l1 1M462 504l0 0" stroke="#e1d237" stroke-width="7.3" stroke-linecap="round" stroke-linejoin="round" fill="none"/>
<path d="M452 296l-0 0M492 324l0 0M418 420l-1 1M420 432l0 1M439 439l0 1" stroke="#37cd50" stroke-width="7.3" stroke-linecap="round" stroke-linejoin="round" fill="none"/>
<path d="M511 321l-1 0M458 336l1 1M489 347l1 0M457 352l-1 1M460 354l0 0M448 357l-1 1M461 356l-0 0M488 357l0 1M450 365l0 1" stroke="#783caa" stroke-width="7.3" stroke-linecap="round" stroke-linejoin="round" fill="none"/>
<path d="M493 350l1 1M498 350l0 0M494 357l0 1M490 361l-0 0M485 364l0 0M479 370l1 1M489 371l0 0M457 382l1 0M461 383l0 1M513 397l1 0M512 401l0 0M416 425l-1 1" stroke="#e196e1" stroke-width="7.3" stroke-linecap="round" stroke-linejoin="round" fill="none"/>
<path d="M489 366l-1 0M415 411l-0 0M445 423l-0 1" stroke="#ebebeb" stroke-width="7.3" stroke-linecap="round" stroke-linejoin="round" fill="none"/>
<path d="M514 348l1 0M454 391l0 0M465 412l1 1M459 416l-0 1M466 417l-1 1M474 415l0 0M517 432l1 1M431 448l1 0M438 449l-0 0M445 450l0 0M420 459l1 1M414 462l-1 1M436 465l1 1M449 466l1 0M413 472l0 0M422 470l1 0M426 473l-1 0M440 470l-1 1M447 474l1 0M429 478l-0 1M434 478l0 0M409 481l0 0M415 482l0 1M421 480l0 1M426 483l0 0M433 483l-0 0M442 482l0 1M412 486l0 0M434 488l0 0M440 487l1 0M440 488l-1 0" stroke="#4bcdd2" stroke-width="8.129999999999999" stroke-linecap="round" stroke-linejoin="round" fill="none"/>
<path d="M484 390l1 1M501 394l0 0M452 395l1 1M498 397l0 0M504 395l1 0M434 403l1 0M447 401l-0 0M498 402l0 1M425 407l0 1M466 409l1 1M472 406l-0 0M484 405l0 0M493 405l0 1M463 409l1 0M476 414l-1 0M482 414l1 0M494 413l-0 0M425 416l0 1M433 417l-0 1M449 415l-1 0M495 415l0 0M452 424l0 0M465 432l-0 1M468 432l0 0M474 433l0 0M453 434l-0 0M455 446l-0 0M471 450l1 1M494 454l-0 0M475 460l-0 1M487 462l-1 0M486 472l0 0M410 488l-1 1M416 485l0 0M494 491l-0 0" stroke="#238ca0" stroke-width="8.129999999999999" stroke-linecap="round" stroke-linejoin="round" fill="none"/>
<path d="M515 357l-0 0M515 358l-0 0M457 405l0 0M457 412l-1 0M515 419l-0 0M519 425l-0 0M440 447l0 1M426 451l0 1M439 451l0 1M426 458l-1 1M427 459l-0 1M411 468l-1 0M418 467l-1 0M422 465l-1 1M443 466l1 1M408 474l0 1M416 471l-0 0M433 469l-0 1M440 471l0 0M422 488l1 1M428 488l0 0M440 489l0 1" stroke="#4bcdd2" stroke-width="8.629999999999999" stroke-linecap="round" stroke-linejoin="round" fill="none"/>
<path d="M461 390l-0 0M485 394l0 0M496 393l-1 0M437 396l0 0M446 398l-1 1M491 395l-1 0M454 402l0 0M460 403l-0 0M470 413l0 1M488 410l0 0M505 413l0 1M443 417l0 0M462 415l-0 0M476 417l0 0M489 417l-1 0M470 423l1 1M454 428l-1 0M469 428l0 0M473 427l-0 0M453 433l-0 1M459 434l0 1M470 441l-1 1M468 448l-0 0M469 460l-0 0M412 478l-1 1M496 496l-0 0M493 505l0 0" stroke="#238ca0" stroke-width="8.629999999999999" stroke-linecap="round" stroke-linejoin="round" fill="none"/>
<path d="M321 274h0M348 280h0M352 280h0M377 278h0M363 282h0M365 292h0M332 304h0M374 303h0M363 311h0M329 315h0M308 328h0M390 331h0M333 336h0M380 338h0M375 340h0M371 344h0M351 347h0M403 346h0M387 349h0M352 357h0M350 367h0M340 372h0M399 371h0M290 374h0M323 374h0M342 373h0M315 379h0M338 380h0M389 383h0M338 384h0M354 385h0M337 387h0M313 391h0M370 390h0M394 392h0M365 397h0M366 399h0M372 400h0M399 402h0M302 406h0M315 406h0M384 408h0M312 412h0M364 411h0M374 411h0M363 415h0M379 415h0M291 417h0M334 417h0M293 421h0M317 420h0M375 426h0M382 428h0M345 436h0M350 435h0M391 441h0M396 441h0M333 445h0M365 444h0M322 448h0M404 450h0M359 451h0M395 464h0M339 466h0M342 469h0M400 470h0M398 472h0M347 481h0M394 481h0M378 485h0M352 497h0M385 499h0M394 498h0" stroke="#17124d" stroke-width="1.5" stroke-linecap="round" stroke-linejoin="round" fill="none"/>
<path d="M384 401h0M337 423h0M385 420h0M385 459h0M327 463h0M328 470h0M324 473h0M291 476h0M321 474h0M290 491h0M319 494h0M326 494h0M311 503h0" stroke="#2c2cc0" stroke-width="1.5" stroke-linecap="round" stroke-linejoin="round" fill="none"/>
<path d="M367 276h0M307 284h0M395 284h0M382 291h0M383 302h0M322 306h0M348 307h0M361 311h0M377 315h0M382 312h0M343 321h0M323 325h0M375 322h0M395 322h0M401 327h0M376 335h0M382 337h0M320 357h0M361 365h0M395 372h0M346 378h0M313 387h0M309 394h0M360 395h0M362 395h0M400 393h0M298 397h0M395 399h0M335 400h0M368 404h0M296 407h0M364 409h0M396 409h0M390 412h0M295 413h0M298 416h0M291 428h0M352 433h0M362 434h0M381 435h0M370 443h0M401 441h0M324 446h0M347 444h0M391 461h0M337 466h0M371 466h0M373 464h0M351 470h0M351 474h0M401 473h0M365 475h0M353 484h0M327 492h0M360 496h0M332 498h0M353 499h0" stroke="#17124d" stroke-width="2.0" stroke-linecap="round" stroke-linejoin="round" fill="none"/>
<path d="M474 275h0M425 401h0" stroke="#221a6e" stroke-width="2.0" stroke-linecap="round" stroke-linejoin="round" fill="none"/>
<path d="M423 328h0M502 328h0M485 340h0M453 355h0M486 377h0M454 412h0M454 415h0M432 443h0M455 445h0M476 451h0M432 498h0M439 496h0M480 499h0" stroke="#2828af" stroke-width="2.0" stroke-linecap="round" stroke-linejoin="round" fill="none"/>
<path d="M402 425h0M403 436h0M324 486h0M296 499h0" stroke="#2c2cc0" stroke-width="2.0" stroke-linecap="round" stroke-linejoin="round" fill="none"/>
<path d="M292 279l-0 0M315 322l0 0M355 323l0 1M385 339l-0 0M298 356l-0 0M302 362l-0 0M317 369l0 0M309 371l-0 1M391 371l1 0M334 375l-0 0M385 392l1 0M404 391l0 1M332 393l0 1M382 397l0 0M388 402l-0 0M328 405l-0 0M380 404l-1 0M386 417l-0 0M300 430l-0 0M376 431l-0 0M337 434l-0 1M327 445l-0 0M341 454l0 0M346 466l-0 0M378 467l0 0M319 490l1 0M400 490l-0 0" stroke="#17124d" stroke-width="2.5" stroke-linecap="round" stroke-linejoin="round" fill="none"/>
<path d="M470 288h0M490 285h0M468 290h0M470 292h0M471 302h0M476 391h0M415 417h0M417 448h0M407 453h0M419 460h0" stroke="#221a6e" stroke-width="2.5" stroke-linecap="round" stroke-linejoin="round" fill="none"/>
<path d="M412 289h0M445 297h0M446 301h0M421 313h0M438 316h0M431 326h0M440 338h0M444 336h0M452 373h0M480 387h0M520 405h0M447 428h0M458 428h0M491 434h0M465 435h0M495 439h0M469 444h0M435 454h0M510 459h0M499 469h0M453 470h0M503 476h0M507 484h0M473 490h0M487 493h0M500 489h0M473 495h0M475 495h0M409 500h0" stroke="#2828af" stroke-width="2.5" stroke-linecap="round" stroke-linejoin="round" fill="none"/>
<path d="M299 468l-0 0M367 479l-1 0M291 481l1 0M290 487l-1 0" stroke="#2c2cc0" stroke-width="2.5" stroke-linecap="round" stroke-linejoin="round" fill="none"/>
<path d="M315 277l1 0M318 274l-0 0M325 276l-0 0M335 276l-0 0M349 276l-0 0M357 276l-0 0M303 278l0 0M310 280l0 1M347 279l1 0M355 279l0 0M292 283l-1 0M311 284l-0 0M318 283l-0 0M350 282l0 0M360 284l-0 1M366 283l-0 0M370 281l-0 0M381 282l0 0M309 285l0 0M335 287l-0 0M340 285l0 0M352 286l0 0M360 287l-0 0M295 289l-0 1M302 289l-0 0M309 289l0 0M311 289l1 1M321 288l0 1M327 289l-0 0M335 290l-0 0M343 288l0 0M376 289l-1 0M401 290l0 0M295 294l0 0M319 291l0 0M339 292l0 0M349 291l-0 0M352 291l-0 0M379 292l0 0M297 298l0 0M300 296l-0 0M305 296l1 0M333 296l-0 0M335 297l-0 0M338 295l0 0M366 297l-0 0M394 295l-0 0M400 296l-0 1M299 300l0 1M339 298l-1 0M403 300l0 0M303 302l-0 0M311 302l0 0M339 303l-0 0M396 302l0 0M302 306l0 0M304 307l0 0M340 307l-0 0M356 305l-0 0M371 305l-0 0M396 307l0 0M340 311l0 0M344 311l-0 0M354 310l0 0M398 310l0 0M297 313l-1 0M304 312l-1 0M331 314l0 0M316 316l1 0M332 316l1 0M291 319l-1 0M298 320l0 0M302 319l0 0M318 320l-0 0M296 325l-0 0M307 328l-0 0M311 327l-0 0M331 328l-0 0M375 327l0 0M404 328l-0 0M297 329l-0 0M305 332l1 0M358 334l0 0M374 334l0 0M404 333l0 0M294 335l0 0M310 336l-0 1M313 335l-0 1M353 336l1 0M369 337l-0 0M402 337l0 0M305 339l-0 0M308 341l0 1M334 340l0 0M350 342l0 0M300 345l0 0M364 345l-0 0M403 342l0 0M294 349l0 0M298 348l-0 0M356 347l-1 1M374 346l-1 0M378 346l-0 0M302 352l0 0M312 351l1 0M344 351l0 0M351 351l-0 0M357 352l-1 0M360 352l-0 0M364 352l-0 0M368 350l0 0M375 351l0 0M382 350l-0 1M403 352l-0 0M292 355l-0 0M296 353l0 0M301 354l1 0M306 353l0 0M312 352l-0 1M324 355l-0 1M332 355l0 0M340 353l0 0M344 353l0 0M346 355l0 0M352 354l0 0M357 353l-1 0M362 353l-0 0M370 353l0 0M381 354l-0 0M403 355l-0 0M321 356l0 1M328 357l0 0M339 356l1 0M344 358l-0 0M347 356l1 0M349 358l0 0M366 357l-0 0M378 356l1 0M389 356l0 1M397 356l-0 0M292 362l0 0M295 362l0 0M298 360l-1 0M306 360l-1 0M311 362l0 0M315 362l-1 0M323 361l-0 1M339 361l0 0M350 360l0 0M351 362l0 0M370 359l0 0M392 360l-0 0M296 364l1 0M298 365l-0 0M334 365l0 0M351 362l0 1M354 365l-0 0M403 366l0 0M304 366l0 0M315 369l0 1M324 367l-0 0M330 368l-0 0M342 367l-0 0M353 367l0 0M359 369l0 0M366 369l0 0M394 367l-0 0M399 366l-0 1M300 370l1 0M302 370l0 0M313 369l-0 0M320 370l-0 0M337 370l-0 0M344 370l-0 0M345 372l-0 0M349 370l1 0M368 370l0 0M371 369l-0 0M374 371l-1 0M299 375l0 1M302 375l-0 0M309 373l0 1M320 374l-0 0M325 374l-0 0M344 375l-1 1M353 374l-0 0M360 374l0 0M376 375l0 1M294 377l0 0M320 377l0 0M323 378l-0 0M336 379l0 0M338 377l0 0M355 377l-1 1M373 378l0 0M377 377l-0 0M387 379l-0 0M390 379l-0 0M393 377l1 0M405 378l-0 0M299 381l0 1M302 382l0 0M306 381l-0 0M308 380l-0 0M315 380l-0 0M325 380l-0 1M344 381l-0 1M349 382l0 0M363 381l-0 0M368 380l-0 1M376 380l-0 0M386 381l-0 1M395 380l-0 0M295 384l-1 0M302 385l-0 0M333 383l1 0M338 385l1 0M344 384l0 0M315 389l-0 1M330 386l0 1M402 388l0 0M294 389l0 1M300 390l-0 0M302 390l-0 0M309 389l0 0M345 389l1 0M356 392l1 0M377 392l0 1M388 392l-0 0M391 392l0 1M329 393l-0 1M346 395l-0 0M355 394l0 0M368 395l-0 0M370 396l0 0M375 393l0 0M381 392l0 0M382 395l1 0M393 393l0 0M293 397l0 0M295 396l0 1M310 398l-0 0M311 397l-0 0M319 398l-0 1M323 397l-0 0M345 397l0 0M349 398l0 0M355 397l-0 0M363 396l-0 0M377 398l-0 0M386 397l0 0M396 396l-0 1M400 396l1 0M404 396l-0 1M297 402l-0 0M299 400l0 0M311 402l-0 0M321 402l-0 0M333 401l-0 1M339 400l0 0M354 401l0 1M372 402l-0 0M390 401l0 0M399 401l-0 1M300 405l0 0M323 406l0 0M347 405l0 0M398 404l-0 0M402 406l-0 0M403 405l0 1M290 409l-0 0M306 409l0 0M324 407l1 0M332 407l-0 0M338 406l-0 0M367 409l-0 0M369 406l1 0M395 409l-0 0M402 408l-0 0M303 412l0 0M328 409l1 0M333 411l-0 1M376 412l-0 0M379 412l-0 0M401 411l1 0M405 412l0 0M338 415l0 0M368 415l-0 0M383 413l-1 0M387 416l-0 0M392 414l-0 0M399 414l-0 0M402 416l-0 0M323 417l0 0M326 419l0 0M328 419l-0 0M376 418l0 0M401 419l0 1M327 422l0 0M366 422l0 0M403 420l-0 0M293 423l-0 0M310 424l-1 0M315 426l-0 0M324 425l0 0M326 424l1 0M332 425l-1 0M363 426l-0 0M365 423l0 0M369 425l0 0M392 426l0 0M394 425l-1 0M295 430l0 0M298 429l1 0M319 427l-0 0M327 427l0 0M333 430l0 0M371 428l-0 0M387 429l0 0M393 428l0 0M401 429l-0 0M296 430l1 0M310 431l0 0M342 433l-0 0M362 432l-0 0M369 431l1 0M404 430l0 0M333 435l0 1M339 434l-1 0M355 433l0 0M370 436l-0 0M375 435l-0 1M385 435l0 0M324 437l-0 0M337 439l0 1M355 438l-0 0M369 439l-0 0M378 438l-0 0M391 437l0 0M334 441l0 1M339 441l-0 0M343 440l0 1M349 441l0 1M357 443l-0 0M361 441l-0 1M373 442l0 0M378 441l0 0M385 440l-0 0M388 443l0 1M339 443l0 0M349 444l-0 1M361 443l0 0M372 446l0 0M376 446l0 0M380 446l-1 0M384 446l0 0M389 445l0 0M394 446l-1 0M400 447l-0 0M327 450l0 0M328 447l0 0M335 447l0 0M340 450l0 0M349 450l0 1M357 448l-0 0M363 449l-0 0M370 450l0 0M373 448l-0 0M393 449l1 0M396 447l1 0M350 453l-0 0M352 452l0 0M378 451l0 0M388 453l1 0M389 451l-1 0M394 453l-0 0M323 457l0 0M332 456l0 0M345 454l0 1M370 454l0 0M374 456l0 0M380 454l-0 0M384 454l0 0M390 457l-0 0M394 454l-0 1M324 460l-0 1M347 457l-0 0M353 460l0 0M364 458l-1 0M370 458l1 0M375 459l0 1M378 460l0 0M391 459l0 0M394 458l0 0M396 460l-0 0M399 460l-0 0M333 461l-0 0M337 460l0 0M351 462l0 0M371 462l-0 1M374 463l1 0M385 463l0 1M404 463l0 0M344 465l0 0M360 466l0 1M367 466l0 0M378 465l0 0M388 464l-0 0M393 465l1 0M396 467l1 0M399 465l1 0M293 468l-0 0M334 468l-0 0M335 470l-1 0M358 470l0 0M363 468l-0 0M372 470l1 0M378 468l-0 0M385 471l-1 0M392 470l-0 1M345 471l-0 0M369 471l-0 0M382 472l-0 1M393 473l-0 0M300 475l0 0M349 477l0 0M374 475l1 0M378 475l0 0M381 475l0 0M394 475l0 0M337 480l-0 0M344 480l-0 0M369 480l-0 0M372 479l0 0M387 479l-0 1M400 478l-0 0M333 481l0 1M350 482l0 0M361 484l0 0M367 482l0 0M373 483l-0 0M387 482l0 0M341 485l0 0M356 486l-1 0M366 486l0 0M374 487l-0 0M380 485l0 0M384 487l0 0M388 485l0 0M389 485l-1 0M396 487l-0 0M321 491l-0 0M327 490l1 0M339 491l1 0M344 490l0 0M350 490l0 0M364 489l-0 0M367 488l-0 0M369 488l0 0M387 490l0 1M389 490l0 0M321 493l-0 0M327 492l0 0M333 494l1 0M335 494l0 0M345 494l1 0M349 492l0 0M352 492l-0 0M357 491l-1 0M361 494l0 0M363 492l-0 0M368 494l-0 0M371 494l0 0M377 492l0 0M322 497l-0 1M330 497l-1 0M333 496l0 0M337 497l0 0M349 496l-0 1M364 495l0 0M381 496l0 0M384 495l-0 0M388 496l0 0M393 496l-1 0M401 495l0 1M403 495l0 0M321 501l0 0M328 499l0 0M344 499l-1 0M346 499l-0 0M348 498l0 0M361 501l0 1M365 498l0 0M375 500l1 0M376 500l-1 0M397 499l1 0M325 501l-0 0M339 502l-0 0M351 503l-0 0M356 504l-0 0M359 503l0 0M368 502l-0 0M381 503l1 0M387 502l1 0M395 503l-0 0M396 503l0 0M404 503l1 1" stroke="#17124d" stroke-width="3.0" stroke-linecap="round" stroke-linejoin="round" fill="none"/>
<path d="M503 282h0M440 287h0M439 294h0M415 327h0M457 342h0M434 353h0M439 383h0M446 382h0M438 389h0M514 439h0M460 447h0M487 457h0M485 504h0" stroke="#2828af" stroke-width="3.0" stroke-linecap="round" stroke-linejoin="round" fill="none"/>
<path d="M451 284h0M468 297h0M463 301h0M469 394h0M409 402h0M417 403h0M408 404h0" stroke="#221a6e" stroke-width="3.0" stroke-linecap="round" stroke-linejoin="round" fill="none"/>
<path d="M316 390l1 0M321 392l-1 0M305 395l0 0M317 392l-0 0M326 395l-0 0M325 398l0 0M331 398l1 0M321 400l1 0M326 401l-0 0M381 419l0 0M378 420l0 0M379 422l-0 1M391 422l-1 0M335 425l0 0M383 424l-0 0M378 426l-0 0M396 427l-1 0M400 430l0 0M404 437l-0 0M379 448l0 1M387 449l-0 0M384 450l1 0M297 463l1 0M304 461l-0 0M308 461l1 1M311 464l0 0M297 464l0 1M302 465l0 0M310 467l-1 0M312 465l1 0M316 465l1 0M320 464l-0 0M331 466l1 0M382 465l-0 0M301 471l0 0M319 469l0 0M382 469l0 0M291 473l0 0M295 473l0 0M301 471l0 0M306 472l0 0M307 471l-1 0M320 471l0 0M323 473l0 0M332 473l-0 0M295 476l-1 0M310 475l-1 0M312 475l-0 0M314 475l0 0M297 480l-0 1M307 481l-0 0M317 479l-0 0M320 479l0 1M326 478l1 0M332 479l-0 0M362 479l0 0M379 479l0 1M295 483l0 0M304 484l0 0M311 484l0 1M329 483l1 0M298 487l-0 1M305 485l0 0M308 486l-0 1M317 486l-0 0M320 487l-0 0M329 485l0 0M332 486l-0 0M296 491l-1 0M297 490l-0 0M301 489l0 1M307 488l0 0M311 488l-0 0M316 490l0 0M328 489l-0 0M382 488l-1 0M292 493l0 0M304 493l-1 0M291 495l0 0M303 496l0 0M304 496l-1 1M317 496l-0 0M292 500l0 0M300 501l0 0M302 499l-1 0M307 500l-0 0M308 499l-0 0M315 499l-0 0M325 499l1 0M365 499l-0 0M297 503l-1 0M306 503l-0 0M370 504l0 0" stroke="#2c2cc0" stroke-width="3.0" stroke-linecap="round" stroke-linejoin="round" fill="none"/>
<path d="M296 274l1 0M344 275l-0 0M363 274l-1 0M306 280l-0 0M319 280l-0 0M326 284l-0 1M357 282l0 0M301 284l-0 0M349 286l1 0M365 285l0 0M304 292l0 1M357 292l-0 0M308 295l0 0M385 298l-0 1M294 299l0 0M301 299l-0 0M311 310l0 0M320 312l0 1M307 317l-0 1M307 317l-0 1M326 322l-1 0M349 322l0 0M381 323l0 0M295 327l-0 1M298 325l0 0M321 336l-0 0M362 338l0 0M363 341l0 0M400 340l-0 0M301 345l-0 0M373 343l-0 1M329 351l0 0M389 352l0 0M348 354l-1 0M374 353l0 0M395 355l0 0M374 358l-1 0M403 356l-0 0M345 366l0 0M356 362l-0 0M365 363l0 0M301 369l0 0M336 367l0 0M404 368l-0 0M307 372l0 0M360 372l0 0M339 380l0 0M313 383l1 0M366 383l-0 0M376 386l-1 0M293 387l-1 0M303 386l-0 0M390 388l-0 0M366 391l-1 0M400 392l0 0M399 393l-0 1M403 395l0 1M339 397l0 0M308 402l0 0M394 400l-0 1M404 401l0 0M332 405l1 0M363 405l0 1M374 403l-0 0M382 405l0 1M386 403l0 0M378 406l0 0M366 412l-0 0M398 411l0 0M346 414l-0 0M401 416l0 1M314 419l-0 0M363 419l0 0M366 418l0 0M382 418l-1 0M393 417l-0 0M310 420l-0 0M311 421l0 0M331 420l-1 0M301 424l-0 0M377 425l-0 0M392 428l1 1M323 431l0 0M366 430l-1 0M389 431l-0 1M358 436l0 0M367 434l-0 0M399 436l0 1M323 441l0 1M366 443l0 1M362 445l-0 0M369 446l-1 0M342 450l-0 1M353 449l-0 0M336 451l0 0M358 455l1 0M363 454l0 0M376 457l-0 0M405 455l0 1M334 459l0 1M342 458l-0 1M366 458l0 0M339 461l-0 0M356 460l-0 0M360 462l0 0M399 461l-1 0M348 466l0 0M367 468l-1 0M370 468l-0 0M402 467l-0 0M339 473l-0 0M343 472l-0 0M355 473l-0 0M363 474l-0 0M376 473l0 0M405 473l1 0M339 476l0 0M370 477l0 0M383 475l0 0M354 480l-0 0M384 479l0 0M343 483l0 0M358 485l-1 0M401 487l-0 0M336 490l0 1M346 488l-0 0M353 489l0 0M378 488l-0 0M383 493l-0 0M390 494l-0 1M339 495l0 0M347 498l0 0M374 495l0 0M377 497l-0 1M390 496l-0 0M396 497l0 0M371 498l-1 1M381 501l-0 0M386 499l-0 0M390 498l-0 0M324 502l-0 0" stroke="#17124d" stroke-width="3.5" stroke-linecap="round" stroke-linejoin="round" fill="none"/>
<path d="M328 397l-0 0M403 425l0 0M397 430l0 0M393 441l-0 0M382 451l-1 0M389 456l-0 0M387 457l0 0M290 462l1 0M317 461l0 1M321 469l-1 0M327 469l-0 1M328 473l0 0M318 477l0 1M388 477l0 1M322 483l-0 0M302 484l-0 0M297 496l0 1M292 504l0 1M373 502l0 0" stroke="#2c2cc0" stroke-width="3.5" stroke-linecap="round" stroke-linejoin="round" fill="none"/>
<path d="M406 277l-0 0M425 274l1 0M443 277l-1 1M407 280l0 0M501 289l0 0M408 301l-1 1M437 306l0 0M441 305l1 0M508 307l0 0M425 309l0 0M447 310l-0 0M505 310l0 0M431 314l1 0M445 316l0 0M418 323l0 0M446 329l-0 1M514 331l-1 0M419 339l-0 0M428 339l-1 0M443 345l-0 0M428 352l-1 0M422 357l1 1M441 358l1 0M460 363l-0 0M426 364l-1 0M436 370l0 0M419 383l-0 0M459 390l1 0M519 392l0 0M434 394l-1 0M440 399l0 1M484 400l-0 0M461 407l-1 0M489 405l0 0M456 423l-0 1M439 429l0 0M483 425l0 0M492 428l1 0M506 425l1 0M448 434l0 1M505 433l1 1M450 437l1 1M479 442l-1 0M447 445l0 0M462 455l1 0M506 454l-0 0M516 459l0 0M493 459l0 0M501 462l0 0M515 459l0 0M432 467l0 1M494 469l-1 0M479 471l-1 0M500 502l0 1M499 504l0 1" stroke="#2828af" stroke-width="4.0" stroke-linecap="round" stroke-linejoin="round" fill="none"/>
<path d="M457 278l-0 1M457 284l0 0M470 286l1 1M485 286l-0 1M411 390l-0 0M430 390l-0 0M420 395l0 0" stroke="#221a6e" stroke-width="4.0" stroke-linecap="round" stroke-linejoin="round" fill="none"/>
<path d="M419 276l0 0M438 283l0 1M518 280l0 0M416 285l1 0M427 286l-0 0M420 291l0 1M492 293l-0 1M406 299l0 1M414 298l1 1M421 295l1 0M518 298l0 0M422 301l-0 0M430 300l-1 1M431 300l1 0M409 305l-0 0M450 306l0 0M409 312l0 0M451 310l-1 1M429 318l-1 1M509 316l-0 1M431 321l1 1M435 321l-0 1M495 321l0 0M504 319l1 1M430 328l0 1M447 328l-0 1M511 326l-1 1M517 325l1 0M455 330l0 0M498 330l1 0M518 330l1 0M411 337l1 0M499 338l-0 1M428 349l1 1M437 348l-1 1M481 344l-0 0M413 349l-1 1M447 353l-0 0M500 359l-1 0M414 360l1 0M423 361l-0 1M414 367l0 0M433 368l0 1M407 371l0 0M425 373l-0 1M408 376l0 0M414 377l-0 0M431 384l-0 0M489 381l-0 0M409 388l1 1M481 384l0 1M447 393l0 0M492 390l-0 0M505 394l0 0M513 390l-0 0M457 394l-0 1M487 399l0 1M442 412l-1 0M517 414l-0 1M483 414l-0 1M519 424l-1 1M461 426l-1 0M489 427l-0 0M436 432l-1 0M409 437l0 1M425 436l-1 0M490 435l1 1M506 435l-1 0M441 441l0 1M493 439l0 0M509 439l-1 1M520 439l-0 1M407 446l1 1M491 445l-0 0M513 444l-0 0M443 452l-0 1M462 454l-0 0M498 450l1 0M502 452l-1 0M508 450l1 0M434 456l0 0M439 455l-0 0M449 456l-1 1M451 457l1 1M474 457l-1 0M493 458l0 0M498 454l-1 0M439 462l0 1M441 462l0 1M445 462l-0 0M478 463l-0 0M406 464l0 0M477 467l-1 1M509 468l1 0M406 474l-0 1M420 477l-0 0M420 476l-0 0M456 475l0 0M469 475l1 0M474 475l0 0M462 483l-1 0M470 480l0 0M482 480l-0 0M472 489l-1 1M467 493l-0 0M519 490l-0 0M413 500l-1 1M436 500l-0 0M473 500l-0 0M490 503l1 1M504 504l0 1" stroke="#2828af" stroke-width="4.5" stroke-linecap="round" stroke-linejoin="round" fill="none"/>
<path d="M471 279l-1 0M417 389l0 0M425 392l0 0M470 403l-0 0M406 455l-0 1" stroke="#221a6e" stroke-width="4.5" stroke-linecap="round" stroke-linejoin="round" fill="none"/>
<path d="M477 275l0 0M471 299l1 0M421 397l1 0" stroke="#221a6e" stroke-width="5.0" stroke-linecap="round" stroke-linejoin="round" fill="none"/>
<path d="M425 282l-1 0M448 283l1 1M429 294l-0 1M495 299l-0 0M509 294l0 1M418 303l-0 1M457 308l0 1M509 323l1 0M407 328l0 0M492 327l1 0M506 325l-0 0M424 332l0 0M441 329l0 0M412 343l-0 0M416 340l0 0M433 349l0 0M425 349l0 0M444 354l1 0M504 353l1 1M412 371l0 1M418 375l-0 1M479 396l-0 0M490 398l0 0M437 404l-0 0M463 422l0 1M467 421l1 0M506 423l-0 0M512 420l-0 0M439 436l1 0M411 440l-0 0M422 444l-1 1M487 446l-0 1M510 444l0 0M519 444l-0 0M455 450l0 0M502 456l-1 0M515 454l-0 0M428 465l1 0M488 467l-0 0M510 475l0 1M418 480l-0 0M515 484l-0 0M519 488l1 0M408 490l0 1M413 490l-0 1M477 492l0 0M497 493l1 0M482 494l-0 0M503 498l0 0M420 502l1 0M444 502l0 1" stroke="#2828af" stroke-width="5.0" stroke-linecap="round" stroke-linejoin="round" fill="none"/>
<path d="M298 384l1 0M325 386l0 0M317 403l0 0M340 498l0 0" stroke="#17124d" stroke-width="1.0" stroke-linecap="round" stroke-linejoin="round" fill="none"/>
<path d="M344 284l0 0M391 284l-0 0M395 288l-0 0M387 292l-0 0M377 300l-0 1M293 314l1 0M402 317l-1 0M386 319l0 1M392 319l0 0M329 322l-0 0M398 330l-0 0M321 332l-0 0M339 334l0 1M368 332l-0 1M389 334l-1 1M390 338l-0 0M398 339l-1 0M343 343l-0 0M376 355l-0 1M305 383l0 1M320 383l-0 0M348 384l0 0M384 387l-1 0M292 390l-0 0M323 396l-0 0M290 400l0 0M315 401l0 0M328 400l0 0M349 401l0 0M336 410l-0 1M343 410l-1 1M351 410l1 1M357 412l-1 0M321 413l0 0M330 415l-0 1M335 414l0 0M354 415l-0 0M356 414l0 0M338 419l0 0M347 418l-0 0M348 417l0 1M341 420l-0 1M350 422l1 0M339 424l-0 0M336 427l-0 1M344 428l0 0M346 430l0 1M315 432l0 0M334 432l0 0M345 432l0 0M292 434l-1 0M297 436l0 0M299 436l0 0M300 436l-0 0M309 437l1 0M313 436l0 0M325 434l-0 0M296 438l-0 0M303 437l-1 0M315 437l0 1M386 439l0 0M400 438l0 1M298 442l-0 0M301 442l0 0M305 443l-0 0M309 441l-0 0M311 443l-1 0M315 443l1 1M292 446l-1 0M298 445l0 1M317 444l-1 0M295 449l-0 1M300 450l-0 0M303 448l0 0M313 449l-1 0M318 447l0 0M294 452l-0 0M303 451l1 0M305 453l0 0M307 451l-0 0M313 451l-0 0M316 451l-0 0M291 454l-1 0M294 454l-0 0M318 455l0 0M399 455l-0 0M290 459l0 0M308 457l-0 0M303 461l-0 0M393 479l0 0M317 482l1 0M320 484l0 0M342 491l-0 0M308 496l-0 1" stroke="#2c2cc0" stroke-width="1.5" stroke-linecap="round" stroke-linejoin="round" fill="none"/>
<path d="M366 299l-0 0M375 312l0 0M296 316l-0 1M355 321l-0 0M362 332l1 1M360 341l-0 0M305 349l-0 0M307 353l0 0M320 355l1 0M380 359l1 0M309 360l0 0M305 366l0 0M295 366l-0 0M291 370l0 0M296 376l0 0M298 377l-0 0M301 377l1 0M309 377l0 0M291 380l-0 0M296 380l1 0M322 385l-0 0M382 383l-0 1M399 388l-0 0M318 389l-1 0M335 390l-0 0M302 398l0 1M305 397l-1 1M317 396l-1 0M304 402l1 0M315 404l0 1M342 407l0 0M326 412l1 0M331 414l0 1M343 415l0 0M311 418l-1 0M342 417l-0 0M328 431l-0 0M387 433l0 0M328 434l-0 0M382 434l-1 0M379 438l-0 0M388 446l0 0M398 451l1 1M355 458l-1 0M361 459l-1 0M404 460l-0 0M402 467l0 0M393 469l0 0M396 468l-1 0M392 477l-0 0M399 482l-0 0M356 496l-0 0" stroke="#17124d" stroke-width="1.5" stroke-linecap="round" stroke-linejoin="round" fill="none"/>
<path d="M295 305l-1 0M297 305l0 0M388 325l0 0M343 329l0 0M373 331l0 0M344 334l-0 1M337 341l1 0M296 345l1 0M380 346l-0 0M384 356l0 0M318 361l-0 0M359 385l0 0M331 392l1 0M290 394l-1 0M302 395l0 0M319 393l0 1M354 393l-0 0M335 403l0 0M350 409l-0 0M323 412l-0 0M346 412l-0 0M352 422l0 1M343 425l1 0M348 431l1 0M317 435l0 0M290 437l0 0M308 438l1 1M312 437l-0 0M359 439l-0 0M367 438l-1 0M331 440l-0 1M301 444l0 0M292 447l1 0M310 448l-0 1M302 457l-0 0M354 456l-1 0M296 460l0 0M296 504l-1 1" stroke="#040409" stroke-width="1.5" stroke-linecap="round" stroke-linejoin="round" fill="none"/>
<path d="M292 276l0 1M310 277l0 0M328 275l-1 1M376 276l-1 0M295 277l0 0M299 280l-0 0M321 279l-0 0M325 279l0 0M331 279l1 0M335 280l-0 0M343 279l-0 0M366 281l1 0M387 280l0 0M395 280l-0 0M402 279l-0 1M333 281l-0 0M336 284l-0 0M383 281l-1 1M401 282l-1 1M293 287l-0 1M294 287l0 0M322 285l-0 0M330 287l1 0M374 288l-0 0M380 285l1 0M403 286l0 0M317 290l0 0M363 288l-0 1M380 289l0 0M290 292l-1 0M323 292l-0 0M360 294l-0 0M364 292l1 0M370 292l-0 1M378 292l0 0M391 292l0 1M400 294l0 0M324 294l-1 0M357 297l-0 0M376 295l1 0M383 297l0 0M389 297l0 0M293 299l-1 1M305 298l0 0M310 298l0 0M329 298l0 0M348 300l0 0M359 299l0 0M361 300l0 0M383 299l1 0M392 300l0 0M338 304l-0 0M358 304l-0 0M370 302l0 0M401 304l-0 0M291 306l1 1M333 306l-0 0M361 307l0 0M384 305l1 0M386 307l-0 0M393 305l-0 0M296 310l0 0M333 310l0 0M347 309l0 1M369 309l1 0M373 310l-1 0M379 308l1 0M294 313l0 1M309 314l-0 0M351 314l0 1M355 314l-0 0M370 312l0 0M403 312l-0 0M311 317l1 0M319 317l0 1M325 316l0 1M354 317l-0 0M361 316l0 0M376 318l0 0M398 317l0 0M294 319l0 0M307 321l0 1M313 321l0 1M345 319l-0 0M399 321l-0 0M297 322l0 0M306 322l-0 1M308 323l0 0M313 325l0 0M353 322l1 0M370 322l0 0M398 323l0 0M400 325l0 0M302 327l-0 0M315 327l0 0M324 328l-0 0M326 327l0 1M338 326l-1 0M345 326l0 1M351 326l-0 0M352 328l-0 0M369 326l-0 1M379 327l-0 1M394 326l0 1M290 328l-0 0M294 329l-0 0M311 329l0 1M317 330l-0 1M330 329l0 0M361 330l0 0M362 330l-0 0M366 332l1 1M379 329l0 0M388 332l-0 1M393 331l0 0M319 335l1 1M324 335l-0 0M329 335l0 1M379 334l0 0M401 335l-0 0M298 338l0 0M301 336l0 0M307 338l-1 1M315 336l-1 0M330 336l-1 0M373 337l-0 0M312 342l-1 1M367 341l1 0M370 341l-0 0M372 339l-1 0M306 344l0 0M330 344l-0 1M353 344l0 1M367 343l-0 1M381 342l0 0M384 344l-0 1M389 345l0 1M397 343l0 0M291 347l0 0M310 348l-0 0M363 348l0 0M368 347l-1 0M388 346l-0 0M398 346l0 0M309 350l1 0M344 351l0 0M380 349l-0 0M329 354l-0 0M338 356l-1 1M359 355l-0 0M396 354l0 0M400 355l-1 0M315 356l0 0M336 357l-0 0M358 358l-1 0M387 359l0 0M325 361l1 0M330 362l-0 0M346 362l-0 1M358 362l-0 0M392 361l-0 0M396 361l-0 1M316 364l0 0M320 366l-1 0M377 363l0 0M380 364l0 0M384 363l-0 0M397 365l1 0M307 366l0 1M370 367l0 0M373 367l-1 0M375 368l0 1M383 368l-0 0M386 366l1 0M317 373l0 0M333 370l0 1M352 373l0 0M378 370l-1 1M380 372l-0 1M316 375l-0 0M330 376l1 0M338 376l1 0M379 374l-0 0M385 375l0 1M398 376l0 0M404 374l0 1M330 376l-1 0M341 379l-0 0M366 377l0 0M379 378l1 0M385 379l0 0M401 377l-0 0M329 382l-0 0M370 381l-0 0M356 384l1 0M372 385l-0 0M395 384l-1 0M402 384l-0 0M322 387l0 0M340 387l-1 0M342 389l0 0M373 387l-1 0M386 387l1 0M343 390l-0 0M374 392l-0 0M339 394l-0 0M374 396l0 0M304 402l0 0M362 401l-0 1M307 403l0 0M342 405l-0 0M361 403l0 0M378 404l-0 1M330 409l-0 1M309 412l0 0M377 413l0 0M317 416l0 0M331 422l-0 1M319 426l0 1M380 424l-0 0M398 425l-0 0M326 427l-0 0M305 430l-0 0M314 431l1 0M379 430l0 0M321 434l0 0M329 438l0 1M346 439l-1 0M327 442l0 0M330 443l0 0M331 445l-0 0M333 448l1 0M367 448l0 0M326 453l-0 1M363 452l0 1M340 458l-0 0M400 463l0 1M339 469l-0 1M335 477l-1 0M352 476l0 0M397 477l1 0M390 481l0 0M354 485l-1 1M334 489l-0 0M335 504l0 0M350 502l-1 0" stroke="#17124d" stroke-width="2.0" stroke-linecap="round" stroke-linejoin="round" fill="none"/>
<path d="M297 277l-0 0M333 274l1 0M380 276l1 0M384 276l-1 0M389 275l-0 1M393 277l-1 0M398 277l-0 0M338 281l0 1M391 278l-0 0M402 280l-1 0M315 283l0 0M329 284l-0 1M339 282l-0 1M320 286l-0 1M327 286l-1 0M362 287l1 0M370 286l-0 0M382 287l0 0M395 285l1 1M396 285l-0 0M306 291l-0 0M345 288l-1 0M353 289l0 0M368 290l-1 0M370 290l-0 0M302 294l-0 0M345 293l-0 0M393 293l-0 0M291 294l0 0M295 297l-1 0M313 296l-0 0M345 298l-0 0M350 298l1 1M381 297l-0 0M396 298l0 1M404 296l-1 0M318 299l1 0M353 299l0 0M356 298l1 0M374 299l-1 0M394 298l0 1M398 298l0 0M296 303l0 0M299 303l0 1M309 302l-0 0M355 301l-0 0M365 302l0 0M380 304l0 1M389 302l-1 0M354 307l-1 0M367 306l-0 0M326 311l0 0M358 311l0 1M366 310l0 0M389 311l1 0M392 310l0 1M314 313l-0 0M341 313l0 1M347 314l-0 0M361 312l-0 1M391 315l-0 0M291 315l0 0M339 316l1 0M341 317l1 0M367 316l0 0M381 316l0 0M389 317l0 0M403 316l-0 1M364 321l0 0M389 320l-1 1M397 319l-0 0M339 323l-0 0M375 323l1 0M319 327l0 0M342 328l1 1M359 327l0 0M365 328l1 0M373 328l-0 0M396 327l0 1M338 331l-0 0M401 330l0 0M299 333l0 0M337 334l-0 0M349 332l0 1M396 332l-0 0M376 336l-1 0M393 336l0 0M317 339l-1 0M324 341l0 1M330 341l-0 0M339 340l1 0M346 341l-0 0M352 339l-1 0M356 342l-0 0M319 345l0 0M322 344l-0 0M339 344l-0 0M347 345l-0 0M316 347l0 1M323 346l-0 1M349 349l-0 0M358 346l-0 1M384 345l1 1M401 348l-0 1M337 352l-1 1M340 350l0 0M394 349l-0 0M393 356l-0 0M401 358l-1 0M365 360l1 0M375 361l0 0M389 363l-0 1M357 366l0 1M380 367l0 1M399 369l-0 0M311 376l-1 0M332 376l0 0M307 378l-0 1M333 379l1 0M351 377l-0 0M361 378l-0 0M382 381l-0 0M401 383l-1 0M330 385l-0 0M363 385l0 1M400 385l0 1M348 387l0 0M338 391l0 0M371 397l-0 1M341 402l-0 1M296 406l-0 1M325 406l0 0M300 407l1 0M335 409l-0 0M346 408l1 0M354 409l0 0M308 416l-0 0M334 419l1 0M369 419l-1 0M346 422l-0 1M349 426l-0 1M356 428l1 0M325 432l-0 0M339 431l0 1M390 436l-0 0M306 437l-0 1M321 439l0 0M319 442l0 0M305 446l-1 1M292 453l-1 0M299 450l1 0M318 453l1 0M304 457l-0 1M329 457l0 0M335 456l0 1M299 459l-0 0M313 457l-0 1M319 458l-0 0M329 459l-0 0M318 463l-1 1M306 470l0 0M314 469l-1 0M311 471l-0 0M367 471l-0 0M327 477l0 0M328 476l0 0M291 479l-0 0M294 479l-1 1M322 481l1 0M303 483l-0 1M400 482l0 0M308 489l-0 0M357 489l-1 0M395 488l-1 0M297 493l0 0M302 491l-0 0M312 493l0 0M301 502l-1 0M309 502l1 0M315 503l-0 1" stroke="#2c2cc0" stroke-width="2.0" stroke-linecap="round" stroke-linejoin="round" fill="none"/>
<path d="M306 276l0 0M372 276l-1 0M359 278l-0 1M398 278l-1 1M301 282l-0 1M372 282l0 1M378 284l-0 0M396 282l-0 0M356 286l1 1M298 291l-0 0M334 288l0 0M340 289l-0 0M359 291l1 0M313 293l0 0M315 294l0 0M325 294l0 0M373 292l0 1M318 295l-0 0M327 296l0 1M372 297l0 0M314 299l-0 1M323 300l0 0M327 298l-0 0M331 299l-0 1M291 301l0 0M341 303l-0 0M362 303l0 0M308 308l0 0M326 305l0 1M291 309l-0 0M304 311l-0 0M306 310l-0 1M329 311l-1 0M376 309l0 1M385 310l-0 0M301 313l1 1M311 311l0 0M335 313l0 0M355 314l0 0M381 313l0 1M394 313l1 0M327 321l1 0M331 320l-0 0M340 320l-0 0M361 320l-0 0M365 320l0 0M371 318l-0 1M380 320l-0 0M384 321l-1 0M303 323l0 0M332 322l-0 0M336 324l-0 0M362 324l-0 0M367 325l0 0M403 322l0 0M306 331l-0 0M309 330l0 0M326 331l0 0M350 329l0 0M405 329l-1 0M291 333l0 0M311 332l-0 0M317 334l1 0M342 333l-0 0M394 332l0 0M345 336l-1 0M320 341l1 0M327 341l0 0M392 342l-0 0M377 345l0 0M328 348l-0 0M331 347l0 0M334 345l-0 0M340 348l-0 0M370 346l1 0M390 348l0 0M331 349l-0 0M365 352l-0 0M399 352l0 0M323 353l0 0M290 356l-1 0M311 358l0 1M327 356l0 0M358 359l0 1M364 357l-1 0M383 356l-1 0M335 359l1 0M365 361l-0 0M380 360l0 1M291 364l-0 0M300 364l-1 0M340 365l-0 0M343 364l-0 0M388 363l0 0M401 366l-0 1M311 368l-1 0M383 371l-0 0M387 370l0 1M305 373l0 0M350 376l0 0M327 379l-0 0M364 378l0 0M368 379l-0 0M320 380l0 1M361 382l1 0M381 379l-0 0M293 385l0 0M390 385l-1 0M345 387l-0 1M357 387l0 0M336 396l-0 0M342 393l-0 1M352 404l1 0M311 407l-0 1M324 408l-0 1M357 407l-1 0M361 409l1 1M374 407l0 1M380 408l1 0M292 411l-0 0M296 410l0 0M354 412l-0 0M291 415l-0 1M326 414l0 1M349 414l-1 1M353 417l0 0M347 423l0 1M354 428l-0 0M363 429l-0 0M367 427l1 0M396 439l1 0M364 442l-0 0M378 441l0 0M405 443l0 1M309 447l-0 1M320 446l0 0M352 444l-1 0M317 447l-1 0M321 451l-0 0M333 450l-1 0M361 455l-1 0M343 476l-0 1M307 477l-1 0M391 479l0 1M335 481l0 1M404 482l0 0M348 503l-0 0" stroke="#040409" stroke-width="2.0" stroke-linecap="round" stroke-linejoin="round" fill="none"/>
<path d="M514 348l1 0M454 391l0 0M484 390l1 1M501 394l0 0M504 395l1 0M434 403l1 0M447 401l-0 0M498 402l0 1M425 407l0 1M466 409l1 1M472 406l-0 0M484 405l0 0M493 405l0 1M476 414l-1 0M482 414l1 0M494 413l-0 0M425 416l0 1M433 417l-0 1M449 415l-1 0M459 416l-0 1M466 417l-1 1M495 415l0 0M452 424l0 0M465 432l-0 1M468 432l0 0M474 433l0 0M453 434l-0 0M445 450l0 0M420 459l1 1M414 462l-1 1M475 460l-0 1M487 462l-1 0M413 472l0 0M422 470l1 0M440 470l-1 1M447 474l1 0M486 472l0 0M429 478l-0 1M434 478l0 0M409 481l0 0M415 482l0 1M421 480l0 1M426 483l0 0M433 483l-0 0M442 482l0 1M410 488l-1 1M412 486l0 0M416 485l0 0M434 488l0 0M440 487l1 0M440 488l-1 0M494 491l-0 0" stroke="#2828af" stroke-width="2.0" stroke-linecap="round" stroke-linejoin="round" fill="none"/>
<path d="M498 397l0 0M431 448l1 0M455 446l-0 0M471 450l1 1M494 454l-0 0M436 465l1 1M449 466l1 0" stroke="#05050a" stroke-width="2.0" stroke-linecap="round" stroke-linejoin="round" fill="none"/>
<path d="M386 276l-0 0M312 279l-0 0M372 278l-0 0M375 285l-0 0M330 289l-0 0M384 289l0 0M404 291l0 1M396 291l-0 0M343 296l-0 0M381 299l-0 0M401 300l-0 0M315 303l1 0M378 302l-0 0M335 305l-1 1M317 308l-0 0M349 309l0 0M392 310l0 0M400 313l0 0M297 315l0 1M346 318l-1 0M364 315l0 0M369 317l1 0M314 321l-0 0M352 319l-1 0M332 332l-0 0M347 330l0 0M308 335l0 1M368 332l-1 0M290 338l1 0M326 338l-0 1M361 337l-0 0M296 341l0 0M291 343l-1 1M350 343l-0 0M359 344l-0 1M302 346l-1 1M325 348l0 0M346 346l0 0M293 349l0 0M314 350l0 0M318 349l-1 0M376 351l-0 1M386 354l0 0M391 352l1 0M309 357l0 0M384 361l1 0M388 360l-1 0M405 360l-1 1M322 364l-0 1M297 368l0 0M333 366l-0 1M362 369l0 0M390 369l-0 0M400 368l-0 0M328 371l0 0M355 375l-0 1M346 381l-0 0M369 386l-0 1M388 409l1 0M382 411l0 1M366 415l-0 0M309 429l-0 0M354 440l0 0M359 479l-1 0M394 487l-0 1" stroke="#17124d" stroke-width="2.5" stroke-linecap="round" stroke-linejoin="round" fill="none"/>
<path d="M400 276l1 1M390 286l1 1M372 290l-0 0M317 297l0 1M353 295l-1 0M349 305l-0 0M372 305l-0 1M399 306l1 0M321 311l-0 0M336 309l-0 0M403 308l0 0M323 314l0 0M323 317l-0 1M334 316l0 0M357 317l-0 0M385 315l-0 0M304 318l0 0M336 320l-1 0M403 321l0 0M360 324l-1 0M328 327l0 0M338 325l1 0M357 328l0 0M365 327l-0 1M383 328l0 0M302 335l0 0M359 332l0 1M385 332l0 1M339 337l1 0M311 344l0 0M336 344l-0 0M355 342l-1 0M318 347l-0 0M398 351l-1 0M314 354l0 0M334 357l0 0M333 360l-1 1M311 363l-1 0M375 364l1 0M292 366l1 0M316 385l0 0M326 384l-0 0M357 419l0 0M373 418l-0 0M332 440l0 1M305 458l-0 0M322 463l0 0M307 467l0 0M302 475l-0 0M305 477l-1 0" stroke="#2c2cc0" stroke-width="2.5" stroke-linecap="round" stroke-linejoin="round" fill="none"/>
<path d="M332 293l-0 0M314 301l0 1M349 299l-1 0M381 306l-0 0M298 311l0 0M386 312l-0 0M348 315l1 0M375 315l-0 0M377 320l-1 0M319 323l0 0M293 328l-0 1M302 330l0 1M324 331l0 0M299 342l0 0M324 343l0 1M293 349l-0 0M373 359l0 0M399 360l-1 0M341 369l-0 0M354 381l0 1M355 381l0 0M403 381l0 0M388 383l-1 0M349 404l-0 1M361 413l-1 0M369 412l0 1M356 425l-0 0M326 457l-0 0M300 482l0 0M295 486l-0 0M309 491l-0 0" stroke="#040409" stroke-width="2.5" stroke-linecap="round" stroke-linejoin="round" fill="none"/>
<path d="M515 357l-0 0M485 394l0 0M462 415l-0 0M470 423l1 1M469 428l0 0M473 427l-0 0M453 433l-0 1M426 458l-1 1M433 469l-0 1M440 489l0 1" stroke="#05050a" stroke-width="2.5" stroke-linecap="round" stroke-linejoin="round" fill="none"/>
<path d="M515 358l-0 0M461 390l-0 0M496 393l-1 0M446 398l-1 1M491 395l-1 0M454 402l0 0M460 403l-0 0M457 405l0 0M457 412l-1 0M470 413l0 1M488 410l0 0M443 417l0 0M476 417l0 0M489 417l-1 0M515 419l-0 0M454 428l-1 0M519 425l-0 0M459 434l0 1M470 441l-1 1M440 447l0 1M468 448l-0 0M426 451l0 1M439 451l0 1M427 459l-0 1M469 460l-0 0M411 468l-1 0M418 467l-1 0M422 465l-1 1M443 466l1 1M408 474l0 1M416 471l-0 0M412 478l-1 1M422 488l1 1M428 488l0 0" stroke="#2828af" stroke-width="2.5" stroke-linecap="round" stroke-linejoin="round" fill="none"/>
<path d="M411 278l-1 0M425 277l-1 1M431 277l1 1M448 277l1 0M498 275l1 1M513 279l-0 1M421 283l0 0M492 282l-0 0M498 284l0 0M413 288l-0 0M432 284l1 0M445 289l0 0M493 285l0 1M499 284l0 0M518 286l-0 0M514 292l-0 0M519 294l1 0M515 296l-0 1M439 300l0 0M485 301l1 1M487 302l-0 0M501 299l0 0M413 306l1 0M423 306l0 0M427 308l0 0M448 305l-0 1M466 305l-1 0M474 306l1 1M515 308l-0 0M416 313l0 0M433 314l-1 1M437 311l-0 0M445 309l0 0M405 315l-1 0M415 319l0 1M422 316l-1 0M443 316l0 1M465 317l-1 1M494 318l-0 0M427 319l-1 0M442 320l1 1M453 321l0 0M481 322l1 0M437 326l0 1M475 326l-0 0M480 326l1 1M486 328l1 0M436 331l-1 0M457 332l-0 1M462 331l-1 0M488 334l-0 0M421 338l1 1M506 334l0 0M518 337l-1 0M423 339l-0 0M467 344l-0 0M495 342l-1 0M504 340l1 1M453 345l-1 0M459 347l-1 0M496 348l-0 0M519 346l0 0M410 353l0 0M475 351l-1 0M509 353l-1 1M511 350l-1 1M405 356l0 1M438 355l1 1M497 356l-0 1M428 362l0 1M433 361l1 1M461 362l-0 0M489 363l0 0M512 364l-1 0M519 364l-0 0M409 367l0 1M440 367l1 0M507 369l1 0M416 374l-0 0M442 372l0 0M484 373l-1 0M431 376l0 0M454 377l1 0M414 381l-1 0M424 383l-1 0M444 381l-0 1M454 383l1 0M477 381l0 0M517 383l-0 0M416 385l-1 1M426 386l0 1M454 387l0 1M460 389l0 0M462 388l0 1M509 388l0 1M511 387l-0 0M510 397l0 1M421 407l-1 1M479 406l-0 0M497 408l1 1M436 413l1 1M515 418l0 0M407 423l1 1M494 419l1 0M503 422l-0 0M413 427l0 0M407 431l-1 0M416 432l1 1M486 430l-0 0M416 435l-0 0M415 439l-0 0M483 451l-1 0M515 450l-1 1M485 456l-1 0M452 460l0 0M499 461l-1 1M466 465l0 0M494 473l1 0M501 472l-1 0M513 470l-0 0M440 478l0 0M451 478l0 1M495 477l-1 1M512 477l0 0M520 476l0 1M457 479l0 1M502 479l-0 0M510 484l0 0M462 487l0 0M479 487l-0 0M486 487l0 0M497 488l0 1M503 486l0 0M511 487l1 0M421 491l1 0M436 491l-1 1M465 491l0 0M514 493l1 0M409 495l-0 0M421 497l-0 1M441 498l1 1M446 498l-0 1M470 494l0 0M426 504l1 0M507 502l-1 1M514 504l-0 1M517 502l-1 0" stroke="#2828af" stroke-width="3.0" stroke-linecap="round" stroke-linejoin="round" fill="none"/>
<path d="M437 278l0 0M510 284l-0 1M406 294l-0 0M502 289l0 1M507 304l0 0M516 304l-1 0M454 319l-0 0M477 314l-1 1M476 322l-0 1M445 326l1 0M480 331l-1 1M477 335l-1 1M494 342l-0 1M482 358l0 0M450 364l1 0M472 368l-1 0M434 370l1 0M458 377l-1 1M505 381l-1 0M414 388l-1 1M431 384l0 1M466 388l0 0M474 386l-0 0M427 394l0 0M508 408l-0 0M513 408l-1 1M417 412l0 1M447 411l1 0M503 415l1 0M412 423l0 1M479 421l-1 1M429 428l-0 0M434 430l0 0M420 435l1 0M497 444l-0 0M498 445l0 1M452 486l0 0M455 492l-0 1M411 497l-1 1M489 498l1 0M518 495l1 1" stroke="#05050a" stroke-width="3.0" stroke-linecap="round" stroke-linejoin="round" fill="none"/>
<path d="M477 282l1 0M422 393l-1 1M412 405l-0 1M418 452l-1 1" stroke="#221a6e" stroke-width="3.0" stroke-linecap="round" stroke-linejoin="round" fill="none"/>
<path d="M503 278l0 0M415 281l1 0M433 281l0 1M512 284l1 1M506 286l-1 1M511 285l1 1M437 293l-0 0M442 291l1 0M477 291l0 1M488 290l0 1M497 293l-1 0M505 290l-0 1M426 298l-0 1M452 296l-0 0M412 302l0 0M458 303l0 0M500 303l1 0M418 308l0 0M431 305l1 0M482 309l-0 0M462 313l-0 1M477 311l1 1M486 311l-0 0M413 319l0 0M455 316l-1 1M471 315l0 1M495 315l0 1M462 322l0 0M473 320l0 0M492 324l0 0M511 321l-1 0M475 328l-1 0M405 331l-0 1M416 333l0 0M434 331l1 0M429 334l-0 1M451 337l0 0M467 336l1 0M490 335l-1 1M494 337l1 0M450 341l-0 1M416 346l-1 0M489 347l1 0M457 352l-1 1M460 354l0 0M493 350l1 1M417 357l0 0M425 356l-0 1M431 358l0 0M448 357l-1 1M461 356l-0 0M438 359l1 1M444 360l0 1M424 367l1 0M450 365l0 1M489 366l-1 0M500 365l0 0M501 365l0 0M421 372l-1 0M447 372l-0 0M479 370l1 1M489 371l0 0M500 373l1 1M449 376l1 0M478 379l-0 0M518 377l-1 0M406 381l-0 0M457 382l1 0M474 389l-1 0M513 397l1 0M432 421l0 0M445 423l-0 1M416 425l-1 1M431 426l-1 0M443 427l0 0M420 432l0 1M405 441l1 0M428 441l0 0M439 439l0 1M481 448l0 0M458 453l0 0M487 451l0 0M484 462l0 0M461 467l-1 0M516 464l-0 1M460 472l0 0M484 471l1 0M440 484l-1 1M449 482l-0 1M458 486l-0 0M467 485l0 1M481 487l-0 1M416 490l0 0M452 494l-0 0M421 504l-0 0M454 499l-1 0M462 504l0 0" stroke="#2828af" stroke-width="3.5" stroke-linecap="round" stroke-linejoin="round" fill="none"/>
<path d="M424 289l-1 1M433 293l0 1M502 294l-1 0M467 314l-0 0M481 310l1 0M510 312l-1 0M487 320l-0 1M413 333l0 0M505 332l0 0M458 336l1 1M503 336l1 0M514 336l-0 1M473 340l-0 1M409 345l0 0M490 361l-0 0M436 368l0 0M485 364l0 0M427 377l1 0M508 379l1 1M510 379l1 1M430 383l-0 1M461 383l0 1M423 385l1 0M475 399l-0 0M501 404l1 0M443 409l1 0M447 404l-0 1M415 411l-0 0M499 410l0 0M427 416l-0 0M437 415l-1 1M509 417l-1 1M429 424l0 0M477 424l0 0M481 434l-1 0M477 436l0 0M480 438l-1 1M515 436l-1 1M424 439l-1 1M482 441l0 0M502 446l1 0M472 465l-1 0M508 471l1 1M473 483l-0 1M432 492l-0 0M509 491l-0 0M455 500l-0 0" stroke="#05050a" stroke-width="3.5" stroke-linecap="round" stroke-linejoin="round" fill="none"/>
<path d="M470 403l0 0" stroke="#221a6e" stroke-width="3.5" stroke-linecap="round" stroke-linejoin="round" fill="none"/>
</g></g>
<rect x="403.3" y="274" width="1.5" height="230" fill="#cfcfcf"/>
<rect x="290" y="388.2" width="229" height="1.5" fill="#cfcfcf"/>
<rect x="290" y="272" width="230" height="1.8" fill="#f4f4f4"/>
<rect x="519" y="274" width="1" height="230" fill="#e8e8e8"/>
<path d="M323.0 282.6H330.2M334.6 282.6H346.4M350.3 282.6H362.0M366.1 282.6H378M382.2 282.6H389.8M323.0 348.1H330.2M334.6 348.1H346.4M350.4 348.1H362.2M366.2 348.1H378M382 348.1H389.8M323.4 281.6V290.5M323.4 293.6V305.5M323.4 309.3V321.6M323.4 325.6V338.1M323.4 342.2V349M388.9 281.6V290.5M388.9 293.4V305.9M388.9 309.5V322M388.9 326.4V338.1M388.9 342.5V349M389 282.5L404 274.4M389 348.2L403.6 388.2M292.5 394.6H300.4M303.5 394.6H316.2M320.4 394.6H332.6M336.6 394.6H348.3M352.7 394.6H359.9M292.5 460.2H300.5M304 460.2H316.6M320.6 460.2H332.6M336.7 460.2H348.3M352.5 460.2H359.9M293.4 393.8V403.9M293.4 408.6V421.5M293.4 425.2V438.4M293.4 442.6V451.6M293.4 455.2V461M359.0 393.8V408.5M359.0 412.8V428M359.0 432V444.5M359.0 448.3V461M359.2 394.6L372.6 393.0M378.0 392.4L390.6 391.0M396.8 390.2L404.0 389.4M359.2 460.2L368.5 469.5M372.5 473.5L382.7 483.7M385.8 486.8L395.6 496.5M398.3 499.2L403.6 504.5" stroke="#fff" stroke-width="2.1" fill="none"/>
<g stroke="#f0f0f0" stroke-width="1.4">
<line x1="295.7" y1="379.8" x2="305" y2="379.8" stroke="#a8a8a8"/>
<line x1="409.5" y1="377.5" x2="455" y2="377.5" stroke="#e0e0d0" stroke-width="1.1"/>
<line x1="295.3" y1="495.6" x2="319.5" y2="495.6"/>
<line x1="409.7" y1="493.5" x2="452.9" y2="493.5"/>
</g>
<text x="290.6" y="267.5" font-size="11.02" font-weight="bold"><tspan fill="#46b455">OX40</tspan> <tspan fill="#e8333c">OX40L</tspan> <tspan fill="#a9d6e0">HLA-DR</tspan> <tspan fill="#f2f2f2">CD11c</tspan> <tspan fill="#a855b5">XCR1</tspan> <tspan fill="#ecea3a">CK</tspan> <tspan fill="#3a9ad9">DAPI</tspan></text>
</svg>
</body></html>
